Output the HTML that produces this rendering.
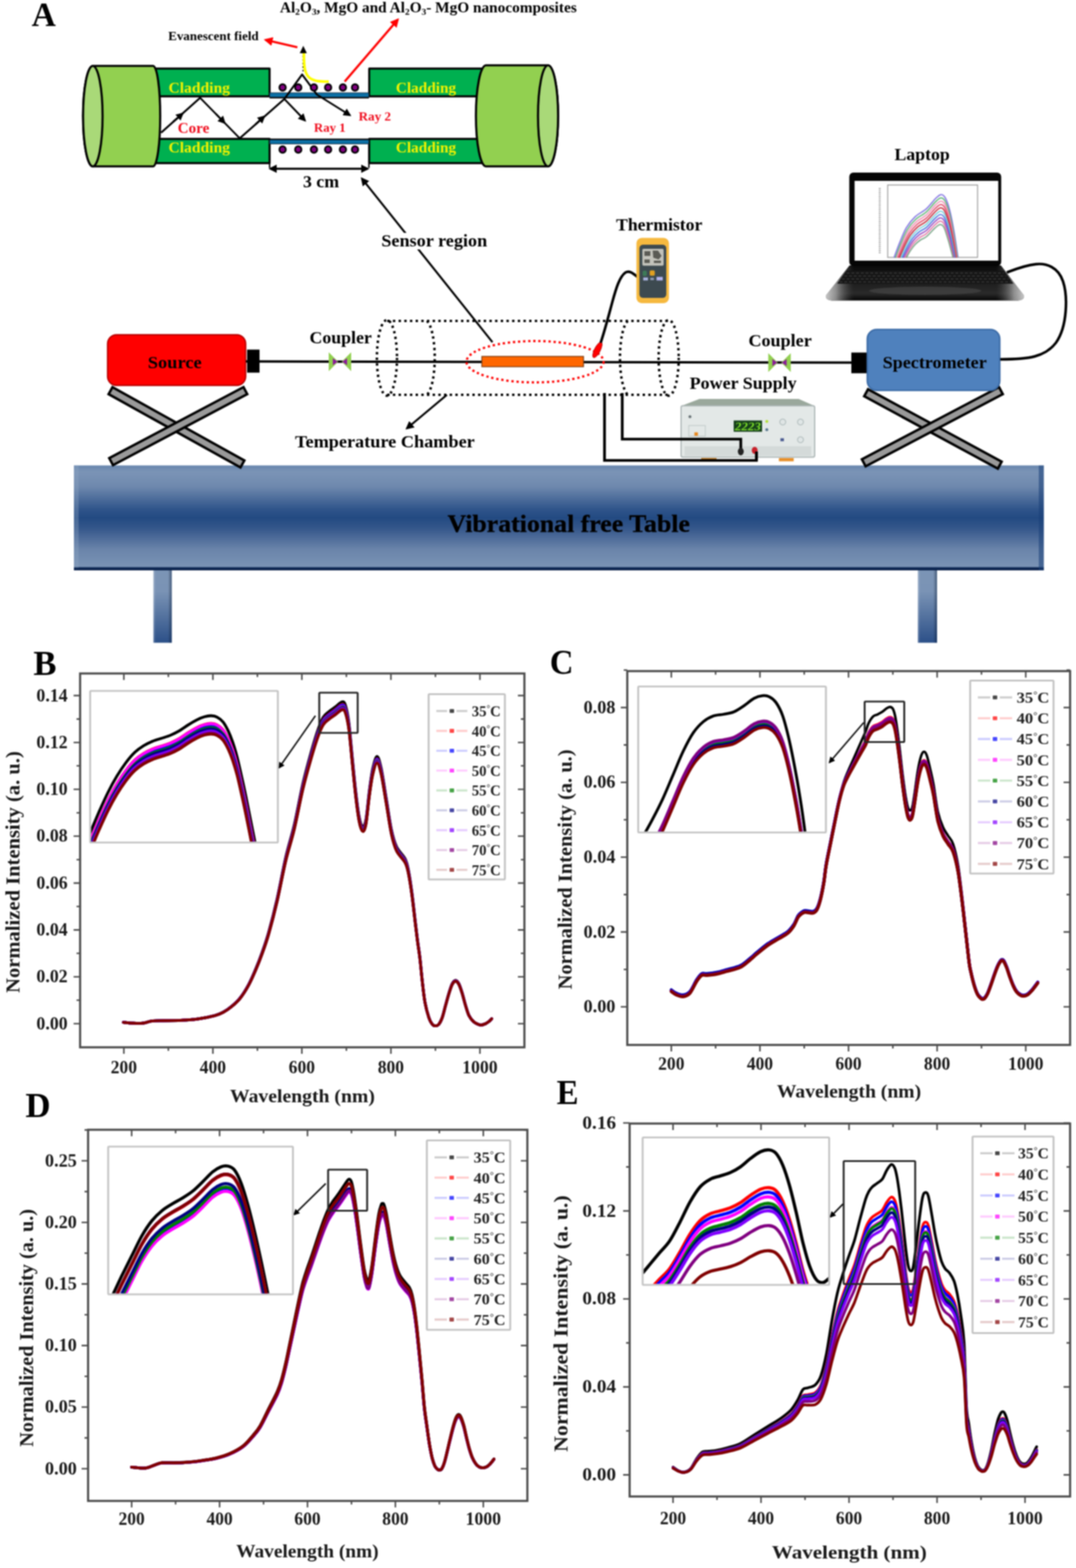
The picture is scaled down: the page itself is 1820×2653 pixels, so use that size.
<!DOCTYPE html>
<html lang="en"><head><meta charset="utf-8"><title>Fiber optic temperature sensor figure</title>
<style>
html,body{margin:0;padding:0;background:#fff}
body{width:1820px;height:2653px;overflow:hidden}
svg{display:block;filter:blur(1.1px)}
svg text{font-family:"Liberation Serif",serif;font-weight:bold}
</style></head><body>
<svg width="1820" height="2653" viewBox="0 0 1820 2653">
<rect width="1820" height="2653" fill="#fff"/>
<defs>
<linearGradient id="tb" x1="0" y1="0" x2="0" y2="1">
<stop offset="0" stop-color="#6685ad"/><stop offset="0.06" stop-color="#7b94b6"/><stop offset="0.2" stop-color="#6f89ae"/>
<stop offset="0.42" stop-color="#2f548a"/><stop offset="0.5" stop-color="#234a82"/><stop offset="0.6" stop-color="#35578b"/>
<stop offset="0.8" stop-color="#6a84aa"/><stop offset="0.965" stop-color="#7a93b5"/><stop offset="0.975" stop-color="#0f2a57"/><stop offset="1" stop-color="#0a2048"/>
</linearGradient>
<linearGradient id="lg" x1="0" y1="0" x2="0" y2="1">
<stop offset="0" stop-color="#7c95b6"/><stop offset="0.3" stop-color="#7a93b5"/><stop offset="1" stop-color="#2c5088"/>
</linearGradient>
<linearGradient id="lgx" x1="0" y1="0" x2="1" y2="0">
<stop offset="0" stop-color="#fff" stop-opacity="0.25"/><stop offset="0.12" stop-color="#fff" stop-opacity="0"/><stop offset="0.8" stop-color="#000" stop-opacity="0"/><stop offset="1" stop-color="#001a40" stop-opacity="0.45"/>
</linearGradient>
<linearGradient id="lapb" x1="0" y1="0" x2="0" y2="1">
<stop offset="0" stop-color="#0a0a0a"/><stop offset="0.5" stop-color="#1e1e1e"/><stop offset="0.8" stop-color="#2a2a2a"/><stop offset="1" stop-color="#050505"/>
</linearGradient>
<linearGradient id="lapx" x1="0" y1="0" x2="1" y2="0">
<stop offset="0" stop-color="#d0d0d0" stop-opacity="0.95"/><stop offset="0.05" stop-color="#aaa" stop-opacity="0.8"/><stop offset="0.14" stop-color="#555" stop-opacity="0"/><stop offset="0.86" stop-color="#555" stop-opacity="0"/><stop offset="0.95" stop-color="#aaa" stop-opacity="0.8"/><stop offset="1" stop-color="#d0d0d0" stop-opacity="0.95"/>
</linearGradient>
<marker id="ah" viewBox="0 0 10 10" refX="8" refY="5" markerWidth="4.2" markerHeight="4.2" orient="auto-start-reverse"><path d="M0 0L10 5L0 10z"/></marker>
<marker id="ahr" viewBox="0 0 10 10" refX="8" refY="5" markerWidth="4.2" markerHeight="4.2" orient="auto-start-reverse"><path d="M0 0L10 5L0 10z" fill="#f00"/></marker>
</defs>
<g id="table">
<rect x="259.5" y="963" width="31" height="124.5" fill="url(#lg)"/>
<rect x="259.5" y="963" width="31" height="124.5" fill="url(#lgx)"/>
<rect x="1552.5" y="963" width="32.5" height="124.5" fill="url(#lg)"/>
<rect x="1552.5" y="963" width="32.5" height="124.5" fill="url(#lgx)"/>
<rect x="125" y="787.5" width="1640.5" height="177.5" fill="url(#tb)"/>
<rect x="125" y="787.5" width="8" height="173" fill="#8fa6c4" opacity="0.35"/>
<rect x="1757" y="787.5" width="8.5" height="177.5" fill="#1a3f78" opacity="0.55"/>
<text x="757.0" y="900.0" font-size="42.5" textLength="410.0" lengthAdjust="spacingAndGlyphs" stroke="#000" stroke-width="0.5">Vibrational free Table</text>
</g>
<g id="stands">
<rect x="0" y="-6.75" width="255.2" height="13.5" fill="#9a9a9a" stroke="#000" stroke-width="4.2" transform="translate(187.0 661.0) rotate(29.08)"/>
<rect x="0" y="-6.75" width="256.8" height="13.5" fill="#9a9a9a" stroke="#000" stroke-width="4.2" transform="translate(415.0 661.0) rotate(152.14)"/>
<rect x="0" y="-6.75" width="257.1" height="13.5" fill="#9a9a9a" stroke="#000" stroke-width="4.2" transform="translate(1465.0 664.5) rotate(28.46)"/>
<rect x="0" y="-6.75" width="262.1" height="13.5" fill="#9a9a9a" stroke="#000" stroke-width="4.2" transform="translate(1693.0 661.0) rotate(152.26)"/>
</g>
<rect x="182" y="566.5" width="233.5" height="85.5" rx="15" fill="#ff0000" stroke="#b80000" stroke-width="2.4"/>
<text x="250.0" y="622.5" font-size="30" textLength="91.0" lengthAdjust="spacingAndGlyphs">Source</text>
<rect x="418" y="591.5" width="21" height="39" fill="#000"/>
<line x1="416" y1="611.5" x2="1441" y2="613.5" stroke="#000" stroke-width="4"/>
<rect x="1440" y="596.5" width="27" height="35" fill="#000"/>
<rect x="1467" y="557.5" width="224" height="103" rx="16" fill="#4f81bd" stroke="#3a6aa6" stroke-width="2.6"/>
<text x="1493.0" y="623.0" font-size="30" textLength="176.0" lengthAdjust="spacingAndGlyphs">Spectrometer</text>
<path d="M1692 608 C1740 608 1768 604 1786 580 C1806 552 1806 500 1798 476 C1790 452 1770 445 1752 447 C1733 449 1716 456 1703 461" fill="none" stroke="#000" stroke-width="4.4"/>
<path d="M556 596L572 612L556 628z" fill="#92d050"/><path d="M594 596L578 612L594 628z" fill="#92d050"/><path d="M563 606L571 612L563 618z" fill="#8a1a9a"/><path d="M587 606L579 612L587 618z" fill="#8a1a9a"/>
<path d="M1299.5 597.5L1315.5 613.5L1299.5 629.5z" fill="#92d050"/><path d="M1337.5 597.5L1321.5 613.5L1337.5 629.5z" fill="#92d050"/><path d="M1306.5 607.5L1314.5 613.5L1306.5 619.5z" fill="#8a1a9a"/><path d="M1330.5 607.5L1322.5 613.5L1330.5 619.5z" fill="#8a1a9a"/>
<text x="523.5" y="581.0" font-size="30" textLength="105.5" lengthAdjust="spacingAndGlyphs">Coupler</text>
<text x="1266.0" y="586.0" font-size="30" textLength="107.0" lengthAdjust="spacingAndGlyphs">Coupler</text>
<g fill="none" stroke="#000" stroke-width="4.2" stroke-dasharray="4 5.6">
<ellipse cx="654.5" cy="605.5" rx="17" ry="64"/>
<path d="M722 543 A17 64 0 0 1 722 668"/>
<line x1="655" y1="543" x2="1132" y2="543"/>
<line x1="655" y1="668" x2="1132" y2="668"/>
<ellipse cx="1131" cy="605.5" rx="17" ry="64"/>
<path d="M1062 543 A17 64 0 0 0 1062 668"/>
</g>
<ellipse cx="905" cy="612" rx="116" ry="35" fill="none" stroke="#f00" stroke-width="3.8" stroke-dasharray="3.8 4.8"/>
<rect x="815" y="603" width="172" height="17.5" fill="#ff6600" stroke="#7a3b10" stroke-width="1.5"/>
<ellipse cx="1010.5" cy="592" rx="5" ry="14.5" fill="#f00" stroke="#b00000" stroke-width="1" transform="rotate(27 1010.5 592)"/>
<path d="M1016 580 C1024 556 1030 532 1036 510 C1042 488 1048 468 1058 461 C1066 456 1074 466 1083 472" fill="none" stroke="#000" stroke-width="4.4"/>
<g id="therm">
<rect x="1076.5" y="402.5" width="55" height="110.5" rx="9" fill="#f6b93f"/>
<rect x="1081.5" y="414" width="45.5" height="90" rx="6" fill="#3d4a50"/>
<rect x="1086.5" y="421" width="36" height="28.5" rx="2" fill="#c3c3bb"/>
<path d="M1090 425h10v8h-10zM1104 424l9 0l6 9l-5 6l-9-3zM1090 439h9v6h-9zM1106 441h12v4h-12z" fill="#5b5b55"/>
<rect x="1099" y="457.5" width="8.5" height="9" rx="2" fill="#e2a020"/>
<rect x="1087" y="458" width="7" height="9" rx="2" fill="#3d7a58"/>
<rect x="1088" y="469.5" width="8" height="5" fill="#aab4e0"/><rect x="1100" y="470" width="6" height="4" fill="#8f9ab0"/><rect x="1110.5" y="468.5" width="10.5" height="6" fill="#b4b4f0"/>
</g>
<text x="1042.0" y="389.5" font-size="30" textLength="146.0" lengthAdjust="spacingAndGlyphs">Thermistor</text>
<line x1="833" y1="579" x2="612" y2="302" stroke="#000" stroke-width="3.4" marker-end="url(#ah)"/>
<rect x="640" y="394" width="190" height="28" fill="#fff"/>
<text x="645.0" y="417.0" font-size="30" textLength="179.0" lengthAdjust="spacingAndGlyphs">Sensor region</text>
<line x1="756" y1="668" x2="688" y2="725" stroke="#000" stroke-width="3.4" marker-end="url(#ah)"/>
<text x="499.0" y="757.0" font-size="30" textLength="304.0" lengthAdjust="spacingAndGlyphs">Temperature Chamber</text>
<g id="psu">
<path d="M1183 675L1351 675L1378 687L1152 687z" fill="#9aa89c"/>
<rect x="1152" y="686.5" width="226" height="87" rx="3" fill="#e3e8e7" stroke="#aab4b4" stroke-width="2"/>
<rect x="1158" y="755" width="214" height="16" fill="#d4dad9"/>
<rect x="1241" y="711.5" width="48" height="19" fill="#16401a"/>
<text x="1243.0" y="728.0" font-size="19" fill="#7bdc2a" textLength="44.0" lengthAdjust="spacingAndGlyphs" font-family="Liberation Sans,sans-serif" font-style="italic">2223</text>
<circle cx="1297" cy="713" r="2.5" fill="#b4e03a"/><circle cx="1297" cy="727" r="2.5" fill="#5a7890"/>
<rect x="1174.5" y="731.5" width="6" height="6.5" fill="#e8871e"/>
<path d="M1165 720h28v18h-28z" fill="none" stroke="#c4cccc" stroke-width="1.5"/>
<circle cx="1324" cy="714" r="5" fill="#dfe5e5" stroke="#b0bcbc" stroke-width="1.5"/><circle cx="1354" cy="714" r="5" fill="#dfe5e5" stroke="#b0bcbc" stroke-width="1.5"/><circle cx="1354" cy="744" r="5" fill="#dfe5e5" stroke="#b0bcbc" stroke-width="1.5"/>
<rect x="1320" y="741.5" width="6" height="5" fill="#4a5a90"/>
<circle cx="1167" cy="705" r="2.5" fill="#6a7478"/>
<rect x="1186" y="775" width="26" height="5" fill="#c87818"/><rect x="1317.5" y="775" width="25" height="5.5" fill="#e8902a"/>
</g>
<text x="1166.5" y="657.5" font-size="30" textLength="181.0" lengthAdjust="spacingAndGlyphs">Power Supply</text>
<path d="M1022.5 665V779H1279.5V764" fill="none" stroke="#000" stroke-width="4.6"/>
<path d="M1052.5 665V743H1253V762" fill="none" stroke="#000" stroke-width="4.6"/>
<ellipse cx="1253" cy="764" rx="5" ry="6.5" fill="#222"/>
<ellipse cx="1276.5" cy="762" rx="5" ry="6" fill="#c8202a"/>
<path d="M1279.5 779V764" fill="none" stroke="#000" stroke-width="4.6"/>
<g id="laptop">
<path d="M1437 449L1693 449L1732 500Q1733 508 1722 508.5L1407 508.5Q1396 508 1397 500z" fill="url(#lapb)"/>
<path d="M1437 449L1693 449L1732 500Q1733 508 1722 508.5L1407 508.5Q1396 508 1397 500z" fill="url(#lapx)"/>
<path d="M1432 458L1698 458L1714 480L1416 480z" fill="#161616"/>
<path d="M1432 462H1698M1428 467H1702M1424 472H1706M1420 477H1710" stroke="#3c3c3c" stroke-width="1.6" stroke-dasharray="5 3" fill="none"/>
<ellipse cx="1565" cy="492" rx="95" ry="7" fill="#444" opacity="0.7"/>
<rect x="1436.5" y="292" width="257" height="158" rx="7" fill="#050505"/>
<rect x="1445.5" y="306" width="243" height="135" fill="#fff"/>
<rect x="1501.5" y="313" width="152" height="122.500" fill="#fff" stroke="#9a9a9a" stroke-width="1.6"/>
<line x1="1488" y1="318" x2="1488" y2="430" stroke="#666" stroke-width="3" stroke-dasharray="2 1.5" opacity="0.6"/>
<path d="M1512.2 436.0C1513.8 431.7 1518.5 418.4 1522.0 410.0C1525.5 401.6 1528.7 392.6 1533.0 385.4C1537.3 378.2 1542.4 371.9 1548.0 366.6C1553.6 361.3 1561.1 358.4 1566.8 353.4C1572.5 348.4 1577.8 340.5 1581.9 336.5C1586.0 332.5 1588.5 329.6 1591.3 329.3C1594.1 329.0 1596.3 330.3 1598.8 334.6C1601.3 338.9 1603.8 345.6 1606.3 355.3C1608.8 365.0 1611.6 379.6 1613.9 393.0C1616.2 406.4 1619.3 428.8 1620.4 436.0" fill="none" stroke="#7a6ae0" stroke-width="2.2" opacity="0.9"/>
<path d="M1514.5 436.0C1516.1 431.9 1520.6 419.5 1524.0 411.6C1527.4 403.6 1530.5 395.3 1534.7 388.5C1538.8 381.8 1543.6 376.0 1549.0 371.0C1554.4 366.0 1561.3 363.5 1566.8 358.6C1572.3 353.8 1577.8 345.9 1581.9 341.9C1586.0 338.0 1588.4 335.2 1591.2 334.9C1594.0 334.6 1596.1 335.9 1598.6 340.2C1601.1 344.6 1603.6 351.8 1606.1 361.2C1608.5 370.5 1611.0 383.6 1613.2 396.1C1615.5 408.6 1618.4 429.4 1619.5 436.0" fill="none" stroke="#58b070" stroke-width="2.2" opacity="0.9"/>
<path d="M1516.8 436.0C1518.4 432.2 1522.7 420.5 1526.0 413.1C1529.3 405.7 1532.3 398.0 1536.3 391.7C1540.3 385.4 1544.9 380.0 1550.0 375.4C1555.1 370.7 1561.5 368.5 1566.8 363.9C1572.1 359.2 1577.9 351.3 1581.9 347.4C1585.9 343.5 1588.3 340.8 1591.1 340.5C1593.8 340.3 1595.9 341.5 1598.4 345.9C1600.9 350.3 1603.5 358.1 1605.9 367.0C1608.2 375.9 1610.5 387.7 1612.6 399.2C1614.7 410.7 1617.5 429.9 1618.5 436.0" fill="none" stroke="#f08ab0" stroke-width="2.2" opacity="0.9"/>
<path d="M1519.1 436.0C1520.6 432.4 1524.9 421.5 1528.0 414.7C1531.1 407.8 1534.2 400.6 1538.0 394.8C1541.8 389.0 1546.2 384.0 1551.0 379.7C1555.8 375.4 1561.6 373.6 1566.8 369.1C1572.0 364.6 1577.9 356.6 1581.9 352.8C1585.9 349.0 1588.2 346.3 1591.0 346.1C1593.7 345.9 1595.8 347.1 1598.2 351.5C1600.7 356.0 1603.4 364.4 1605.7 372.9C1608.0 381.3 1609.9 391.8 1611.9 402.3C1613.9 412.9 1616.7 430.4 1617.6 436.0" fill="none" stroke="#e04060" stroke-width="2.2" opacity="0.9"/>
<path d="M1521.4 436.0C1522.9 432.7 1527.0 422.6 1530.0 416.2C1533.0 409.9 1536.0 403.3 1539.7 397.9C1543.3 392.6 1547.5 388.0 1552.0 384.1C1556.5 380.2 1561.8 378.6 1566.8 374.3C1571.8 370.0 1577.9 362.0 1581.9 358.2C1585.9 354.5 1588.2 351.9 1590.9 351.7C1593.5 351.6 1595.6 352.7 1598.0 357.2C1600.4 361.7 1603.2 370.7 1605.5 378.7C1607.7 386.8 1609.4 395.9 1611.3 405.4C1613.1 415.0 1615.8 430.9 1616.7 436.0" fill="none" stroke="#c02030" stroke-width="2.2" opacity="0.9"/>
<path d="M1523.8 436.0C1525.1 433.0 1529.1 423.6 1532.0 417.8C1534.9 412.0 1537.8 405.9 1541.3 401.1C1544.8 396.2 1548.8 392.1 1553.0 388.5C1557.2 384.9 1562.0 383.7 1566.8 379.6C1571.6 375.4 1577.9 367.4 1581.9 363.7C1585.9 360.0 1588.1 357.5 1590.7 357.4C1593.4 357.2 1595.4 358.3 1597.8 362.8C1600.2 367.4 1603.1 377.0 1605.2 384.6C1607.4 392.2 1608.9 400.0 1610.6 408.6C1612.4 417.1 1614.9 431.4 1615.7 436.0" fill="none" stroke="#70d0d8" stroke-width="2.2" opacity="0.9"/>
<path d="M1526.1 436.0C1527.4 433.2 1531.2 424.6 1534.0 419.3C1536.8 414.0 1539.7 408.6 1543.0 404.2C1546.3 399.8 1550.0 396.1 1554.0 392.9C1558.0 389.6 1562.1 388.8 1566.8 384.8C1571.5 380.8 1577.9 372.7 1581.9 369.1C1585.9 365.5 1588.0 363.1 1590.6 363.0C1593.2 362.9 1595.2 363.9 1597.6 368.5C1600.0 373.0 1603.0 383.2 1605.0 390.4C1607.1 397.6 1608.3 404.1 1610.0 411.7C1611.6 419.3 1614.0 431.9 1614.8 436.0" fill="none" stroke="#4070e0" stroke-width="2.2" opacity="0.9"/>
<path d="M1528.4 436.0C1529.6 433.5 1533.3 425.7 1536.0 420.9C1538.7 416.1 1541.5 411.3 1544.7 407.3C1547.8 403.4 1551.3 400.1 1555.0 397.2C1558.7 394.4 1562.3 393.8 1566.8 390.0C1571.3 386.2 1577.9 378.1 1581.9 374.5C1585.9 371.0 1587.9 368.6 1590.5 368.6C1593.1 368.5 1595.0 369.5 1597.4 374.1C1599.8 378.7 1602.8 389.5 1604.8 396.3C1606.8 403.1 1607.8 408.2 1609.3 414.8C1610.8 421.4 1613.1 432.5 1613.9 436.0" fill="none" stroke="#9040c0" stroke-width="2.2" opacity="0.9"/>
<path d="M1530.7 436.0C1531.9 433.7 1535.4 426.7 1538.0 422.4C1540.6 418.2 1543.3 413.9 1546.3 410.5C1549.3 407.0 1552.6 404.2 1556.0 401.6C1559.4 399.1 1562.5 398.9 1566.8 395.3C1571.1 391.7 1578.0 383.5 1581.9 380.0C1585.8 376.5 1587.9 374.2 1590.4 374.2C1593.0 374.2 1594.8 375.1 1597.2 379.8C1599.6 384.4 1602.7 395.8 1604.6 402.1C1606.5 408.5 1607.3 412.2 1608.7 417.9C1610.0 423.5 1612.2 433.0 1612.9 436.0" fill="none" stroke="#e070a0" stroke-width="2.2" opacity="0.9"/>
<path d="M1533.0 436.0C1534.2 434.0 1537.5 427.7 1540.0 424.0C1542.5 420.3 1545.2 416.6 1548.0 413.6C1550.8 410.6 1553.9 408.2 1557.0 406.0C1560.1 403.8 1562.6 403.9 1566.8 400.5C1571.0 397.1 1578.0 388.8 1581.9 385.4C1585.8 381.9 1587.8 379.8 1590.3 379.8C1592.8 379.8 1594.7 380.7 1597.0 385.4C1599.3 390.1 1602.6 402.1 1604.4 408.0C1606.2 413.9 1606.7 416.3 1608.0 421.0C1609.3 425.7 1611.3 433.5 1612.0 436.0" fill="none" stroke="#70a080" stroke-width="2.2" opacity="0.9"/>
</g>
<text x="1513.0" y="270.5" font-size="30" textLength="93.5" lengthAdjust="spacingAndGlyphs">Laptop</text>
<g id="fibre" stroke-linejoin="round">
<rect x="262" y="116" width="194" height="47" fill="#00b050" stroke="#000" stroke-width="3.4"/>
<rect x="262" y="235" width="194" height="41" fill="#00b050" stroke="#000" stroke-width="3.4"/>
<rect x="624.5" y="116" width="196" height="47" fill="#00b050" stroke="#000" stroke-width="3.4"/>
<rect x="624.5" y="235" width="196" height="41" fill="#00b050" stroke="#000" stroke-width="3.4"/>
<rect x="456" y="157" width="168" height="7.5" fill="#0b6fa4" stroke="#123" stroke-width="1.2"/>
<rect x="456" y="236.5" width="168" height="7" fill="#0b6fa4" stroke="#123" stroke-width="1.2"/>
<line x1="456" y1="165.5" x2="624" y2="165.5" stroke="#000" stroke-width="2"/><line x1="456" y1="235.5" x2="624" y2="235.5" stroke="#000" stroke-width="2"/>
<line x1="456" y1="244" x2="456" y2="284" stroke="#000" stroke-width="2.4"/><line x1="624" y1="244" x2="624" y2="284" stroke="#000" stroke-width="2.4"/>
<path d="M157 111.5L259 111.5A12 85 0 0 1 259 281.500L157 281.5A16.500 85 0 0 1 157 111.5z" fill="#92d050" stroke="#000" stroke-width="3.6"/>
<ellipse cx="157" cy="196.5" rx="16.5" ry="85" fill="#a9d978" stroke="#000" stroke-width="3.6"/>
<path d="M822 110.500L927 110.500A17 85.500 0 0 1 927 281.500L822 281.500A17 85.500 0 0 1 822 110.500z" fill="#92d050" stroke="#000" stroke-width="3.6"/>
<ellipse cx="927" cy="196" rx="17" ry="85.500" fill="#a9d978" stroke="#000" stroke-width="3.6"/>
<path d="M272.5 224.5L338.500 165.5L405.500 234L481 167.500L511 126L536 160L592 195" fill="none" stroke="#000" stroke-width="3.2" marker-end="url(#ah)"/>
<path d="M481 167.500L516 204" fill="none" stroke="#000" stroke-width="3.2" marker-end="url(#ah)"/>
<path d="M293 206L309 192" fill="none" stroke="#000" stroke-width="3.2" marker-end="url(#ah)"/>
<path d="M365 192.500L380 208" fill="none" stroke="#000" stroke-width="3.2" marker-end="url(#ah)"/>
<path d="M432 210.500L447 197" fill="none" stroke="#000" stroke-width="3.2" marker-end="url(#ah)"/>
<line x1="512.500" y1="88" x2="512.500" y2="124" stroke="#000" stroke-width="1.6" stroke-dasharray="3 3"/>
<path d="M514 90C514 112 515 125 524 132C533 138.500 545 138 556 138" fill="none" stroke="#ffff00" stroke-width="4.4"/>
<path d="M513 77.500L519 90L507 90z" fill="#000"/>
<line x1="503" y1="80" x2="449" y2="67.500" stroke="#f00" stroke-width="3.6" marker-end="url(#ahr)"/>
<line x1="583" y1="138" x2="673" y2="33" stroke="#f00" stroke-width="3.6" marker-end="url(#ahr)"/>
<circle cx="478" cy="148" r="5.4" fill="#800080" stroke="#000" stroke-width="3"/>
<circle cx="478" cy="253" r="5.4" fill="#800080" stroke="#000" stroke-width="3"/>
<circle cx="504.5" cy="148" r="5.4" fill="#800080" stroke="#000" stroke-width="3"/>
<circle cx="504.5" cy="253" r="5.4" fill="#800080" stroke="#000" stroke-width="3"/>
<circle cx="531" cy="148" r="5.4" fill="#800080" stroke="#000" stroke-width="3"/>
<circle cx="531" cy="253" r="5.4" fill="#800080" stroke="#000" stroke-width="3"/>
<circle cx="555" cy="148" r="5.4" fill="#800080" stroke="#000" stroke-width="3"/>
<circle cx="555" cy="253" r="5.4" fill="#800080" stroke="#000" stroke-width="3"/>
<circle cx="580" cy="148" r="5.4" fill="#800080" stroke="#000" stroke-width="3"/>
<circle cx="580" cy="253" r="5.4" fill="#800080" stroke="#000" stroke-width="3"/>
<circle cx="600.5" cy="148" r="5.4" fill="#800080" stroke="#000" stroke-width="3"/>
<circle cx="600.5" cy="253" r="5.4" fill="#800080" stroke="#000" stroke-width="3"/>
</g>
<text x="285.0" y="156.5" font-size="26" fill="#f2f200" textLength="104.0" lengthAdjust="spacingAndGlyphs">Cladding</text>
<text x="285.0" y="257.5" font-size="26" fill="#f2f200" textLength="104.0" lengthAdjust="spacingAndGlyphs">Cladding</text>
<text x="669.5" y="156.5" font-size="26" fill="#f2f200" textLength="102.0" lengthAdjust="spacingAndGlyphs">Cladding</text>
<text x="669.5" y="257.5" font-size="26" fill="#f2f200" textLength="102.0" lengthAdjust="spacingAndGlyphs">Cladding</text>
<text x="300.5" y="225.0" font-size="26" fill="#f01020" textLength="53.5" lengthAdjust="spacingAndGlyphs">Core</text>
<text x="531.0" y="222.5" font-size="21" fill="#f01020" textLength="53.5" lengthAdjust="spacingAndGlyphs">Ray 1</text>
<text x="606.5" y="204.0" font-size="21" fill="#f01020" textLength="55.0" lengthAdjust="spacingAndGlyphs">Ray 2</text>
<text x="284.5" y="67.5" font-size="21" textLength="153.0" lengthAdjust="spacingAndGlyphs">Evanescent field</text>
<line x1="457" y1="285.500" x2="622" y2="285.500" stroke="#000" stroke-width="3.4" marker-start="url(#ah)" marker-end="url(#ah)"/>
<text x="512.5" y="317.0" font-size="30" textLength="61.0" lengthAdjust="spacingAndGlyphs">3 cm</text>
<text x="473.5" y="21.0" font-size="24.5" textLength="502.0" lengthAdjust="spacingAndGlyphs">Al<tspan font-size="15" dy="4">2</tspan><tspan dy="-4">O</tspan><tspan font-size="15" dy="4">3</tspan><tspan dy="-4">, MgO and Al</tspan><tspan font-size="15" dy="4">2</tspan><tspan dy="-4">O</tspan><tspan font-size="15" dy="4">3</tspan><tspan dy="-4">- MgO nanocomposites</tspan></text>
<text x="53.5" y="44.0" font-size="56" textLength="41.0" lengthAdjust="spacingAndGlyphs">A</text>
<g id="chartB">
<rect x="135.5" y="1139.5" width="751.5" height="632.5" fill="#fff" stroke="#4c4c4c" stroke-width="3.6"/>
<text x="209.5" y="1815.5" font-size="31" text-anchor="middle" fill="#1a1a1a" textLength="44.5" lengthAdjust="spacingAndGlyphs">200</text>
<text x="360.1" y="1815.5" font-size="31" text-anchor="middle" fill="#1a1a1a" textLength="44.5" lengthAdjust="spacingAndGlyphs">400</text>
<text x="510.6" y="1815.5" font-size="31" text-anchor="middle" fill="#1a1a1a" textLength="44.5" lengthAdjust="spacingAndGlyphs">600</text>
<text x="661.2" y="1815.5" font-size="31" text-anchor="middle" fill="#1a1a1a" textLength="44.5" lengthAdjust="spacingAndGlyphs">800</text>
<text x="811.8" y="1815.5" font-size="31" text-anchor="middle" fill="#1a1a1a" textLength="60.0" lengthAdjust="spacingAndGlyphs">1000</text>
<text x="114.5" y="1741.6" font-size="30.5" text-anchor="end" fill="#1a1a1a" textLength="53.0" lengthAdjust="spacingAndGlyphs">0.00</text>
<text x="114.5" y="1662.3" font-size="30.5" text-anchor="end" fill="#1a1a1a" textLength="53.0" lengthAdjust="spacingAndGlyphs">0.02</text>
<text x="114.5" y="1583.0" font-size="30.5" text-anchor="end" fill="#1a1a1a" textLength="53.0" lengthAdjust="spacingAndGlyphs">0.04</text>
<text x="114.5" y="1503.7" font-size="30.5" text-anchor="end" fill="#1a1a1a" textLength="53.0" lengthAdjust="spacingAndGlyphs">0.06</text>
<text x="114.5" y="1424.4" font-size="30.5" text-anchor="end" fill="#1a1a1a" textLength="53.0" lengthAdjust="spacingAndGlyphs">0.08</text>
<text x="114.5" y="1345.1" font-size="30.5" text-anchor="end" fill="#1a1a1a" textLength="53.0" lengthAdjust="spacingAndGlyphs">0.10</text>
<text x="114.5" y="1265.8" font-size="30.5" text-anchor="end" fill="#1a1a1a" textLength="53.0" lengthAdjust="spacingAndGlyphs">0.12</text>
<text x="114.5" y="1186.5" font-size="30.5" text-anchor="end" fill="#1a1a1a" textLength="53.0" lengthAdjust="spacingAndGlyphs">0.14</text>
<path d="M209.5 1139.5v11M209.5 1772v11M284.8 1139.5v6M284.8 1772v6M360.1 1139.5v11M360.1 1772v11M435.4 1139.5v6M435.4 1772v6M510.6 1139.5v11M510.6 1772v11M585.9 1139.5v6M585.9 1772v6M661.2 1139.5v11M661.2 1772v11M736.5 1139.5v6M736.5 1772v6M811.8 1139.5v11M811.8 1772v11M135.5 1732.0h-11M887 1732.0h-11M135.5 1692.3h-6M887 1692.3h-6M135.5 1652.7h-11M887 1652.7h-11M135.5 1613.0h-6M887 1613.0h-6M135.5 1573.4h-11M887 1573.4h-11M135.5 1533.8h-6M887 1533.8h-6M135.5 1494.1h-11M887 1494.1h-11M135.5 1454.5h-6M887 1454.5h-6M135.5 1414.8h-11M887 1414.8h-11M135.5 1375.2h-6M887 1375.2h-6M135.5 1335.5h-11M887 1335.5h-11M135.5 1295.8h-6M887 1295.8h-6M135.5 1256.2h-11M887 1256.2h-11M135.5 1216.6h-6M887 1216.6h-6M135.5 1176.9h-11M887 1176.9h-11" stroke="#4c4c4c" stroke-width="2.6" fill="none"/>
<text x="389.0" y="1865.0" font-size="32" fill="#1a1a1a" textLength="245.0" lengthAdjust="spacingAndGlyphs">Wavelength (nm)</text>
<text x="32.5" y="1680" font-size="34" fill="#1a1a1a" textLength="409.0" lengthAdjust="spacingAndGlyphs" transform="rotate(-90 32.5 1680)">Normalized Intensity (a. u.)</text>
<text x="56.5" y="1141.5" font-size="59" textLength="39.0" lengthAdjust="spacingAndGlyphs">B</text>
<clipPath id="cpB"><rect x="135.5" y="1139.5" width="751.5" height="632.5"/></clipPath>
<g clip-path="url(#cpB)" fill="none" stroke-width="4.7" stroke-linejoin="round" stroke-linecap="round">
<path d="M208.8 1729.7C211.4 1730.0 219.1 1731.0 224.6 1731.2C230.1 1731.5 236.7 1731.8 242.0 1731.2C247.3 1730.6 250.6 1728.2 256.4 1727.5C262.2 1726.8 268.4 1727.0 276.6 1726.8C284.8 1726.6 295.8 1726.8 305.4 1726.3C315.0 1725.8 324.7 1725.3 334.3 1724.0C343.9 1722.7 356.0 1720.1 363.2 1718.2C370.4 1716.3 372.8 1715.1 377.6 1712.4C382.4 1709.8 387.2 1706.4 392.0 1702.3C396.8 1698.2 401.6 1694.2 406.4 1687.9C411.2 1681.7 416.5 1673.1 420.9 1664.8C425.3 1656.5 429.3 1646.8 433.0 1638.0C436.7 1629.2 439.4 1622.2 443.0 1612.0C446.6 1601.8 450.1 1592.5 454.4 1577.1C458.7 1561.7 464.1 1540.6 468.9 1519.4C473.7 1498.2 478.5 1470.8 483.3 1450.1C488.1 1429.4 492.9 1416.0 497.7 1395.3C502.5 1374.6 507.4 1346.7 512.2 1326.0C517.0 1305.3 522.3 1286.6 526.6 1271.2C530.9 1255.8 534.7 1243.3 538.1 1233.7C541.5 1224.1 543.9 1218.3 546.8 1213.5C549.7 1208.7 552.0 1207.7 555.4 1204.8C558.8 1201.9 563.1 1199.1 567.0 1196.2C570.9 1193.3 575.6 1188.0 578.5 1187.5C581.4 1187.0 582.4 1187.5 584.3 1193.3C586.2 1199.1 588.2 1207.8 590.1 1222.2C592.0 1236.6 593.9 1260.7 595.8 1279.9C597.7 1299.1 599.7 1320.8 601.6 1337.6C603.5 1354.4 605.5 1370.8 607.4 1380.9C609.3 1391.0 611.3 1397.2 613.2 1398.2C615.1 1399.2 617.0 1396.8 618.9 1386.7C620.8 1376.6 622.8 1352.0 624.7 1337.6C626.6 1323.2 628.3 1309.7 630.5 1300.1C632.7 1290.5 635.3 1279.9 637.7 1279.9C640.1 1279.9 642.2 1288.1 644.9 1300.1C647.5 1312.1 650.7 1334.7 653.6 1352.0C656.5 1369.3 659.3 1390.5 662.2 1404.0C665.1 1417.5 667.0 1424.6 670.9 1432.8C674.8 1441.0 681.9 1446.3 685.3 1453.0C688.7 1459.7 689.2 1463.6 691.1 1473.2C693.0 1482.8 695.0 1496.4 696.9 1510.8C698.8 1525.2 701.0 1546.3 702.6 1559.8C704.2 1573.3 705.2 1582.0 706.5 1592.0C707.8 1602.0 709.1 1609.1 710.3 1620.0C711.6 1630.9 712.7 1645.1 714.1 1657.6C715.5 1670.2 716.9 1684.6 718.8 1695.3C720.7 1705.9 723.4 1715.4 725.4 1721.6C727.4 1727.9 729.2 1730.6 731.0 1732.9C732.9 1735.3 734.8 1735.7 736.7 1735.7C738.6 1735.7 740.5 1735.3 742.3 1732.9C744.2 1730.6 746.1 1727.0 748.0 1721.6C749.9 1716.3 751.7 1707.8 753.6 1700.9C755.5 1694.0 757.4 1686.3 759.3 1680.2C761.2 1674.1 763.0 1667.8 764.9 1664.2C766.8 1660.6 768.7 1658.6 770.6 1658.6C772.4 1658.6 774.3 1660.6 776.2 1664.2C778.1 1667.8 780.0 1674.1 781.9 1680.2C783.7 1686.3 785.6 1694.7 787.5 1700.9C789.4 1707.2 791.0 1713.3 793.1 1717.9C795.3 1722.4 798.2 1725.7 800.7 1728.2C803.2 1730.7 806.0 1731.9 808.2 1732.9C810.4 1734.0 811.7 1734.6 813.9 1734.4C816.0 1734.3 819.2 1733.0 821.4 1732.0C823.6 1730.9 825.3 1729.6 827.0 1728.2C828.8 1726.8 830.9 1724.3 831.7 1723.5" stroke="#000000"/>
<path d="M208.8 1729.7C211.4 1730.0 219.1 1731.0 224.6 1731.2C230.1 1731.5 236.7 1731.8 242.0 1731.2C247.3 1730.6 250.6 1728.3 256.4 1727.5C262.2 1726.8 268.4 1727.0 276.6 1726.8C284.8 1726.6 295.8 1726.8 305.4 1726.3C315.0 1725.9 324.7 1725.4 334.3 1724.1C343.9 1722.7 356.0 1720.2 363.2 1718.3C370.4 1716.4 372.8 1715.2 377.6 1712.6C382.4 1709.9 387.2 1706.6 392.0 1702.5C396.8 1698.5 401.6 1694.5 406.4 1688.3C411.2 1682.1 416.5 1673.6 420.9 1665.3C425.3 1657.1 429.3 1647.5 433.0 1638.8C436.7 1630.0 439.4 1623.0 443.0 1613.0C446.6 1602.9 450.1 1593.6 454.4 1578.3C458.7 1563.0 464.1 1542.1 468.9 1521.1C473.7 1500.1 478.5 1472.9 483.3 1452.4C488.1 1431.8 492.9 1418.5 497.7 1398.0C502.5 1377.5 507.4 1349.8 512.2 1329.2C517.0 1308.7 522.3 1290.1 526.6 1274.9C530.9 1259.6 534.7 1247.2 538.1 1237.7C541.5 1228.1 543.9 1222.4 546.8 1217.6C549.7 1212.9 552.0 1211.9 555.4 1209.0C558.8 1206.2 563.1 1203.3 567.0 1200.5C570.9 1197.6 575.6 1192.3 578.5 1191.9C581.4 1191.4 582.4 1191.9 584.3 1197.6C586.2 1203.3 588.2 1212.0 590.1 1226.3C592.0 1240.6 593.9 1264.4 595.8 1283.5C597.7 1302.6 599.7 1324.1 601.6 1340.8C603.5 1357.5 605.5 1373.7 607.4 1383.7C609.3 1393.7 611.3 1399.9 613.2 1400.9C615.1 1401.8 617.0 1399.5 618.9 1389.5C620.8 1379.4 622.8 1355.1 624.7 1340.8C626.6 1326.4 628.3 1313.1 630.5 1303.6C632.7 1294.0 635.3 1283.5 637.7 1283.5C640.1 1283.5 642.2 1291.6 644.9 1303.6C647.5 1315.5 650.7 1337.9 653.6 1355.0C656.5 1372.2 659.3 1393.3 662.2 1406.6C665.1 1420.0 667.0 1427.1 670.9 1435.2C674.8 1443.3 681.9 1448.6 685.3 1455.2C688.7 1461.9 689.2 1465.7 691.1 1475.3C693.0 1484.8 695.0 1498.3 696.9 1512.6C698.8 1526.9 701.0 1547.8 702.6 1561.2C704.2 1574.6 705.2 1583.2 706.5 1593.1C707.8 1603.1 709.1 1610.0 710.3 1620.9C711.6 1631.7 712.7 1645.8 714.1 1658.2C715.5 1670.7 716.9 1685.0 718.8 1695.6C720.7 1706.2 723.4 1715.5 725.4 1721.7C727.4 1727.9 729.2 1730.6 731.0 1732.9C732.9 1735.2 734.8 1735.7 736.7 1735.7C738.6 1735.7 740.5 1735.2 742.3 1732.9C744.2 1730.6 746.1 1727.0 748.0 1721.7C749.9 1716.4 751.7 1708.0 753.6 1701.2C755.5 1694.3 757.4 1686.7 759.3 1680.6C761.2 1674.6 763.0 1668.3 764.9 1664.8C766.8 1661.2 768.7 1659.2 770.6 1659.2C772.4 1659.2 774.3 1661.2 776.2 1664.8C778.1 1668.3 780.0 1674.6 781.9 1680.6C783.7 1686.7 785.6 1695.0 787.5 1701.2C789.4 1707.4 791.0 1713.5 793.1 1718.0C795.3 1722.5 798.2 1725.8 800.7 1728.2C803.2 1730.7 806.0 1731.9 808.2 1732.9C810.4 1733.9 811.7 1734.6 813.9 1734.4C816.0 1734.3 819.2 1733.0 821.4 1732.0C823.6 1731.0 825.3 1729.6 827.0 1728.2C828.8 1726.8 830.9 1724.4 831.7 1723.6" stroke="#ff0000"/>
<path d="M208.8 1729.7C211.4 1730.0 219.1 1731.0 224.6 1731.2C230.1 1731.5 236.7 1731.8 242.0 1731.2C247.3 1730.6 250.6 1728.3 256.4 1727.5C262.2 1726.8 268.4 1727.0 276.6 1726.9C284.8 1726.7 295.8 1726.8 305.4 1726.4C315.0 1725.9 324.7 1725.4 334.3 1724.1C343.9 1722.7 356.0 1720.3 363.2 1718.3C370.4 1716.4 372.8 1715.2 377.6 1712.6C382.4 1710.0 387.2 1706.6 392.0 1702.6C396.8 1698.6 401.6 1694.5 406.4 1688.3C411.2 1682.2 416.5 1673.7 420.9 1665.5C425.3 1657.2 429.3 1647.7 433.0 1638.9C436.7 1630.2 439.4 1623.2 443.0 1613.2C446.6 1603.2 450.1 1593.9 454.4 1578.6C458.7 1563.4 464.1 1542.5 468.9 1521.5C473.7 1500.6 478.5 1473.4 483.3 1452.9C488.1 1432.4 492.9 1419.1 497.7 1398.7C502.5 1378.2 507.4 1350.5 512.2 1330.1C517.0 1309.6 522.3 1291.0 526.6 1275.8C530.9 1260.6 534.7 1248.2 538.1 1238.7C541.5 1229.2 543.9 1223.5 546.8 1218.7C549.7 1213.9 552.0 1212.9 555.4 1210.1C558.8 1207.2 563.1 1204.4 567.0 1201.6C570.9 1198.7 575.6 1193.4 578.5 1192.9C581.4 1192.5 582.4 1193.0 584.3 1198.7C586.2 1204.4 588.2 1213.0 590.1 1227.3C592.0 1241.6 593.9 1265.4 595.8 1284.4C597.7 1303.5 599.7 1324.9 601.6 1341.5C603.5 1358.2 605.5 1374.4 607.4 1384.4C609.3 1394.4 611.3 1400.6 613.2 1401.5C615.1 1402.5 617.0 1400.2 618.9 1390.2C620.8 1380.2 622.8 1355.8 624.7 1341.5C626.6 1327.3 628.3 1313.9 630.5 1304.4C632.7 1294.9 635.3 1284.4 637.7 1284.4C640.1 1284.4 642.2 1292.5 644.9 1304.4C647.5 1316.3 650.7 1338.7 653.6 1355.8C656.5 1372.9 659.3 1393.9 662.2 1407.3C665.1 1420.6 667.0 1427.7 670.9 1435.8C674.8 1443.9 681.9 1449.1 685.3 1455.8C688.7 1462.5 689.2 1466.3 691.1 1475.8C693.0 1485.3 695.0 1498.7 696.9 1513.0C698.8 1527.3 701.0 1548.1 702.6 1561.5C704.2 1574.9 705.2 1583.5 706.5 1593.4C707.8 1603.3 709.1 1610.3 710.3 1621.1C711.6 1632.0 712.7 1646.0 714.1 1658.4C715.5 1670.8 716.9 1685.1 718.8 1695.6C720.7 1706.2 723.4 1715.5 725.4 1721.7C727.4 1727.9 729.2 1730.6 731.0 1732.9C732.9 1735.2 734.8 1735.7 736.7 1735.7C738.6 1735.7 740.5 1735.2 742.3 1732.9C744.2 1730.6 746.1 1727.0 748.0 1721.7C749.9 1716.5 751.7 1708.1 753.6 1701.2C755.5 1694.4 757.4 1686.8 759.3 1680.7C761.2 1674.7 763.0 1668.5 764.9 1664.9C766.8 1661.3 768.7 1659.3 770.6 1659.3C772.4 1659.3 774.3 1661.3 776.2 1664.9C778.1 1668.5 780.0 1674.7 781.9 1680.7C783.7 1686.8 785.6 1695.0 787.5 1701.2C789.4 1707.4 791.0 1713.5 793.1 1718.0C795.3 1722.5 798.2 1725.8 800.7 1728.3C803.2 1730.7 806.0 1731.9 808.2 1732.9C810.4 1733.9 811.7 1734.6 813.9 1734.4C816.0 1734.2 819.2 1733.0 821.4 1732.0C823.6 1731.0 825.3 1729.7 827.0 1728.3C828.8 1726.9 830.9 1724.4 831.7 1723.6" stroke="#0000ff"/>
<path d="M208.8 1729.7C211.4 1730.0 219.1 1731.0 224.6 1731.2C230.1 1731.5 236.7 1731.8 242.0 1731.2C247.3 1730.6 250.6 1728.3 256.4 1727.6C262.2 1726.8 268.4 1727.1 276.6 1726.9C284.8 1726.7 295.8 1726.8 305.4 1726.4C315.0 1725.9 324.7 1725.4 334.3 1724.1C343.9 1722.8 356.0 1720.3 363.2 1718.4C370.4 1716.5 372.8 1715.3 377.6 1712.7C382.4 1710.1 387.2 1706.7 392.0 1702.7C396.8 1698.7 401.6 1694.7 406.4 1688.5C411.2 1682.4 416.5 1673.9 420.9 1665.7C425.3 1657.5 429.3 1648.0 433.0 1639.3C436.7 1630.6 439.4 1623.7 443.0 1613.7C446.6 1603.7 450.1 1594.5 454.4 1579.3C458.7 1564.1 464.1 1543.2 468.9 1522.4C473.7 1501.5 478.5 1474.4 483.3 1454.0C488.1 1433.7 492.9 1420.4 497.7 1400.0C502.5 1379.6 507.4 1352.1 512.2 1331.7C517.0 1311.3 522.3 1292.8 526.6 1277.7C530.9 1262.5 534.7 1250.2 538.1 1240.7C541.5 1231.2 543.9 1225.5 546.8 1220.8C549.7 1216.0 552.0 1215.0 555.4 1212.2C558.8 1209.3 563.1 1206.5 567.0 1203.7C570.9 1200.9 575.6 1195.6 578.5 1195.1C581.4 1194.6 582.4 1195.1 584.3 1200.8C586.2 1206.5 588.2 1215.1 590.1 1229.3C592.0 1243.6 593.9 1267.3 595.8 1286.2C597.7 1305.2 599.7 1326.5 601.6 1343.1C603.5 1359.7 605.5 1375.9 607.4 1385.8C609.3 1395.8 611.3 1401.9 613.2 1402.9C615.1 1403.8 617.0 1401.5 618.9 1391.5C620.8 1381.6 622.8 1357.4 624.7 1343.1C626.6 1328.9 628.3 1315.6 630.5 1306.1C632.7 1296.7 635.3 1286.2 637.7 1286.2C640.1 1286.2 642.2 1294.3 644.9 1306.1C647.5 1318.0 650.7 1340.2 653.6 1357.3C656.5 1374.4 659.3 1395.3 662.2 1408.6C665.1 1421.9 667.0 1428.9 670.9 1437.0C674.8 1445.0 681.9 1450.3 685.3 1456.9C688.7 1463.5 689.2 1467.3 691.1 1476.8C693.0 1486.3 695.0 1499.7 696.9 1513.9C698.8 1528.1 701.0 1548.9 702.6 1562.2C704.2 1575.6 705.2 1584.1 706.5 1594.0C707.8 1603.9 709.1 1610.8 710.3 1621.6C711.6 1632.4 712.7 1646.3 714.1 1658.7C715.5 1671.1 716.9 1685.3 718.8 1695.8C720.7 1706.3 723.4 1715.6 725.4 1721.8C727.4 1728.0 729.2 1730.6 731.0 1732.9C732.9 1735.2 734.8 1735.7 736.7 1735.7C738.6 1735.7 740.5 1735.2 742.3 1732.9C744.2 1730.6 746.1 1727.0 748.0 1721.8C749.9 1716.5 751.7 1708.2 753.6 1701.4C755.5 1694.6 757.4 1687.0 759.3 1681.0C761.2 1674.9 763.0 1668.7 764.9 1665.2C766.8 1661.6 768.7 1659.6 770.6 1659.6C772.4 1659.6 774.3 1661.6 776.2 1665.2C778.1 1668.7 780.0 1674.9 781.9 1681.0C783.7 1687.0 785.6 1695.2 787.5 1701.4C789.4 1707.5 791.0 1713.6 793.1 1718.1C795.3 1722.5 798.2 1725.8 800.7 1728.3C803.2 1730.7 806.0 1731.9 808.2 1732.9C810.4 1733.9 811.7 1734.5 813.9 1734.4C816.0 1734.2 819.2 1733.0 821.4 1732.0C823.6 1731.0 825.3 1729.7 827.0 1728.3C828.8 1726.9 830.9 1724.4 831.7 1723.6" stroke="#ff00ff"/>
<path d="M208.8 1729.7C211.4 1730.0 219.1 1731.0 224.6 1731.2C230.1 1731.5 236.7 1731.8 242.0 1731.2C247.3 1730.6 250.6 1728.3 256.4 1727.6C262.2 1726.9 268.4 1727.1 276.6 1726.9C284.8 1726.7 295.8 1726.9 305.4 1726.4C315.0 1725.9 324.7 1725.5 334.3 1724.1C343.9 1722.8 356.0 1720.3 363.2 1718.4C370.4 1716.5 372.8 1715.3 377.6 1712.7C382.4 1710.1 387.2 1706.8 392.0 1702.8C396.8 1698.8 401.6 1694.8 406.4 1688.6C411.2 1682.5 416.5 1674.1 420.9 1665.9C425.3 1657.7 429.3 1648.2 433.0 1639.5C436.7 1630.8 439.4 1623.9 443.0 1613.9C446.6 1603.9 450.1 1594.8 454.4 1579.6C458.7 1564.4 464.1 1543.6 468.9 1522.8C473.7 1502.0 478.5 1475.0 483.3 1454.6C488.1 1434.3 492.9 1421.0 497.7 1400.7C502.5 1380.3 507.4 1352.8 512.2 1332.5C517.0 1312.1 522.3 1293.7 526.6 1278.6C530.9 1263.4 534.7 1251.1 538.1 1241.7C541.5 1232.2 543.9 1226.5 546.8 1221.8C549.7 1217.1 552.0 1216.1 555.4 1213.2C558.8 1210.4 563.1 1207.6 567.0 1204.8C570.9 1201.9 575.6 1196.7 578.5 1196.2C581.4 1195.7 582.4 1196.2 584.3 1201.9C586.2 1207.6 588.2 1216.2 590.1 1230.4C592.0 1244.6 593.9 1268.2 595.8 1287.1C597.7 1306.1 599.7 1327.3 601.6 1343.9C603.5 1360.5 605.5 1376.6 607.4 1386.5C609.3 1396.5 611.3 1402.6 613.2 1403.5C615.1 1404.5 617.0 1402.2 618.9 1392.2C620.8 1382.3 622.8 1358.1 624.7 1343.9C626.6 1329.7 628.3 1316.5 630.5 1307.0C632.7 1297.5 635.3 1287.1 637.7 1287.1C640.1 1287.1 642.2 1295.2 644.9 1307.0C647.5 1318.8 650.7 1341.0 653.6 1358.1C656.5 1375.1 659.3 1396.0 662.2 1409.2C665.1 1422.5 667.0 1429.6 670.9 1437.6C674.8 1445.6 681.9 1450.8 685.3 1457.5C688.7 1464.1 689.2 1467.9 691.1 1477.3C693.0 1486.8 695.0 1500.1 696.9 1514.3C698.8 1528.5 701.0 1549.2 702.6 1562.6C704.2 1575.9 705.2 1584.4 706.5 1594.2C707.8 1604.1 709.1 1611.0 710.3 1621.8C711.6 1632.6 712.7 1646.5 714.1 1658.8C715.5 1671.2 716.9 1685.4 718.8 1695.9C720.7 1706.4 723.4 1715.6 725.4 1721.8C727.4 1728.0 729.2 1730.6 731.0 1732.9C732.9 1735.2 734.8 1735.7 736.7 1735.7C738.6 1735.7 740.5 1735.2 742.3 1732.9C744.2 1730.6 746.1 1727.0 748.0 1721.8C749.9 1716.5 751.7 1708.2 753.6 1701.4C755.5 1694.6 757.4 1687.1 759.3 1681.1C761.2 1675.0 763.0 1668.9 764.9 1665.3C766.8 1661.8 768.7 1659.8 770.6 1659.8C772.4 1659.8 774.3 1661.8 776.2 1665.3C778.1 1668.9 780.0 1675.0 781.9 1681.1C783.7 1687.1 785.6 1695.3 787.5 1701.4C789.4 1707.6 791.0 1713.6 793.1 1718.1C795.3 1722.6 798.2 1725.8 800.7 1728.3C803.2 1730.7 806.0 1731.9 808.2 1732.9C810.4 1733.9 811.7 1734.5 813.9 1734.4C816.0 1734.2 819.2 1733.0 821.4 1732.0C823.6 1731.0 825.3 1729.7 827.0 1728.3C828.8 1726.9 830.9 1724.4 831.7 1723.6" stroke="#008000"/>
<path d="M208.8 1729.7C211.4 1730.0 219.1 1731.0 224.6 1731.2C230.1 1731.5 236.7 1731.8 242.0 1731.2C247.3 1730.6 250.6 1728.3 256.4 1727.6C262.2 1726.9 268.4 1727.1 276.6 1726.9C284.8 1726.7 295.8 1726.9 305.4 1726.4C315.0 1725.9 324.7 1725.5 334.3 1724.1C343.9 1722.8 356.0 1720.3 363.2 1718.4C370.4 1716.5 372.8 1715.4 377.6 1712.8C382.4 1710.2 387.2 1706.8 392.0 1702.8C396.8 1698.8 401.6 1694.8 406.4 1688.7C411.2 1682.6 416.5 1674.2 420.9 1666.0C425.3 1657.8 429.3 1648.3 433.0 1639.7C436.7 1631.1 439.4 1624.1 443.0 1614.2C446.6 1604.2 450.1 1595.0 454.4 1579.9C458.7 1564.7 464.1 1544.0 468.9 1523.2C473.7 1502.4 478.5 1475.5 483.3 1455.2C488.1 1434.9 492.9 1421.7 497.7 1401.4C502.5 1381.0 507.4 1353.6 512.2 1333.3C517.0 1313.0 522.3 1294.6 526.6 1279.5C530.9 1264.4 534.7 1252.1 538.1 1242.7C541.5 1233.2 543.9 1227.6 546.8 1222.8C549.7 1218.1 552.0 1217.1 555.4 1214.3C558.8 1211.5 563.1 1208.7 567.0 1205.8C570.9 1203.0 575.6 1197.8 578.5 1197.3C581.4 1196.8 582.4 1197.3 584.3 1203.0C586.2 1208.7 588.2 1217.2 590.1 1231.4C592.0 1245.5 593.9 1269.2 595.8 1288.0C597.7 1306.9 599.7 1328.2 601.6 1344.7C603.5 1361.2 605.5 1377.3 607.4 1387.2C609.3 1397.1 611.3 1403.3 613.2 1404.2C615.1 1405.2 617.0 1402.8 618.9 1392.9C620.8 1383.0 622.8 1358.9 624.7 1344.7C626.6 1330.5 628.3 1317.3 630.5 1307.9C632.7 1298.4 635.3 1288.0 637.7 1288.0C640.1 1288.0 642.2 1296.1 644.9 1307.9C647.5 1319.7 650.7 1341.8 653.6 1358.8C656.5 1375.8 659.3 1396.7 662.2 1409.9C665.1 1423.1 667.0 1430.2 670.9 1438.2C674.8 1446.2 681.9 1451.4 685.3 1458.0C688.7 1464.6 689.2 1468.4 691.1 1477.9C693.0 1487.3 695.0 1500.6 696.9 1514.8C698.8 1529.0 701.0 1549.6 702.6 1562.9C704.2 1576.2 705.2 1584.7 706.5 1594.5C707.8 1604.4 709.1 1611.3 710.3 1622.0C711.6 1632.8 712.7 1646.7 714.1 1659.0C715.5 1671.3 716.9 1685.5 718.8 1695.9C720.7 1706.4 723.4 1715.7 725.4 1721.8C727.4 1728.0 729.2 1730.6 731.0 1732.9C732.9 1735.2 734.8 1735.7 736.7 1735.7C738.6 1735.7 740.5 1735.2 742.3 1732.9C744.2 1730.6 746.1 1727.1 748.0 1721.8C749.9 1716.6 751.7 1708.3 753.6 1701.5C755.5 1694.7 757.4 1687.2 759.3 1681.2C761.2 1675.2 763.0 1669.0 764.9 1665.4C766.8 1661.9 768.7 1659.9 770.6 1659.9C772.4 1659.9 774.3 1661.9 776.2 1665.4C778.1 1669.0 780.0 1675.2 781.9 1681.2C783.7 1687.2 785.6 1695.3 787.5 1701.5C789.4 1707.6 791.0 1713.7 793.1 1718.1C795.3 1722.6 798.2 1725.8 800.7 1728.3C803.2 1730.8 806.0 1731.9 808.2 1732.9C810.4 1733.9 811.7 1734.5 813.9 1734.4C816.0 1734.2 819.2 1733.0 821.4 1732.0C823.6 1731.0 825.3 1729.7 827.0 1728.3C828.8 1726.9 830.9 1724.4 831.7 1723.7" stroke="#000080"/>
<path d="M208.8 1729.7C211.4 1730.0 219.1 1731.0 224.6 1731.2C230.1 1731.5 236.7 1731.8 242.0 1731.2C247.3 1730.6 250.6 1728.3 256.4 1727.6C262.2 1726.9 268.4 1727.1 276.6 1726.9C284.8 1726.7 295.8 1726.9 305.4 1726.4C315.0 1726.0 324.7 1725.5 334.3 1724.2C343.9 1722.8 356.0 1720.4 363.2 1718.5C370.4 1716.6 372.8 1715.4 377.6 1712.8C382.4 1710.2 387.2 1706.9 392.0 1702.9C396.8 1698.9 401.6 1694.9 406.4 1688.8C411.2 1682.7 416.5 1674.3 420.9 1666.1C425.3 1658.0 429.3 1648.5 433.0 1639.9C436.7 1631.3 439.4 1624.3 443.0 1614.4C446.6 1604.5 450.1 1595.3 454.4 1580.2C458.7 1565.1 464.1 1544.4 468.9 1523.7C473.7 1502.9 478.5 1476.0 483.3 1455.7C488.1 1435.5 492.9 1422.3 497.7 1402.0C502.5 1381.8 507.4 1354.4 512.2 1334.1C517.0 1313.9 522.3 1295.5 526.6 1280.4C530.9 1265.3 534.7 1253.1 538.1 1243.7C541.5 1234.2 543.9 1228.6 546.8 1223.9C549.7 1219.1 552.0 1218.2 555.4 1215.3C558.8 1212.5 563.1 1209.7 567.0 1206.9C570.9 1204.1 575.6 1198.9 578.5 1198.4C581.4 1197.9 582.4 1198.4 584.3 1204.1C586.2 1209.7 588.2 1218.3 590.1 1232.4C592.0 1246.5 593.9 1270.1 595.8 1288.9C597.7 1307.8 599.7 1329.0 601.6 1345.5C603.5 1362.0 605.5 1378.0 607.4 1387.9C609.3 1397.8 611.3 1403.9 613.2 1404.9C615.1 1405.8 617.0 1403.5 618.9 1393.6C620.8 1383.7 622.8 1359.6 624.7 1345.5C626.6 1331.3 628.3 1318.2 630.5 1308.7C632.7 1299.3 635.3 1288.9 637.7 1288.9C640.1 1288.9 642.2 1297.0 644.9 1308.7C647.5 1320.5 650.7 1342.6 653.6 1359.6C656.5 1376.6 659.3 1397.4 662.2 1410.6C665.1 1423.8 667.0 1430.8 670.9 1438.8C674.8 1446.8 681.9 1452.0 685.3 1458.6C688.7 1465.2 689.2 1468.9 691.1 1478.4C693.0 1487.8 695.0 1501.1 696.9 1515.2C698.8 1529.4 701.0 1550.0 702.6 1563.2C704.2 1576.5 705.2 1585.0 706.5 1594.8C707.8 1604.6 709.1 1611.5 710.3 1622.2C711.6 1633.0 712.7 1646.8 714.1 1659.1C715.5 1671.4 716.9 1685.6 718.8 1696.0C720.7 1706.5 723.4 1715.7 725.4 1721.8C727.4 1728.0 729.2 1730.6 731.0 1732.9C732.9 1735.2 734.8 1735.7 736.7 1735.7C738.6 1735.7 740.5 1735.2 742.3 1732.9C744.2 1730.6 746.1 1727.1 748.0 1721.8C749.9 1716.6 751.7 1708.3 753.6 1701.5C755.5 1694.8 757.4 1687.3 759.3 1681.3C761.2 1675.3 763.0 1669.1 764.9 1665.6C766.8 1662.0 768.7 1660.1 770.6 1660.1C772.4 1660.1 774.3 1662.0 776.2 1665.6C778.1 1669.1 780.0 1675.3 781.9 1681.3C783.7 1687.3 785.6 1695.4 787.5 1701.5C789.4 1707.7 791.0 1713.7 793.1 1718.1C795.3 1722.6 798.2 1725.8 800.7 1728.3C803.2 1730.8 806.0 1731.9 808.2 1732.9C810.4 1733.9 811.7 1734.5 813.9 1734.4C816.0 1734.2 819.2 1733.0 821.4 1732.0C823.6 1731.0 825.3 1729.7 827.0 1728.3C828.8 1726.9 830.9 1724.5 831.7 1723.7" stroke="#8000ff"/>
<path d="M208.8 1729.8C211.4 1730.0 219.1 1731.0 224.6 1731.2C230.1 1731.5 236.7 1731.8 242.0 1731.2C247.3 1730.6 250.6 1728.3 256.4 1727.6C262.2 1726.9 268.4 1727.1 276.6 1726.9C284.8 1726.7 295.8 1726.9 305.4 1726.4C315.0 1726.0 324.7 1725.5 334.3 1724.2C343.9 1722.9 356.0 1720.4 363.2 1718.5C370.4 1716.6 372.8 1715.4 377.6 1712.8C382.4 1710.2 387.2 1706.9 392.0 1703.0C396.8 1699.0 401.6 1695.0 406.4 1688.9C411.2 1682.8 416.5 1674.4 420.9 1666.3C425.3 1658.1 429.3 1648.7 433.0 1640.1C436.7 1631.5 439.4 1624.6 443.0 1614.6C446.6 1604.7 450.1 1595.6 454.4 1580.5C458.7 1565.4 464.1 1544.8 468.9 1524.1C473.7 1503.4 478.5 1476.5 483.3 1456.3C488.1 1436.1 492.9 1422.9 497.7 1402.7C502.5 1382.5 507.4 1355.2 512.2 1334.9C517.0 1314.7 522.3 1296.4 526.6 1281.3C530.9 1266.3 534.7 1254.1 538.1 1244.7C541.5 1235.3 543.9 1229.6 546.8 1224.9C549.7 1220.2 552.0 1219.2 555.4 1216.4C558.8 1213.6 563.1 1210.8 567.0 1208.0C570.9 1205.2 575.6 1200.0 578.5 1199.5C581.4 1199.0 582.4 1199.5 584.3 1205.2C586.2 1210.8 588.2 1219.3 590.1 1233.4C592.0 1247.5 593.9 1271.0 595.8 1289.8C597.7 1308.7 599.7 1329.8 601.6 1346.3C603.5 1362.7 605.5 1378.7 607.4 1388.6C609.3 1398.5 611.3 1404.6 613.2 1405.5C615.1 1406.5 617.0 1404.2 618.9 1394.3C620.8 1384.4 622.8 1360.4 624.7 1346.3C626.6 1332.2 628.3 1319.0 630.5 1309.6C632.7 1300.2 635.3 1289.8 637.7 1289.8C640.1 1289.8 642.2 1297.8 644.9 1309.6C647.5 1321.4 650.7 1343.4 653.6 1360.4C656.5 1377.3 659.3 1398.0 662.2 1411.2C665.1 1424.4 667.0 1431.4 670.9 1439.4C674.8 1447.4 681.9 1452.6 685.3 1459.1C688.7 1465.7 689.2 1469.5 691.1 1478.9C693.0 1488.3 695.0 1501.6 696.9 1515.7C698.8 1529.8 701.0 1550.4 702.6 1563.6C704.2 1576.8 705.2 1585.3 706.5 1595.1C707.8 1604.9 709.1 1611.8 710.3 1622.5C711.6 1633.2 712.7 1647.0 714.1 1659.3C715.5 1671.5 716.9 1685.7 718.8 1696.1C720.7 1706.5 723.4 1715.7 725.4 1721.9C727.4 1728.0 729.2 1730.6 731.0 1732.9C732.9 1735.2 734.8 1735.7 736.7 1735.7C738.6 1735.7 740.5 1735.2 742.3 1732.9C744.2 1730.6 746.1 1727.1 748.0 1721.9C749.9 1716.6 751.7 1708.4 753.6 1701.6C755.5 1694.9 757.4 1687.3 759.3 1681.4C761.2 1675.4 763.0 1669.2 764.9 1665.7C766.8 1662.2 768.7 1660.2 770.6 1660.2C772.4 1660.2 774.3 1662.2 776.2 1665.7C778.1 1669.2 780.0 1675.4 781.9 1681.4C783.7 1687.3 785.6 1695.5 787.5 1701.6C789.4 1707.7 791.0 1713.7 793.1 1718.2C795.3 1722.6 798.2 1725.8 800.7 1728.3C803.2 1730.8 806.0 1731.9 808.2 1732.9C810.4 1733.9 811.7 1734.5 813.9 1734.4C816.0 1734.2 819.2 1733.0 821.4 1732.0C823.6 1731.0 825.3 1729.7 827.0 1728.3C828.8 1726.9 830.9 1724.5 831.7 1723.7" stroke="#800080"/>
<path d="M208.8 1729.8C211.4 1730.0 219.1 1731.0 224.6 1731.2C230.1 1731.5 236.7 1731.8 242.0 1731.2C247.3 1730.6 250.6 1728.3 256.4 1727.6C262.2 1726.9 268.4 1727.1 276.6 1726.9C284.8 1726.7 295.8 1726.9 305.4 1726.4C315.0 1726.0 324.7 1725.5 334.3 1724.2C343.9 1722.9 356.0 1720.4 363.2 1718.5C370.4 1716.7 372.8 1715.5 377.6 1712.9C382.4 1710.3 387.2 1707.0 392.0 1703.0C396.8 1699.1 401.6 1695.1 406.4 1689.0C411.2 1682.9 416.5 1674.6 420.9 1666.5C425.3 1658.4 429.3 1648.9 433.0 1640.3C436.7 1631.8 439.4 1624.9 443.0 1615.0C446.6 1605.1 450.1 1596.0 454.4 1581.0C458.7 1565.9 464.1 1545.4 468.9 1524.7C473.7 1504.1 478.5 1477.3 483.3 1457.1C488.1 1437.0 492.9 1423.9 497.7 1403.7C502.5 1383.6 507.4 1356.3 512.2 1336.2C517.0 1316.0 522.3 1297.7 526.6 1282.7C530.9 1267.7 534.7 1255.5 538.1 1246.2C541.5 1236.8 543.9 1231.2 546.8 1226.5C549.7 1221.8 552.0 1220.8 555.4 1218.0C558.8 1215.2 563.1 1212.4 567.0 1209.6C570.9 1206.8 575.6 1201.6 578.5 1201.1C581.4 1200.6 582.4 1201.1 584.3 1206.8C586.2 1212.4 588.2 1220.9 590.1 1234.9C592.0 1249.0 593.9 1272.5 595.8 1291.2C597.7 1310.0 599.7 1331.0 601.6 1347.5C603.5 1363.9 605.5 1379.8 607.4 1389.7C609.3 1399.5 611.3 1405.6 613.2 1406.5C615.1 1407.5 617.0 1405.2 618.9 1395.3C620.8 1385.5 622.8 1361.5 624.7 1347.5C626.6 1333.4 628.3 1320.3 630.5 1310.9C632.7 1301.5 635.3 1291.2 637.7 1291.2C640.1 1291.2 642.2 1299.2 644.9 1310.9C647.5 1322.6 650.7 1344.6 653.6 1361.5C656.5 1378.4 659.3 1399.1 662.2 1412.2C665.1 1425.3 667.0 1432.3 670.9 1440.3C674.8 1448.2 681.9 1453.4 685.3 1460.0C688.7 1466.5 689.2 1470.3 691.1 1479.7C693.0 1489.1 695.0 1502.3 696.9 1516.3C698.8 1530.4 701.0 1550.9 702.6 1564.1C704.2 1577.3 705.2 1585.7 706.5 1595.5C707.8 1605.3 709.1 1612.1 710.3 1622.8C711.6 1633.5 712.7 1647.3 714.1 1659.5C715.5 1671.7 716.9 1685.8 718.8 1696.2C720.7 1706.6 723.4 1715.8 725.4 1721.9C727.4 1728.0 729.2 1730.6 731.0 1732.9C732.9 1735.2 734.8 1735.7 736.7 1735.7C738.6 1735.7 740.5 1735.2 742.3 1732.9C744.2 1730.6 746.1 1727.1 748.0 1721.9C749.9 1716.7 751.7 1708.4 753.6 1701.7C755.5 1695.0 757.4 1687.5 759.3 1681.5C761.2 1675.6 763.0 1669.4 764.9 1665.9C766.8 1662.4 768.7 1660.4 770.6 1660.4C772.4 1660.4 774.3 1662.4 776.2 1665.9C778.1 1669.4 780.0 1675.6 781.9 1681.5C783.7 1687.5 785.6 1695.6 787.5 1701.7C789.4 1707.8 791.0 1713.8 793.1 1718.2C795.3 1722.7 798.2 1725.9 800.7 1728.3C803.2 1730.8 806.0 1731.9 808.2 1732.9C810.4 1733.9 811.7 1734.5 813.9 1734.4C816.0 1734.2 819.2 1733.0 821.4 1732.0C823.6 1731.0 825.3 1729.7 827.0 1728.3C828.8 1726.9 830.9 1724.5 831.7 1723.7" stroke="#800000"/>
</g>
<rect x="540" y="1172" width="65" height="68" fill="none" stroke="#262626" stroke-width="3.2" rx="1.5"/>
<line x1="533.5" y1="1211" x2="472" y2="1299" stroke="#111" stroke-width="2.6" marker-end="url(#ah)"/>
<rect x="152.5" y="1169" width="317.5" height="256.5" fill="#fff" stroke="#c4c4c4" stroke-width="3.2" rx="1.5"/>
<clipPath id="ciB"><rect x="154.2" y="1170.7" width="314.1" height="253.1"/></clipPath>
<g clip-path="url(#ciB)" fill="none" stroke-width="4.8" stroke-linejoin="round">
<path d="M145.1 1426.1C146.5 1422.7 150.1 1414.8 153.8 1406.0C157.6 1397.2 162.8 1384.2 167.6 1373.4C172.5 1362.5 177.7 1350.8 182.7 1340.8C187.7 1330.7 192.7 1321.5 197.8 1313.1C202.8 1304.8 207.8 1297.3 212.8 1290.6C217.8 1283.9 222.8 1277.8 227.9 1273.0C232.9 1268.2 237.9 1264.8 242.9 1261.7C247.9 1258.6 253.0 1256.3 258.0 1254.2C263.0 1252.1 268.0 1250.8 273.0 1249.2C278.1 1247.5 283.1 1246.2 288.1 1244.1C293.1 1242.0 298.1 1239.5 303.1 1236.6C308.2 1233.7 313.2 1229.7 318.2 1226.6C323.2 1223.4 328.7 1220.1 333.3 1217.8C337.9 1215.5 341.8 1213.9 345.8 1212.8C349.8 1211.6 353.5 1210.9 357.1 1211.0C360.7 1211.1 363.8 1211.5 367.1 1213.3C370.5 1215.0 374.0 1217.7 377.2 1221.6C380.3 1225.4 383.2 1231.0 386.0 1236.6C388.7 1242.3 391.0 1248.1 393.5 1255.4C396.0 1262.8 398.5 1270.9 401.0 1280.5C403.5 1290.1 406.0 1301.9 408.5 1313.1C411.1 1324.4 413.6 1336.2 416.1 1348.3C418.6 1360.4 421.1 1373.4 423.6 1385.9C426.1 1398.5 429.2 1413.9 431.1 1423.6C433.0 1433.2 434.3 1440.3 434.9 1443.6" stroke="#000000"/>
<path d="M145.1 1439.1C146.5 1435.7 150.1 1427.8 153.8 1419.0C157.6 1410.2 162.8 1397.2 167.6 1386.4C172.5 1375.5 177.7 1363.8 182.7 1353.8C187.7 1343.7 192.7 1334.5 197.8 1326.1C202.8 1317.8 207.8 1310.3 212.8 1303.6C217.8 1296.9 222.8 1290.8 227.9 1286.0C232.9 1281.2 237.9 1277.8 242.9 1274.7C247.9 1271.6 253.0 1269.3 258.0 1267.2C263.0 1265.1 268.0 1263.8 273.0 1262.2C278.1 1260.5 283.1 1259.2 288.1 1257.1C293.1 1255.0 298.1 1252.5 303.1 1249.6C308.2 1246.7 313.2 1242.7 318.2 1239.6C323.2 1236.4 328.7 1233.1 333.3 1230.8C337.9 1228.5 341.8 1226.9 345.8 1225.8C349.8 1224.6 353.5 1223.9 357.1 1224.0C360.7 1224.1 363.8 1224.5 367.1 1226.3C370.5 1228.0 374.0 1230.7 377.2 1234.6C380.3 1238.4 383.2 1244.0 386.0 1249.6C388.7 1255.3 391.0 1261.1 393.5 1268.4C396.0 1275.8 398.5 1283.9 401.0 1293.5C403.5 1303.1 406.0 1314.9 408.5 1326.1C411.1 1337.4 413.6 1349.2 416.1 1361.3C418.6 1373.4 421.1 1386.4 423.6 1398.9C426.1 1411.5 429.2 1426.9 431.1 1436.6C433.0 1446.2 434.3 1453.3 434.9 1456.6" stroke="#ff0000"/>
<path d="M145.1 1443.1C146.5 1439.7 150.1 1431.8 153.8 1423.0C157.6 1414.2 162.8 1401.2 167.6 1390.4C172.5 1379.5 177.7 1367.8 182.7 1357.8C187.7 1347.7 192.7 1338.5 197.8 1330.1C202.8 1321.8 207.8 1314.3 212.8 1307.6C217.8 1300.9 222.8 1294.8 227.9 1290.0C232.9 1285.2 237.9 1281.8 242.9 1278.7C247.9 1275.6 253.0 1273.3 258.0 1271.2C263.0 1269.1 268.0 1267.8 273.0 1266.2C278.1 1264.5 283.1 1263.2 288.1 1261.1C293.1 1259.0 298.1 1256.5 303.1 1253.6C308.2 1250.7 313.2 1246.7 318.2 1243.6C323.2 1240.4 328.7 1237.1 333.3 1234.8C337.9 1232.5 341.8 1230.9 345.8 1229.8C349.8 1228.6 353.5 1227.9 357.1 1228.0C360.7 1228.1 363.8 1228.5 367.1 1230.3C370.5 1232.0 374.0 1234.7 377.2 1238.6C380.3 1242.4 383.2 1248.0 386.0 1253.6C388.7 1259.3 391.0 1265.1 393.5 1272.4C396.0 1279.8 398.5 1287.9 401.0 1297.5C403.5 1307.1 406.0 1318.9 408.5 1330.1C411.1 1341.4 413.6 1353.2 416.1 1365.3C418.6 1377.4 421.1 1390.4 423.6 1402.9C426.1 1415.5 429.2 1430.9 431.1 1440.6C433.0 1450.2 434.3 1457.3 434.9 1460.6" stroke="#0000ff"/>
<path d="M145.1 1439.6C146.5 1436.2 150.1 1428.3 153.8 1419.5C157.6 1410.7 162.8 1397.7 167.6 1386.9C172.5 1376.0 177.7 1364.3 182.7 1354.3C187.7 1344.2 192.7 1335.0 197.8 1326.6C202.8 1318.3 207.8 1310.8 212.8 1304.1C217.8 1297.4 222.8 1291.3 227.9 1286.5C232.9 1281.7 237.9 1278.3 242.9 1275.2C247.9 1272.1 253.0 1269.8 258.0 1267.7C263.0 1265.6 268.0 1264.3 273.0 1262.7C278.1 1261.0 283.1 1259.7 288.1 1257.6C293.1 1255.5 298.1 1253.0 303.1 1250.1C308.2 1247.2 313.2 1243.2 318.2 1240.1C323.2 1236.9 328.7 1233.6 333.3 1231.3C337.9 1229.0 341.8 1227.4 345.8 1226.3C349.8 1225.1 353.5 1224.4 357.1 1224.5C360.7 1224.6 363.8 1225.0 367.1 1226.8C370.5 1228.5 374.0 1231.2 377.2 1235.1C380.3 1238.9 383.2 1244.5 386.0 1250.1C388.7 1255.8 391.0 1261.6 393.5 1268.9C396.0 1276.3 398.5 1284.4 401.0 1294.0C403.5 1303.6 406.0 1315.4 408.5 1326.6C411.1 1337.9 413.6 1349.7 416.1 1361.8C418.6 1373.9 421.1 1386.9 423.6 1399.4C426.1 1412.0 429.2 1427.4 431.1 1437.1C433.0 1446.7 434.3 1453.8 434.9 1457.1" stroke="#ff00ff"/>
<path d="M145.1 1446.1C146.5 1442.7 150.1 1434.8 153.8 1426.0C157.6 1417.2 162.8 1404.2 167.6 1393.4C172.5 1382.5 177.7 1370.8 182.7 1360.8C187.7 1350.7 192.7 1341.5 197.8 1333.1C202.8 1324.8 207.8 1317.3 212.8 1310.6C217.8 1303.9 222.8 1297.8 227.9 1293.0C232.9 1288.2 237.9 1284.8 242.9 1281.7C247.9 1278.6 253.0 1276.3 258.0 1274.2C263.0 1272.1 268.0 1270.8 273.0 1269.2C278.1 1267.5 283.1 1266.2 288.1 1264.1C293.1 1262.0 298.1 1259.5 303.1 1256.6C308.2 1253.7 313.2 1249.7 318.2 1246.6C323.2 1243.4 328.7 1240.1 333.3 1237.8C337.9 1235.5 341.8 1233.9 345.8 1232.8C349.8 1231.6 353.5 1230.9 357.1 1231.0C360.7 1231.1 363.8 1231.5 367.1 1233.3C370.5 1235.0 374.0 1237.7 377.2 1241.6C380.3 1245.4 383.2 1251.0 386.0 1256.6C388.7 1262.3 391.0 1268.1 393.5 1275.4C396.0 1282.8 398.5 1290.9 401.0 1300.5C403.5 1310.1 406.0 1321.9 408.5 1333.1C411.1 1344.4 413.6 1356.2 416.1 1368.3C418.6 1380.4 421.1 1393.4 423.6 1405.9C426.1 1418.5 429.2 1433.9 431.1 1443.6C433.0 1453.2 434.3 1460.3 434.9 1463.6" stroke="#008000"/>
<path d="M145.1 1448.1C146.5 1444.7 150.1 1436.8 153.8 1428.0C157.6 1419.2 162.8 1406.2 167.6 1395.4C172.5 1384.5 177.7 1372.8 182.7 1362.8C187.7 1352.7 192.7 1343.5 197.8 1335.1C202.8 1326.8 207.8 1319.3 212.8 1312.6C217.8 1305.9 222.8 1299.8 227.9 1295.0C232.9 1290.2 237.9 1286.8 242.9 1283.7C247.9 1280.6 253.0 1278.3 258.0 1276.2C263.0 1274.1 268.0 1272.8 273.0 1271.2C278.1 1269.5 283.1 1268.2 288.1 1266.1C293.1 1264.0 298.1 1261.5 303.1 1258.6C308.2 1255.7 313.2 1251.7 318.2 1248.6C323.2 1245.4 328.7 1242.1 333.3 1239.8C337.9 1237.5 341.8 1235.9 345.8 1234.8C349.8 1233.6 353.5 1232.9 357.1 1233.0C360.7 1233.1 363.8 1233.5 367.1 1235.3C370.5 1237.0 374.0 1239.7 377.2 1243.6C380.3 1247.4 383.2 1253.0 386.0 1258.6C388.7 1264.3 391.0 1270.1 393.5 1277.4C396.0 1284.8 398.5 1292.9 401.0 1302.5C403.5 1312.1 406.0 1323.9 408.5 1335.1C411.1 1346.4 413.6 1358.2 416.1 1370.3C418.6 1382.4 421.1 1395.4 423.6 1407.9C426.1 1420.5 429.2 1435.9 431.1 1445.6C433.0 1455.2 434.3 1462.3 434.9 1465.6" stroke="#000080"/>
<path d="M145.1 1452.1C146.5 1448.7 150.1 1440.8 153.8 1432.0C157.6 1423.2 162.8 1410.2 167.6 1399.4C172.5 1388.5 177.7 1376.8 182.7 1366.8C187.7 1356.7 192.7 1347.5 197.8 1339.1C202.8 1330.8 207.8 1323.3 212.8 1316.6C217.8 1309.9 222.8 1303.8 227.9 1299.0C232.9 1294.2 237.9 1290.8 242.9 1287.7C247.9 1284.6 253.0 1282.3 258.0 1280.2C263.0 1278.1 268.0 1276.8 273.0 1275.2C278.1 1273.5 283.1 1272.2 288.1 1270.1C293.1 1268.0 298.1 1265.5 303.1 1262.6C308.2 1259.7 313.2 1255.7 318.2 1252.6C323.2 1249.4 328.7 1246.1 333.3 1243.8C337.9 1241.5 341.8 1239.9 345.8 1238.8C349.8 1237.6 353.5 1236.9 357.1 1237.0C360.7 1237.1 363.8 1237.5 367.1 1239.3C370.5 1241.0 374.0 1243.7 377.2 1247.6C380.3 1251.4 383.2 1257.0 386.0 1262.6C388.7 1268.3 391.0 1274.1 393.5 1281.4C396.0 1288.8 398.5 1296.9 401.0 1306.5C403.5 1316.1 406.0 1327.9 408.5 1339.1C411.1 1350.4 413.6 1362.2 416.1 1374.3C418.6 1386.4 421.1 1399.4 423.6 1411.9C426.1 1424.5 429.2 1439.9 431.1 1449.6C433.0 1459.2 434.3 1466.3 434.9 1469.6" stroke="#8000ff"/>
<path d="M145.1 1455.1C146.5 1451.7 150.1 1443.8 153.8 1435.0C157.6 1426.2 162.8 1413.2 167.6 1402.4C172.5 1391.5 177.7 1379.8 182.7 1369.8C187.7 1359.7 192.7 1350.5 197.8 1342.1C202.8 1333.8 207.8 1326.3 212.8 1319.6C217.8 1312.9 222.8 1306.8 227.9 1302.0C232.9 1297.2 237.9 1293.8 242.9 1290.7C247.9 1287.6 253.0 1285.3 258.0 1283.2C263.0 1281.1 268.0 1279.8 273.0 1278.2C278.1 1276.5 283.1 1275.2 288.1 1273.1C293.1 1271.0 298.1 1268.5 303.1 1265.6C308.2 1262.7 313.2 1258.7 318.2 1255.6C323.2 1252.4 328.7 1249.1 333.3 1246.8C337.9 1244.5 341.8 1242.9 345.8 1241.8C349.8 1240.6 353.5 1239.9 357.1 1240.0C360.7 1240.1 363.8 1240.5 367.1 1242.3C370.5 1244.0 374.0 1246.7 377.2 1250.6C380.3 1254.4 383.2 1260.0 386.0 1265.6C388.7 1271.3 391.0 1277.1 393.5 1284.4C396.0 1291.8 398.5 1299.9 401.0 1309.5C403.5 1319.1 406.0 1330.9 408.5 1342.1C411.1 1353.4 413.6 1365.2 416.1 1377.3C418.6 1389.4 421.1 1402.4 423.6 1414.9C426.1 1427.5 429.2 1442.9 431.1 1452.6C433.0 1462.2 434.3 1469.3 434.9 1472.6" stroke="#800080"/>
<path d="M145.1 1457.1C146.5 1453.7 150.1 1445.8 153.8 1437.0C157.6 1428.2 162.8 1415.2 167.6 1404.4C172.5 1393.5 177.7 1381.8 182.7 1371.8C187.7 1361.7 192.7 1352.5 197.8 1344.1C202.8 1335.8 207.8 1328.3 212.8 1321.6C217.8 1314.9 222.8 1308.8 227.9 1304.0C232.9 1299.2 237.9 1295.8 242.9 1292.7C247.9 1289.6 253.0 1287.3 258.0 1285.2C263.0 1283.1 268.0 1281.8 273.0 1280.2C278.1 1278.5 283.1 1277.2 288.1 1275.1C293.1 1273.0 298.1 1270.5 303.1 1267.6C308.2 1264.7 313.2 1260.7 318.2 1257.6C323.2 1254.4 328.7 1251.1 333.3 1248.8C337.9 1246.5 341.8 1244.9 345.8 1243.8C349.8 1242.6 353.5 1241.9 357.1 1242.0C360.7 1242.1 363.8 1242.5 367.1 1244.3C370.5 1246.0 374.0 1248.7 377.2 1252.6C380.3 1256.4 383.2 1262.0 386.0 1267.6C388.7 1273.3 391.0 1279.1 393.5 1286.4C396.0 1293.8 398.5 1301.9 401.0 1311.5C403.5 1321.1 406.0 1332.9 408.5 1344.1C411.1 1355.4 413.6 1367.2 416.1 1379.3C418.6 1391.4 421.1 1404.4 423.6 1416.9C426.1 1429.5 429.2 1444.9 431.1 1454.6C433.0 1464.2 434.3 1471.3 434.9 1474.6" stroke="#800000"/>
</g>
<rect x="725" y="1174.5" width="129" height="313.5" fill="#fff" stroke="#c2c2c2" stroke-width="3.2" rx="1.5"/>
<path d="M738 1203.0H756.2M772.2 1203.0H790.5" stroke="#000000" stroke-width="3.6" opacity="0.2" fill="none"/>
<rect x="760.5" y="1199.7" width="7.6" height="6.6" rx="1.2" fill="#000000" opacity="0.72"/>
<text x="798.0" y="1212.0" font-size="26" fill="#222" textLength="49.0" lengthAdjust="spacingAndGlyphs">35<tspan font-size="16" dy="-8" font-weight="normal">°</tspan><tspan dy="8">C</tspan></text>
<path d="M738 1236.6H756.2M772.2 1236.6H790.5" stroke="#ff0000" stroke-width="3.6" opacity="0.2" fill="none"/>
<rect x="760.5" y="1233.3" width="7.6" height="6.6" rx="1.2" fill="#ff0000" opacity="0.72"/>
<text x="798.0" y="1245.6" font-size="26" fill="#222" textLength="49.0" lengthAdjust="spacingAndGlyphs">40<tspan font-size="16" dy="-8" font-weight="normal">°</tspan><tspan dy="8">C</tspan></text>
<path d="M738 1270.2H756.2M772.2 1270.2H790.5" stroke="#0000ff" stroke-width="3.6" opacity="0.2" fill="none"/>
<rect x="760.5" y="1266.9" width="7.6" height="6.6" rx="1.2" fill="#0000ff" opacity="0.72"/>
<text x="798.0" y="1279.2" font-size="26" fill="#222" textLength="49.0" lengthAdjust="spacingAndGlyphs">45<tspan font-size="16" dy="-8" font-weight="normal">°</tspan><tspan dy="8">C</tspan></text>
<path d="M738 1303.8H756.2M772.2 1303.8H790.5" stroke="#ff00ff" stroke-width="3.6" opacity="0.2" fill="none"/>
<rect x="760.5" y="1300.5" width="7.6" height="6.6" rx="1.2" fill="#ff00ff" opacity="0.72"/>
<text x="798.0" y="1312.8" font-size="26" fill="#222" textLength="49.0" lengthAdjust="spacingAndGlyphs">50<tspan font-size="16" dy="-8" font-weight="normal">°</tspan><tspan dy="8">C</tspan></text>
<path d="M738 1337.4H756.2M772.2 1337.4H790.5" stroke="#008000" stroke-width="3.6" opacity="0.2" fill="none"/>
<rect x="760.5" y="1334.1" width="7.6" height="6.6" rx="1.2" fill="#008000" opacity="0.72"/>
<text x="798.0" y="1346.4" font-size="26" fill="#222" textLength="49.0" lengthAdjust="spacingAndGlyphs">55<tspan font-size="16" dy="-8" font-weight="normal">°</tspan><tspan dy="8">C</tspan></text>
<path d="M738 1371.0H756.2M772.2 1371.0H790.5" stroke="#000080" stroke-width="3.6" opacity="0.2" fill="none"/>
<rect x="760.5" y="1367.7" width="7.6" height="6.6" rx="1.2" fill="#000080" opacity="0.72"/>
<text x="798.0" y="1380.0" font-size="26" fill="#222" textLength="49.0" lengthAdjust="spacingAndGlyphs">60<tspan font-size="16" dy="-8" font-weight="normal">°</tspan><tspan dy="8">C</tspan></text>
<path d="M738 1404.6H756.2M772.2 1404.6H790.5" stroke="#8000ff" stroke-width="3.6" opacity="0.2" fill="none"/>
<rect x="760.5" y="1401.3" width="7.6" height="6.6" rx="1.2" fill="#8000ff" opacity="0.72"/>
<text x="798.0" y="1413.6" font-size="26" fill="#222" textLength="49.0" lengthAdjust="spacingAndGlyphs">65<tspan font-size="16" dy="-8" font-weight="normal">°</tspan><tspan dy="8">C</tspan></text>
<path d="M738 1438.2H756.2M772.2 1438.2H790.5" stroke="#800080" stroke-width="3.6" opacity="0.2" fill="none"/>
<rect x="760.5" y="1434.9" width="7.6" height="6.6" rx="1.2" fill="#800080" opacity="0.72"/>
<text x="798.0" y="1447.2" font-size="26" fill="#222" textLength="49.0" lengthAdjust="spacingAndGlyphs">70<tspan font-size="16" dy="-8" font-weight="normal">°</tspan><tspan dy="8">C</tspan></text>
<path d="M738 1471.8H756.2M772.2 1471.8H790.5" stroke="#800000" stroke-width="3.6" opacity="0.2" fill="none"/>
<rect x="760.5" y="1468.5" width="7.6" height="6.6" rx="1.2" fill="#800000" opacity="0.72"/>
<text x="798.0" y="1480.8" font-size="26" fill="#222" textLength="49.0" lengthAdjust="spacingAndGlyphs">75<tspan font-size="16" dy="-8" font-weight="normal">°</tspan><tspan dy="8">C</tspan></text>
</g>
<g id="chartC">
<rect x="1061" y="1135.5" width="749" height="632.5" fill="#fff" stroke="#4c4c4c" stroke-width="3.6"/>
<text x="1135.5" y="1810.0" font-size="31" text-anchor="middle" fill="#1a1a1a" textLength="44.5" lengthAdjust="spacingAndGlyphs">200</text>
<text x="1285.4" y="1810.0" font-size="31" text-anchor="middle" fill="#1a1a1a" textLength="44.5" lengthAdjust="spacingAndGlyphs">400</text>
<text x="1435.2" y="1810.0" font-size="31" text-anchor="middle" fill="#1a1a1a" textLength="44.5" lengthAdjust="spacingAndGlyphs">600</text>
<text x="1585.1" y="1810.0" font-size="31" text-anchor="middle" fill="#1a1a1a" textLength="44.5" lengthAdjust="spacingAndGlyphs">800</text>
<text x="1735.0" y="1810.0" font-size="31" text-anchor="middle" fill="#1a1a1a" textLength="60.0" lengthAdjust="spacingAndGlyphs">1000</text>
<text x="1041.0" y="1713.1" font-size="30.5" text-anchor="end" fill="#1a1a1a" textLength="54.0" lengthAdjust="spacingAndGlyphs">0.00</text>
<text x="1041.0" y="1586.5" font-size="30.5" text-anchor="end" fill="#1a1a1a" textLength="54.0" lengthAdjust="spacingAndGlyphs">0.02</text>
<text x="1041.0" y="1459.9" font-size="30.5" text-anchor="end" fill="#1a1a1a" textLength="54.0" lengthAdjust="spacingAndGlyphs">0.04</text>
<text x="1041.0" y="1333.3" font-size="30.5" text-anchor="end" fill="#1a1a1a" textLength="54.0" lengthAdjust="spacingAndGlyphs">0.06</text>
<text x="1041.0" y="1206.7" font-size="30.5" text-anchor="end" fill="#1a1a1a" textLength="54.0" lengthAdjust="spacingAndGlyphs">0.08</text>
<path d="M1135.5 1135.5v11M1135.5 1768v11M1210.4 1135.5v6M1210.4 1768v6M1285.4 1135.5v11M1285.4 1768v11M1360.3 1135.5v6M1360.3 1768v6M1435.2 1135.5v11M1435.2 1768v11M1510.2 1135.5v6M1510.2 1768v6M1585.1 1135.5v11M1585.1 1768v11M1660.1 1135.5v6M1660.1 1768v6M1735.0 1135.5v11M1735.0 1768v11M1061 1703.5h-11M1810 1703.5h-11M1061 1640.2h-6M1810 1640.2h-6M1061 1576.9h-11M1810 1576.9h-11M1061 1513.6h-6M1810 1513.6h-6M1061 1450.3h-11M1810 1450.3h-11M1061 1387.0h-6M1810 1387.0h-6M1061 1323.7h-11M1810 1323.7h-11M1061 1260.4h-6M1810 1260.4h-6M1061 1197.1h-11M1810 1197.1h-11M1061 1133.8h-6M1810 1133.8h-6" stroke="#4c4c4c" stroke-width="2.6" fill="none"/>
<text x="1314.0" y="1857.0" font-size="32" fill="#1a1a1a" textLength="244.0" lengthAdjust="spacingAndGlyphs">Wavelength (nm)</text>
<text x="966.5" y="1674" font-size="34" fill="#1a1a1a" textLength="406.0" lengthAdjust="spacingAndGlyphs" transform="rotate(-90 966.5 1674)">Normalized Intensity (a. u.)</text>
<text x="930.0" y="1140.0" font-size="59" textLength="40.0" lengthAdjust="spacingAndGlyphs">C</text>
<clipPath id="cpC"><rect x="1061" y="1135.5" width="749" height="632.5"/></clipPath>
<g clip-path="url(#cpC)" fill="none" stroke-width="5.2" stroke-linejoin="round" stroke-linecap="round">
<path d="M1135.5 1676.6C1136.9 1677.6 1140.7 1680.9 1144.1 1682.3C1147.4 1683.7 1151.7 1685.6 1155.5 1685.2C1159.3 1684.7 1163.1 1683.7 1166.9 1679.5C1170.7 1675.2 1175.0 1664.5 1178.3 1659.5C1181.6 1654.4 1184.0 1650.9 1186.9 1649.2C1189.7 1647.5 1191.2 1649.6 1195.4 1649.2C1199.7 1648.8 1206.9 1648.1 1212.6 1646.9C1218.3 1645.8 1223.0 1644.2 1229.7 1642.3C1236.4 1640.4 1245.9 1638.8 1252.5 1635.5C1259.2 1632.2 1265.1 1626.0 1269.7 1622.4C1274.2 1618.7 1275.1 1617.4 1280.0 1613.4C1284.9 1609.4 1292.6 1602.7 1298.9 1598.3C1305.2 1593.9 1312.2 1590.4 1317.9 1586.9C1323.5 1583.5 1328.9 1580.9 1333.0 1577.5C1337.1 1574.0 1339.6 1570.5 1342.5 1566.1C1345.3 1561.7 1347.8 1554.4 1350.0 1551.0C1352.2 1547.5 1353.8 1546.7 1355.7 1545.3C1357.6 1543.9 1359.2 1542.8 1361.4 1542.5C1363.6 1542.1 1366.4 1543.2 1369.0 1543.4C1371.5 1543.6 1374.3 1544.4 1376.5 1543.4C1378.7 1542.5 1380.3 1541.5 1382.2 1537.7C1384.1 1533.9 1386.0 1528.3 1387.9 1520.7C1389.8 1513.1 1392.0 1501.8 1393.6 1492.3C1395.1 1482.8 1395.5 1475.0 1397.4 1463.9C1399.2 1452.9 1402.4 1438.7 1404.9 1426.1C1407.4 1413.4 1410.0 1400.8 1412.5 1388.2C1415.0 1375.6 1417.5 1361.4 1420.1 1350.3C1422.6 1339.3 1425.1 1329.8 1427.6 1322.0C1430.2 1314.1 1432.7 1309.0 1435.2 1303.0C1437.7 1297.0 1440.3 1291.7 1442.8 1286.0C1445.3 1280.3 1447.8 1274.6 1450.3 1269.0C1452.9 1263.3 1455.6 1257.3 1457.9 1251.9C1460.3 1246.6 1462.6 1241.5 1464.5 1236.8C1466.4 1232.1 1467.2 1227.6 1469.3 1223.5C1471.3 1219.4 1474.3 1214.6 1476.8 1212.2C1479.4 1209.7 1481.9 1210.0 1484.4 1208.8C1486.9 1207.5 1489.5 1206.3 1492.0 1204.6C1494.5 1202.9 1497.4 1200.0 1499.6 1198.5C1501.8 1197.1 1503.5 1196.0 1505.2 1196.1C1507.0 1196.2 1508.5 1196.6 1510.0 1198.9C1511.4 1201.3 1512.5 1204.6 1513.8 1210.3C1515.0 1216.0 1516.1 1222.9 1517.5 1233.0C1519.0 1243.1 1520.7 1257.6 1522.3 1270.9C1523.8 1284.1 1525.4 1299.9 1527.0 1312.5C1528.6 1325.1 1530.3 1337.7 1531.7 1346.6C1533.2 1355.4 1534.3 1361.4 1535.5 1365.5C1536.8 1369.6 1538.0 1371.2 1539.3 1371.2C1540.6 1371.2 1541.8 1370.2 1543.1 1365.5C1544.4 1360.8 1545.3 1353.2 1546.9 1342.8C1548.5 1332.4 1550.7 1313.8 1552.6 1303.0C1554.4 1292.3 1556.5 1283.6 1558.2 1278.4C1560.0 1273.2 1561.4 1271.8 1563.0 1271.8C1564.5 1271.8 1566.0 1273.5 1567.7 1278.4C1569.4 1283.3 1571.5 1292.9 1573.4 1301.1C1575.3 1309.3 1576.9 1315.5 1579.1 1327.6C1581.2 1339.8 1583.8 1362.0 1586.5 1374.0C1589.2 1386.0 1592.2 1393.1 1595.1 1399.7C1597.9 1406.4 1600.8 1409.2 1603.6 1414.0C1606.5 1418.7 1609.3 1419.7 1612.2 1428.3C1615.1 1436.8 1617.9 1447.8 1620.8 1465.4C1623.6 1483.0 1626.4 1508.1 1629.3 1533.9C1632.3 1559.6 1636.4 1601.9 1638.6 1620.0C1640.7 1638.1 1640.8 1634.7 1642.3 1642.6C1643.9 1650.4 1646.1 1660.5 1648.0 1667.1C1649.9 1673.6 1651.7 1678.5 1653.6 1682.1C1655.5 1685.7 1657.9 1687.4 1659.3 1688.7C1660.7 1690.0 1661.0 1690.1 1662.1 1690.0C1663.2 1689.9 1664.4 1689.8 1665.9 1688.1C1667.3 1686.5 1668.8 1684.1 1670.6 1680.2C1672.3 1676.4 1674.3 1670.5 1676.2 1665.2C1678.1 1659.8 1680.0 1653.6 1681.9 1648.2C1683.7 1642.9 1685.8 1637.1 1687.5 1633.2C1689.2 1629.3 1691.0 1626.4 1692.2 1624.7C1693.5 1623.0 1694.1 1622.8 1695.0 1622.8C1696.0 1622.8 1696.6 1622.7 1697.9 1624.7C1699.1 1626.7 1700.8 1630.5 1702.6 1635.1C1704.3 1639.6 1706.3 1646.7 1708.2 1652.0C1710.1 1657.3 1712.0 1662.8 1713.9 1667.1C1715.7 1671.3 1717.5 1674.7 1719.5 1677.4C1721.5 1680.1 1724.0 1681.9 1726.1 1683.0C1728.1 1684.2 1729.7 1684.5 1731.7 1684.4C1733.8 1684.2 1736.0 1683.7 1738.3 1682.1C1740.7 1680.5 1743.7 1677.1 1745.8 1674.6C1748.0 1672.1 1749.9 1669.2 1751.5 1667.1C1753.1 1664.9 1754.6 1662.7 1755.3 1661.8" stroke="#000000" stroke-width="4.2"/>
<path d="M1135.5 1676.6C1136.9 1677.6 1140.7 1680.9 1144.1 1682.3C1147.4 1683.7 1151.7 1685.6 1155.5 1685.2C1159.3 1684.7 1163.1 1683.7 1166.9 1679.5C1170.7 1675.2 1175.0 1664.5 1178.3 1659.5C1181.6 1654.4 1184.0 1650.9 1186.9 1649.2C1189.7 1647.5 1191.2 1649.6 1195.4 1649.2C1199.7 1648.8 1206.9 1648.1 1212.6 1646.9C1218.3 1645.8 1223.0 1644.2 1229.7 1642.3C1236.4 1640.4 1245.9 1638.8 1252.5 1635.5C1259.2 1632.2 1265.1 1626.0 1269.7 1622.4C1274.2 1618.7 1275.1 1617.4 1280.0 1613.4C1284.9 1609.4 1292.6 1602.7 1298.9 1598.3C1305.2 1593.9 1312.2 1590.4 1317.9 1586.9C1323.5 1583.5 1328.9 1580.9 1333.0 1577.5C1337.1 1574.0 1339.6 1570.5 1342.5 1566.1C1345.3 1561.7 1347.8 1554.4 1350.0 1551.0C1352.2 1547.5 1353.8 1546.7 1355.7 1545.3C1357.6 1543.9 1359.2 1542.8 1361.4 1542.5C1363.6 1542.1 1366.4 1543.2 1369.0 1543.4C1371.5 1543.6 1374.3 1544.4 1376.5 1543.4C1378.7 1542.5 1380.3 1541.5 1382.2 1537.7C1384.1 1533.9 1386.0 1528.3 1387.9 1520.7C1389.8 1513.1 1392.0 1501.8 1393.6 1492.3C1395.1 1482.8 1395.5 1475.0 1397.4 1463.9C1399.2 1452.9 1402.4 1438.7 1404.9 1426.1C1407.4 1413.4 1410.0 1400.5 1412.5 1388.2C1415.0 1375.9 1417.5 1362.5 1420.1 1352.1C1422.6 1341.7 1425.1 1332.9 1427.6 1325.7C1430.2 1318.6 1432.7 1314.3 1435.2 1309.0C1437.7 1303.8 1440.3 1299.2 1442.8 1294.4C1445.3 1289.5 1447.8 1284.7 1450.3 1279.9C1452.9 1275.1 1455.6 1270.0 1457.9 1265.5C1460.3 1261.0 1462.6 1257.1 1464.5 1252.9C1466.4 1248.7 1467.2 1244.3 1469.3 1240.3C1471.3 1236.4 1474.3 1231.7 1476.8 1229.4C1479.4 1227.0 1481.9 1227.3 1484.4 1226.1C1486.9 1224.9 1489.5 1223.7 1492.0 1222.1C1494.5 1220.4 1497.4 1217.6 1499.6 1216.2C1501.8 1214.9 1503.5 1213.8 1505.2 1213.8C1507.0 1213.9 1508.5 1214.3 1510.0 1216.6C1511.4 1218.9 1512.5 1222.1 1513.8 1227.5C1515.0 1233.0 1516.1 1239.7 1517.5 1249.5C1519.0 1259.2 1520.7 1273.2 1522.3 1286.0C1523.8 1298.8 1525.4 1314.0 1527.0 1326.2C1528.6 1338.4 1530.3 1350.5 1531.7 1359.1C1533.2 1367.6 1534.3 1373.4 1535.5 1377.3C1536.8 1381.3 1538.0 1382.8 1539.3 1382.8C1540.6 1382.8 1541.8 1381.9 1543.1 1377.3C1544.4 1372.8 1545.3 1365.4 1546.9 1355.4C1548.5 1345.4 1550.7 1327.4 1552.6 1317.0C1554.4 1306.7 1556.5 1298.3 1558.2 1293.3C1560.0 1288.3 1561.4 1286.9 1563.0 1286.9C1564.5 1286.9 1566.0 1288.6 1567.7 1293.3C1569.4 1298.0 1571.5 1307.3 1573.4 1315.2C1575.3 1323.1 1576.9 1329.1 1579.1 1340.8C1581.2 1352.5 1583.8 1374.0 1586.5 1385.6C1589.2 1397.2 1592.2 1403.9 1595.1 1410.4C1597.9 1416.8 1600.8 1419.5 1603.6 1424.1C1606.5 1428.7 1609.3 1429.6 1612.2 1437.9C1615.1 1446.2 1617.9 1456.7 1620.8 1473.7C1623.6 1490.7 1626.4 1514.9 1629.3 1539.8C1632.3 1564.7 1636.4 1605.4 1638.6 1622.9C1640.7 1640.4 1640.8 1637.3 1642.3 1644.7C1643.9 1652.2 1646.1 1661.4 1648.0 1667.7C1649.9 1674.0 1651.7 1678.9 1653.6 1682.5C1655.5 1686.0 1657.9 1687.7 1659.3 1689.0C1660.7 1690.2 1661.0 1690.3 1662.1 1690.2C1663.2 1690.2 1664.4 1690.0 1665.9 1688.4C1667.3 1686.8 1668.8 1684.4 1670.6 1680.6C1672.3 1676.9 1674.3 1671.1 1676.2 1665.8C1678.1 1660.6 1680.0 1654.4 1681.9 1649.2C1683.7 1644.0 1685.8 1638.3 1687.5 1634.4C1689.2 1630.6 1691.0 1627.8 1692.2 1626.1C1693.5 1624.4 1694.1 1624.2 1695.0 1624.2C1696.0 1624.2 1696.6 1624.1 1697.9 1626.1C1699.1 1628.1 1700.8 1631.8 1702.6 1636.3C1704.3 1640.7 1706.3 1647.7 1708.2 1652.9C1710.1 1658.1 1712.0 1663.5 1713.9 1667.7C1715.7 1671.8 1717.5 1675.2 1719.5 1677.9C1721.5 1680.5 1724.0 1682.3 1726.1 1683.4C1728.1 1684.5 1729.7 1684.9 1731.7 1684.7C1733.8 1684.5 1736.0 1684.1 1738.3 1682.5C1740.7 1680.9 1743.7 1677.6 1745.8 1675.1C1748.0 1672.6 1749.9 1669.8 1751.5 1667.7C1753.1 1665.6 1754.6 1663.4 1755.3 1662.5" stroke="#ff0000"/>
<path d="M1135.5 1674.8C1136.9 1675.8 1140.7 1679.1 1144.1 1680.5C1147.4 1681.9 1151.7 1683.8 1155.5 1683.4C1159.3 1682.9 1163.1 1681.9 1166.9 1677.7C1170.7 1673.4 1175.0 1662.7 1178.3 1657.7C1181.6 1652.6 1184.0 1649.1 1186.9 1647.4C1189.7 1645.7 1191.2 1647.8 1195.4 1647.4C1199.7 1647.0 1206.9 1646.3 1212.6 1645.1C1218.3 1644.0 1223.0 1642.4 1229.7 1640.5C1236.4 1638.6 1245.9 1637.0 1252.5 1633.7C1259.2 1630.4 1265.1 1624.2 1269.7 1620.6C1274.2 1616.9 1275.1 1615.6 1280.0 1611.6C1284.9 1607.6 1292.6 1600.9 1298.9 1596.5C1305.2 1592.1 1312.2 1588.6 1317.9 1585.1C1323.5 1581.7 1328.9 1579.1 1333.0 1575.7C1337.1 1572.2 1339.6 1568.7 1342.5 1564.3C1345.3 1559.9 1347.8 1552.6 1350.0 1549.2C1352.2 1545.7 1353.8 1544.9 1355.7 1543.5C1357.6 1542.1 1359.2 1541.0 1361.4 1540.7C1363.6 1540.3 1366.4 1541.4 1369.0 1541.6C1371.5 1541.8 1374.3 1542.6 1376.5 1541.6C1378.7 1540.7 1380.3 1539.7 1382.2 1535.9C1384.1 1532.1 1386.0 1526.5 1387.9 1518.9C1389.8 1511.3 1392.0 1500.0 1393.6 1490.5C1395.1 1481.0 1395.5 1473.2 1397.4 1462.1C1399.2 1451.1 1402.4 1436.9 1404.9 1424.3C1407.4 1411.6 1410.0 1398.7 1412.5 1386.4C1415.0 1374.2 1417.5 1361.0 1420.1 1350.8C1422.6 1340.5 1425.1 1332.0 1427.6 1325.0C1430.2 1318.0 1432.7 1313.9 1435.2 1308.8C1437.7 1303.8 1440.3 1299.4 1442.8 1294.8C1445.3 1290.1 1447.8 1285.5 1450.3 1280.9C1452.9 1276.3 1455.6 1271.5 1457.9 1267.2C1460.3 1262.9 1462.6 1259.3 1464.5 1255.2C1466.4 1251.1 1467.2 1246.6 1469.3 1242.7C1471.3 1238.8 1474.3 1234.2 1476.8 1231.8C1479.4 1229.5 1481.9 1229.8 1484.4 1228.6C1486.9 1227.3 1489.5 1226.2 1492.0 1224.6C1494.5 1222.9 1497.4 1220.1 1499.6 1218.7C1501.8 1217.4 1503.5 1216.3 1505.2 1216.4C1507.0 1216.4 1508.5 1216.8 1510.0 1219.1C1511.4 1221.4 1512.5 1224.6 1513.8 1230.0C1515.0 1235.5 1516.1 1242.1 1517.5 1251.8C1519.0 1261.5 1520.7 1275.4 1522.3 1288.2C1523.8 1300.9 1525.4 1316.0 1527.0 1328.1C1528.6 1340.2 1530.3 1352.4 1531.7 1360.8C1533.2 1369.3 1534.3 1375.1 1535.5 1379.0C1536.8 1382.9 1538.0 1384.5 1539.3 1384.5C1540.6 1384.5 1541.8 1383.6 1543.1 1379.0C1544.4 1374.5 1545.3 1367.2 1546.9 1357.2C1548.5 1347.2 1550.7 1329.3 1552.6 1319.0C1554.4 1308.8 1556.5 1300.4 1558.2 1295.4C1560.0 1290.4 1561.4 1289.1 1563.0 1289.1C1564.5 1289.1 1566.0 1290.7 1567.7 1295.4C1569.4 1300.1 1571.5 1309.4 1573.4 1317.2C1575.3 1325.1 1576.9 1331.0 1579.1 1342.7C1581.2 1354.3 1583.8 1375.7 1586.5 1387.2C1589.2 1398.7 1592.2 1405.5 1595.1 1411.9C1597.9 1418.3 1600.8 1421.0 1603.6 1425.6C1606.5 1430.1 1609.3 1431.1 1612.2 1439.3C1615.1 1447.5 1617.9 1458.0 1620.8 1474.9C1623.6 1491.8 1626.4 1515.9 1629.3 1540.7C1632.3 1565.4 1636.4 1605.9 1638.6 1623.3C1640.7 1640.7 1640.8 1637.8 1642.3 1645.0C1643.9 1652.3 1646.1 1660.8 1648.0 1666.9C1649.9 1673.0 1651.7 1678.1 1653.6 1681.6C1655.5 1685.2 1657.9 1686.8 1659.3 1688.1C1660.7 1689.4 1661.0 1689.5 1662.1 1689.4C1663.2 1689.3 1664.4 1689.1 1665.9 1687.5C1667.3 1685.9 1668.8 1683.5 1670.6 1679.8C1672.3 1676.0 1674.3 1670.3 1676.2 1665.0C1678.1 1659.8 1680.0 1653.7 1681.9 1648.4C1683.7 1643.2 1685.8 1637.5 1687.5 1633.7C1689.2 1629.8 1691.0 1627.1 1692.2 1625.4C1693.5 1623.7 1694.1 1623.5 1695.0 1623.5C1696.0 1623.5 1696.6 1623.4 1697.9 1625.4C1699.1 1627.4 1700.8 1631.1 1702.6 1635.5C1704.3 1640.0 1706.3 1646.9 1708.2 1652.1C1710.1 1657.4 1712.0 1662.7 1713.9 1666.9C1715.7 1671.0 1717.5 1674.4 1719.5 1677.0C1721.5 1679.6 1724.0 1681.4 1726.1 1682.6C1728.1 1683.7 1729.7 1684.0 1731.7 1683.8C1733.8 1683.7 1736.0 1683.2 1738.3 1681.6C1740.7 1680.0 1743.7 1676.7 1745.8 1674.3C1748.0 1671.8 1749.9 1669.0 1751.5 1666.9C1753.1 1664.8 1754.6 1662.6 1755.3 1661.7" stroke="#0000ff"/>
<path d="M1135.5 1676.0C1136.9 1677.0 1140.7 1680.3 1144.1 1681.7C1147.4 1683.1 1151.7 1685.0 1155.5 1684.6C1159.3 1684.1 1163.1 1683.1 1166.9 1678.9C1170.7 1674.6 1175.0 1663.9 1178.3 1658.9C1181.6 1653.8 1184.0 1650.3 1186.9 1648.6C1189.7 1646.9 1191.2 1649.0 1195.4 1648.6C1199.7 1648.2 1206.9 1647.5 1212.6 1646.3C1218.3 1645.2 1223.0 1643.6 1229.7 1641.7C1236.4 1639.8 1245.9 1638.2 1252.5 1634.9C1259.2 1631.6 1265.1 1625.4 1269.7 1621.8C1274.2 1618.1 1275.1 1616.8 1280.0 1612.8C1284.9 1608.8 1292.6 1602.1 1298.9 1597.7C1305.2 1593.3 1312.2 1589.8 1317.9 1586.3C1323.5 1582.9 1328.9 1580.3 1333.0 1576.9C1337.1 1573.4 1339.6 1569.9 1342.5 1565.5C1345.3 1561.1 1347.8 1553.8 1350.0 1550.4C1352.2 1546.9 1353.8 1546.1 1355.7 1544.7C1357.6 1543.3 1359.2 1542.2 1361.4 1541.9C1363.6 1541.5 1366.4 1542.6 1369.0 1542.8C1371.5 1543.0 1374.3 1543.8 1376.5 1542.8C1378.7 1541.9 1380.3 1540.9 1382.2 1537.1C1384.1 1533.3 1386.0 1527.7 1387.9 1520.1C1389.8 1512.5 1392.0 1501.2 1393.6 1491.7C1395.1 1482.2 1395.5 1474.4 1397.4 1463.3C1399.2 1452.3 1402.4 1438.1 1404.9 1425.5C1407.4 1412.8 1410.0 1399.9 1412.5 1387.6C1415.0 1375.3 1417.5 1362.1 1420.1 1351.8C1422.6 1341.5 1425.1 1332.9 1427.6 1325.9C1430.2 1318.8 1432.7 1314.6 1435.2 1309.5C1437.7 1304.4 1440.3 1300.0 1442.8 1295.3C1445.3 1290.6 1447.8 1285.9 1450.3 1281.2C1452.9 1276.6 1455.6 1271.7 1457.9 1267.4C1460.3 1263.0 1462.6 1259.3 1464.5 1255.2C1466.4 1251.1 1467.2 1246.6 1469.3 1242.7C1471.3 1238.8 1474.3 1234.2 1476.8 1231.8C1479.4 1229.5 1481.9 1229.8 1484.4 1228.6C1486.9 1227.3 1489.5 1226.2 1492.0 1224.6C1494.5 1222.9 1497.4 1220.1 1499.6 1218.7C1501.8 1217.4 1503.5 1216.3 1505.2 1216.4C1507.0 1216.4 1508.5 1216.8 1510.0 1219.1C1511.4 1221.4 1512.5 1224.6 1513.8 1230.0C1515.0 1235.5 1516.1 1242.1 1517.5 1251.8C1519.0 1261.5 1520.7 1275.4 1522.3 1288.2C1523.8 1300.9 1525.4 1316.0 1527.0 1328.1C1528.6 1340.2 1530.3 1352.4 1531.7 1360.8C1533.2 1369.3 1534.3 1375.1 1535.5 1379.0C1536.8 1382.9 1538.0 1384.5 1539.3 1384.5C1540.6 1384.5 1541.8 1383.6 1543.1 1379.0C1544.4 1374.5 1545.3 1367.2 1546.9 1357.2C1548.5 1347.2 1550.7 1329.3 1552.6 1319.0C1554.4 1308.8 1556.5 1300.4 1558.2 1295.4C1560.0 1290.4 1561.4 1289.1 1563.0 1289.1C1564.5 1289.1 1566.0 1290.7 1567.7 1295.4C1569.4 1300.1 1571.5 1309.4 1573.4 1317.2C1575.3 1325.1 1576.9 1331.0 1579.1 1342.7C1581.2 1354.3 1583.8 1375.7 1586.5 1387.2C1589.2 1398.7 1592.2 1405.5 1595.1 1411.9C1597.9 1418.3 1600.8 1421.0 1603.6 1425.6C1606.5 1430.1 1609.3 1431.1 1612.2 1439.3C1615.1 1447.5 1617.9 1458.0 1620.8 1474.9C1623.6 1491.8 1626.4 1515.9 1629.3 1540.7C1632.3 1565.4 1636.4 1605.9 1638.6 1623.3C1640.7 1640.7 1640.8 1637.7 1642.3 1645.0C1643.9 1652.4 1646.1 1661.3 1648.0 1667.5C1649.9 1673.7 1651.7 1678.7 1653.6 1682.2C1655.5 1685.8 1657.9 1687.4 1659.3 1688.7C1660.7 1690.0 1661.0 1690.1 1662.1 1690.0C1663.2 1689.9 1664.4 1689.7 1665.9 1688.1C1667.3 1686.5 1668.8 1684.1 1670.6 1680.4C1672.3 1676.6 1674.3 1670.9 1676.2 1665.6C1678.1 1660.4 1680.0 1654.3 1681.9 1649.0C1683.7 1643.8 1685.8 1638.1 1687.5 1634.3C1689.2 1630.4 1691.0 1627.7 1692.2 1626.0C1693.5 1624.3 1694.1 1624.1 1695.0 1624.1C1696.0 1624.1 1696.6 1624.0 1697.9 1626.0C1699.1 1628.0 1700.8 1631.7 1702.6 1636.1C1704.3 1640.6 1706.3 1647.5 1708.2 1652.7C1710.1 1658.0 1712.0 1663.3 1713.9 1667.5C1715.7 1671.6 1717.5 1675.0 1719.5 1677.6C1721.5 1680.2 1724.0 1682.0 1726.1 1683.2C1728.1 1684.3 1729.7 1684.6 1731.7 1684.4C1733.8 1684.3 1736.0 1683.8 1738.3 1682.2C1740.7 1680.6 1743.7 1677.3 1745.8 1674.9C1748.0 1672.4 1749.9 1669.6 1751.5 1667.5C1753.1 1665.4 1754.6 1663.2 1755.3 1662.3" stroke="#ff00ff"/>
<path d="M1135.5 1676.6C1136.9 1677.6 1140.7 1680.9 1144.1 1682.3C1147.4 1683.7 1151.7 1685.6 1155.5 1685.2C1159.3 1684.7 1163.1 1683.7 1166.9 1679.5C1170.7 1675.2 1175.0 1664.5 1178.3 1659.5C1181.6 1654.4 1184.0 1650.9 1186.9 1649.2C1189.7 1647.5 1191.2 1649.6 1195.4 1649.2C1199.7 1648.8 1206.9 1648.1 1212.6 1646.9C1218.3 1645.8 1223.0 1644.2 1229.7 1642.3C1236.4 1640.4 1245.9 1638.8 1252.5 1635.5C1259.2 1632.2 1265.1 1626.0 1269.7 1622.4C1274.2 1618.7 1275.1 1617.4 1280.0 1613.4C1284.9 1609.4 1292.6 1602.7 1298.9 1598.3C1305.2 1593.9 1312.2 1590.4 1317.9 1586.9C1323.5 1583.5 1328.9 1580.9 1333.0 1577.5C1337.1 1574.0 1339.6 1570.5 1342.5 1566.1C1345.3 1561.7 1347.8 1554.4 1350.0 1551.0C1352.2 1547.5 1353.8 1546.7 1355.7 1545.3C1357.6 1543.9 1359.2 1542.8 1361.4 1542.5C1363.6 1542.1 1366.4 1543.2 1369.0 1543.4C1371.5 1543.6 1374.3 1544.4 1376.5 1543.4C1378.7 1542.5 1380.3 1541.5 1382.2 1537.7C1384.1 1533.9 1386.0 1528.3 1387.9 1520.7C1389.8 1513.1 1392.0 1501.8 1393.6 1492.3C1395.1 1482.8 1395.5 1475.0 1397.4 1463.9C1399.2 1452.9 1402.4 1438.7 1404.9 1426.1C1407.4 1413.4 1410.0 1400.5 1412.5 1388.2C1415.0 1375.9 1417.5 1362.7 1420.1 1352.4C1422.6 1342.1 1425.1 1333.5 1427.6 1326.5C1430.2 1319.5 1432.7 1315.3 1435.2 1310.2C1437.7 1305.1 1440.3 1300.7 1442.8 1296.0C1445.3 1291.3 1447.8 1286.7 1450.3 1282.0C1452.9 1277.4 1455.6 1272.6 1457.9 1268.2C1460.3 1263.9 1462.6 1260.2 1464.5 1256.1C1466.4 1252.0 1467.2 1247.6 1469.3 1243.7C1471.3 1239.8 1474.3 1235.2 1476.8 1232.8C1479.4 1230.5 1481.9 1230.8 1484.4 1229.5C1486.9 1228.3 1489.5 1227.2 1492.0 1225.6C1494.5 1223.9 1497.4 1221.1 1499.6 1219.8C1501.8 1218.4 1503.5 1217.3 1505.2 1217.4C1507.0 1217.5 1508.5 1217.9 1510.0 1220.1C1511.4 1222.4 1512.5 1225.6 1513.8 1231.0C1515.0 1236.4 1516.1 1243.1 1517.5 1252.8C1519.0 1262.4 1520.7 1276.3 1522.3 1289.0C1523.8 1301.7 1525.4 1316.8 1527.0 1328.9C1528.6 1341.0 1530.3 1353.1 1531.7 1361.6C1533.2 1370.0 1534.3 1375.8 1535.5 1379.7C1536.8 1383.6 1538.0 1385.1 1539.3 1385.1C1540.6 1385.1 1541.8 1384.2 1543.1 1379.7C1544.4 1375.2 1545.3 1367.9 1546.9 1357.9C1548.5 1348.0 1550.7 1330.1 1552.6 1319.8C1554.4 1309.6 1556.5 1301.3 1558.2 1296.3C1560.0 1291.3 1561.4 1289.9 1563.0 1289.9C1564.5 1289.9 1566.0 1291.6 1567.7 1296.3C1569.4 1301.0 1571.5 1310.2 1573.4 1318.0C1575.3 1325.9 1576.9 1331.8 1579.1 1343.4C1581.2 1355.1 1583.8 1376.4 1586.5 1387.9C1589.2 1399.4 1592.2 1406.1 1595.1 1412.5C1597.9 1418.9 1600.8 1421.6 1603.6 1426.1C1606.5 1430.7 1609.3 1431.6 1612.2 1439.8C1615.1 1448.0 1617.9 1458.5 1620.8 1475.4C1623.6 1492.2 1626.4 1516.3 1629.3 1541.0C1632.3 1565.7 1636.4 1606.2 1638.6 1623.5C1640.7 1640.9 1640.8 1637.8 1642.3 1645.1C1643.9 1652.5 1646.1 1661.6 1648.0 1667.8C1649.9 1674.1 1651.7 1679.0 1653.6 1682.6C1655.5 1686.1 1657.9 1687.7 1659.3 1689.0C1660.7 1690.3 1661.0 1690.4 1662.1 1690.3C1663.2 1690.2 1664.4 1690.1 1665.9 1688.5C1667.3 1686.9 1668.8 1684.5 1670.6 1680.7C1672.3 1677.0 1674.3 1671.2 1676.2 1666.0C1678.1 1660.8 1680.0 1654.6 1681.9 1649.4C1683.7 1644.2 1685.8 1638.5 1687.5 1634.7C1689.2 1630.8 1691.0 1628.0 1692.2 1626.4C1693.5 1624.7 1694.1 1624.5 1695.0 1624.5C1696.0 1624.5 1696.6 1624.4 1697.9 1626.4C1699.1 1628.4 1700.8 1632.0 1702.6 1636.5C1704.3 1640.9 1706.3 1647.9 1708.2 1653.1C1710.1 1658.3 1712.0 1663.7 1713.9 1667.8C1715.7 1672.0 1717.5 1675.3 1719.5 1678.0C1721.5 1680.6 1724.0 1682.3 1726.1 1683.5C1728.1 1684.6 1729.7 1684.9 1731.7 1684.8C1733.8 1684.6 1736.0 1684.2 1738.3 1682.6C1740.7 1681.0 1743.7 1677.6 1745.8 1675.2C1748.0 1672.7 1749.9 1669.9 1751.5 1667.8C1753.1 1665.7 1754.6 1663.5 1755.3 1662.7" stroke="#008000"/>
<path d="M1135.5 1675.3C1136.9 1676.3 1140.7 1679.6 1144.1 1681.0C1147.4 1682.4 1151.7 1684.3 1155.5 1683.9C1159.3 1683.4 1163.1 1682.4 1166.9 1678.2C1170.7 1673.9 1175.0 1663.2 1178.3 1658.2C1181.6 1653.1 1184.0 1649.6 1186.9 1647.9C1189.7 1646.2 1191.2 1648.3 1195.4 1647.9C1199.7 1647.5 1206.9 1646.8 1212.6 1645.6C1218.3 1644.5 1223.0 1642.9 1229.7 1641.0C1236.4 1639.1 1245.9 1637.5 1252.5 1634.2C1259.2 1630.9 1265.1 1624.7 1269.7 1621.1C1274.2 1617.4 1275.1 1616.1 1280.0 1612.1C1284.9 1608.1 1292.6 1601.4 1298.9 1597.0C1305.2 1592.6 1312.2 1589.1 1317.9 1585.6C1323.5 1582.2 1328.9 1579.6 1333.0 1576.2C1337.1 1572.7 1339.6 1569.2 1342.5 1564.8C1345.3 1560.4 1347.8 1553.1 1350.0 1549.7C1352.2 1546.2 1353.8 1545.4 1355.7 1544.0C1357.6 1542.6 1359.2 1541.5 1361.4 1541.2C1363.6 1540.8 1366.4 1541.9 1369.0 1542.1C1371.5 1542.3 1374.3 1543.1 1376.5 1542.1C1378.7 1541.2 1380.3 1540.2 1382.2 1536.4C1384.1 1532.6 1386.0 1527.0 1387.9 1519.4C1389.8 1511.8 1392.0 1500.5 1393.6 1491.0C1395.1 1481.5 1395.5 1473.7 1397.4 1462.6C1399.2 1451.6 1402.4 1437.4 1404.9 1424.8C1407.4 1412.1 1410.0 1399.1 1412.5 1386.9C1415.0 1374.7 1417.5 1361.6 1420.1 1351.4C1422.6 1341.2 1425.1 1332.7 1427.6 1325.8C1430.2 1318.9 1432.7 1314.8 1435.2 1309.8C1437.7 1304.8 1440.3 1300.5 1442.8 1295.9C1445.3 1291.4 1447.8 1286.8 1450.3 1282.3C1452.9 1277.8 1455.6 1273.1 1457.9 1268.8C1460.3 1264.6 1462.6 1261.1 1464.5 1257.0C1466.4 1253.0 1467.2 1248.5 1469.3 1244.7C1471.3 1240.8 1474.3 1236.1 1476.8 1233.8C1479.4 1231.4 1481.9 1231.7 1484.4 1230.5C1486.9 1229.3 1489.5 1228.2 1492.0 1226.6C1494.5 1224.9 1497.4 1222.1 1499.6 1220.8C1501.8 1219.4 1503.5 1218.4 1505.2 1218.4C1507.0 1218.5 1508.5 1218.9 1510.0 1221.1C1511.4 1223.4 1512.5 1226.6 1513.8 1232.0C1515.0 1237.4 1516.1 1244.0 1517.5 1253.7C1519.0 1263.3 1520.7 1277.2 1522.3 1289.9C1523.8 1302.6 1525.4 1317.6 1527.0 1329.7C1528.6 1341.8 1530.3 1353.8 1531.7 1362.3C1533.2 1370.7 1534.3 1376.4 1535.5 1380.4C1536.8 1384.3 1538.0 1385.8 1539.3 1385.8C1540.6 1385.8 1541.8 1384.9 1543.1 1380.4C1544.4 1375.8 1545.3 1368.6 1546.9 1358.6C1548.5 1348.7 1550.7 1330.9 1552.6 1320.6C1554.4 1310.4 1556.5 1302.1 1558.2 1297.1C1560.0 1292.2 1561.4 1290.8 1563.0 1290.8C1564.5 1290.8 1566.0 1292.5 1567.7 1297.1C1569.4 1301.8 1571.5 1311.0 1573.4 1318.8C1575.3 1326.7 1576.9 1332.6 1579.1 1344.2C1581.2 1355.8 1583.8 1377.0 1586.5 1388.5C1589.2 1400.0 1592.2 1406.7 1595.1 1413.1C1597.9 1419.5 1600.8 1422.2 1603.6 1426.7C1606.5 1431.3 1609.3 1432.2 1612.2 1440.4C1615.1 1448.6 1617.9 1459.0 1620.8 1475.8C1623.6 1492.7 1626.4 1516.7 1629.3 1541.3C1632.3 1566.0 1636.4 1606.4 1638.6 1623.7C1640.7 1641.0 1640.8 1638.0 1642.3 1645.3C1643.9 1652.5 1646.1 1661.1 1648.0 1667.2C1649.9 1673.3 1651.7 1678.4 1653.6 1681.9C1655.5 1685.5 1657.9 1687.1 1659.3 1688.4C1660.7 1689.7 1661.0 1689.8 1662.1 1689.7C1663.2 1689.6 1664.4 1689.4 1665.9 1687.8C1667.3 1686.2 1668.8 1683.8 1670.6 1680.1C1672.3 1676.3 1674.3 1670.6 1676.2 1665.4C1678.1 1660.1 1680.0 1654.0 1681.9 1648.8C1683.7 1643.6 1685.8 1637.9 1687.5 1634.1C1689.2 1630.2 1691.0 1627.5 1692.2 1625.8C1693.5 1624.1 1694.1 1623.9 1695.0 1623.9C1696.0 1623.9 1696.6 1623.8 1697.9 1625.8C1699.1 1627.8 1700.8 1631.5 1702.6 1635.9C1704.3 1640.4 1706.3 1647.3 1708.2 1652.5C1710.1 1657.7 1712.0 1663.1 1713.9 1667.2C1715.7 1671.3 1717.5 1674.7 1719.5 1677.3C1721.5 1679.9 1724.0 1681.7 1726.1 1682.8C1728.1 1684.0 1729.7 1684.3 1731.7 1684.1C1733.8 1684.0 1736.0 1683.5 1738.3 1681.9C1740.7 1680.3 1743.7 1677.0 1745.8 1674.6C1748.0 1672.1 1749.9 1669.3 1751.5 1667.2C1753.1 1665.1 1754.6 1662.9 1755.3 1662.0" stroke="#000080"/>
<path d="M1135.5 1676.9C1136.9 1677.9 1140.7 1681.2 1144.1 1682.6C1147.4 1684.0 1151.7 1685.9 1155.5 1685.5C1159.3 1685.0 1163.1 1684.0 1166.9 1679.8C1170.7 1675.5 1175.0 1664.8 1178.3 1659.8C1181.6 1654.7 1184.0 1651.2 1186.9 1649.5C1189.7 1647.8 1191.2 1649.9 1195.4 1649.5C1199.7 1649.1 1206.9 1648.4 1212.6 1647.2C1218.3 1646.1 1223.0 1644.5 1229.7 1642.6C1236.4 1640.7 1245.9 1639.1 1252.5 1635.8C1259.2 1632.5 1265.1 1626.3 1269.7 1622.7C1274.2 1619.0 1275.1 1617.7 1280.0 1613.7C1284.9 1609.7 1292.6 1603.0 1298.9 1598.6C1305.2 1594.2 1312.2 1590.7 1317.9 1587.2C1323.5 1583.8 1328.9 1581.2 1333.0 1577.8C1337.1 1574.3 1339.6 1570.8 1342.5 1566.4C1345.3 1562.0 1347.8 1554.7 1350.0 1551.3C1352.2 1547.8 1353.8 1547.0 1355.7 1545.6C1357.6 1544.2 1359.2 1543.1 1361.4 1542.8C1363.6 1542.4 1366.4 1543.5 1369.0 1543.7C1371.5 1543.9 1374.3 1544.7 1376.5 1543.7C1378.7 1542.8 1380.3 1541.8 1382.2 1538.0C1384.1 1534.2 1386.0 1528.6 1387.9 1521.0C1389.8 1513.4 1392.0 1502.1 1393.6 1492.6C1395.1 1483.1 1395.5 1475.3 1397.4 1464.2C1399.2 1453.2 1402.4 1439.0 1404.9 1426.4C1407.4 1413.7 1410.0 1400.8 1412.5 1388.5C1415.0 1376.2 1417.5 1362.8 1420.1 1352.5C1422.6 1342.1 1425.1 1333.4 1427.6 1326.3C1430.2 1319.2 1432.7 1314.9 1435.2 1309.7C1437.7 1304.5 1440.3 1300.0 1442.8 1295.2C1445.3 1290.4 1447.8 1285.6 1450.3 1280.9C1452.9 1276.1 1455.6 1271.2 1457.9 1266.7C1460.3 1262.3 1462.6 1258.5 1464.5 1254.3C1466.4 1250.1 1467.2 1245.7 1469.3 1241.8C1471.3 1237.9 1474.3 1233.2 1476.8 1230.8C1479.4 1228.5 1481.9 1228.8 1484.4 1227.6C1486.9 1226.4 1489.5 1225.2 1492.0 1223.6C1494.5 1221.9 1497.4 1219.1 1499.6 1217.7C1501.8 1216.4 1503.5 1215.3 1505.2 1215.4C1507.0 1215.4 1508.5 1215.8 1510.0 1218.1C1511.4 1220.4 1512.5 1223.6 1513.8 1229.0C1515.0 1234.5 1516.1 1241.2 1517.5 1250.9C1519.0 1260.6 1520.7 1274.5 1522.3 1287.3C1523.8 1300.0 1525.4 1315.2 1527.0 1327.4C1528.6 1339.5 1530.3 1351.6 1531.7 1360.1C1533.2 1368.6 1534.3 1374.4 1535.5 1378.3C1536.8 1382.3 1538.0 1383.8 1539.3 1383.8C1540.6 1383.8 1541.8 1382.9 1543.1 1378.3C1544.4 1373.8 1545.3 1366.5 1546.9 1356.5C1548.5 1346.5 1550.7 1328.6 1552.6 1318.2C1554.4 1307.9 1556.5 1299.6 1558.2 1294.6C1560.0 1289.6 1561.4 1288.2 1563.0 1288.2C1564.5 1288.2 1566.0 1289.9 1567.7 1294.6C1569.4 1299.3 1571.5 1308.5 1573.4 1316.4C1575.3 1324.3 1576.9 1330.2 1579.1 1341.9C1581.2 1353.6 1583.8 1375.0 1586.5 1386.5C1589.2 1398.1 1592.2 1404.9 1595.1 1411.3C1597.9 1417.7 1600.8 1420.4 1603.6 1425.0C1606.5 1429.6 1609.3 1430.5 1612.2 1438.7C1615.1 1447.0 1617.9 1457.5 1620.8 1474.4C1623.6 1491.4 1626.4 1515.5 1629.3 1540.3C1632.3 1565.1 1636.4 1605.7 1638.6 1623.2C1640.7 1640.6 1640.8 1637.4 1642.3 1644.9C1643.9 1652.4 1646.1 1661.6 1648.0 1667.9C1649.9 1674.2 1651.7 1679.1 1653.6 1682.7C1655.5 1686.2 1657.9 1687.8 1659.3 1689.1C1660.7 1690.4 1661.0 1690.5 1662.1 1690.4C1663.2 1690.3 1664.4 1690.2 1665.9 1688.6C1667.3 1687.0 1668.8 1684.6 1670.6 1680.8C1672.3 1677.1 1674.3 1671.3 1676.2 1666.0C1678.1 1660.8 1680.0 1654.7 1681.9 1649.4C1683.7 1644.2 1685.8 1638.5 1687.5 1634.7C1689.2 1630.8 1691.0 1628.0 1692.2 1626.4C1693.5 1624.7 1694.1 1624.5 1695.0 1624.5C1696.0 1624.5 1696.6 1624.4 1697.9 1626.4C1699.1 1628.4 1700.8 1632.0 1702.6 1636.5C1704.3 1641.0 1706.3 1647.9 1708.2 1653.1C1710.1 1658.4 1712.0 1663.7 1713.9 1667.9C1715.7 1672.0 1717.5 1675.4 1719.5 1678.0C1721.5 1680.7 1724.0 1682.4 1726.1 1683.6C1728.1 1684.7 1729.7 1685.0 1731.7 1684.9C1733.8 1684.7 1736.0 1684.3 1738.3 1682.7C1740.7 1681.1 1743.7 1677.7 1745.8 1675.3C1748.0 1672.8 1749.9 1670.0 1751.5 1667.9C1753.1 1665.8 1754.6 1663.6 1755.3 1662.7" stroke="#8000ff"/>
<path d="M1135.5 1677.2C1136.9 1678.2 1140.7 1681.5 1144.1 1682.9C1147.4 1684.3 1151.7 1686.2 1155.5 1685.8C1159.3 1685.3 1163.1 1684.3 1166.9 1680.1C1170.7 1675.8 1175.0 1665.1 1178.3 1660.1C1181.6 1655.0 1184.0 1651.5 1186.9 1649.8C1189.7 1648.1 1191.2 1650.2 1195.4 1649.8C1199.7 1649.4 1206.9 1648.7 1212.6 1647.5C1218.3 1646.4 1223.0 1644.8 1229.7 1642.9C1236.4 1641.0 1245.9 1639.4 1252.5 1636.1C1259.2 1632.8 1265.1 1626.6 1269.7 1623.0C1274.2 1619.3 1275.1 1618.0 1280.0 1614.0C1284.9 1610.0 1292.6 1603.3 1298.9 1598.9C1305.2 1594.5 1312.2 1591.0 1317.9 1587.5C1323.5 1584.1 1328.9 1581.5 1333.0 1578.1C1337.1 1574.6 1339.6 1571.1 1342.5 1566.7C1345.3 1562.3 1347.8 1555.0 1350.0 1551.6C1352.2 1548.1 1353.8 1547.3 1355.7 1545.9C1357.6 1544.5 1359.2 1543.4 1361.4 1543.1C1363.6 1542.7 1366.4 1543.8 1369.0 1544.0C1371.5 1544.2 1374.3 1545.0 1376.5 1544.0C1378.7 1543.1 1380.3 1542.1 1382.2 1538.3C1384.1 1534.5 1386.0 1528.9 1387.9 1521.3C1389.8 1513.7 1392.0 1502.4 1393.6 1492.9C1395.1 1483.4 1395.5 1475.6 1397.4 1464.5C1399.2 1453.5 1402.4 1439.3 1404.9 1426.7C1407.4 1414.0 1410.0 1401.1 1412.5 1388.8C1415.0 1376.5 1417.5 1363.2 1420.1 1352.8C1422.6 1342.5 1425.1 1333.8 1427.6 1326.7C1430.2 1319.6 1432.7 1315.4 1435.2 1310.2C1437.7 1305.1 1440.3 1300.6 1442.8 1295.8C1445.3 1291.0 1447.8 1286.3 1450.3 1281.6C1452.9 1276.9 1455.6 1271.9 1457.9 1267.6C1460.3 1263.2 1462.6 1259.4 1464.5 1255.2C1466.4 1251.1 1467.2 1246.6 1469.3 1242.7C1471.3 1238.8 1474.3 1234.2 1476.8 1231.8C1479.4 1229.5 1481.9 1229.8 1484.4 1228.6C1486.9 1227.3 1489.5 1226.2 1492.0 1224.6C1494.5 1222.9 1497.4 1220.1 1499.6 1218.7C1501.8 1217.4 1503.5 1216.3 1505.2 1216.4C1507.0 1216.4 1508.5 1216.8 1510.0 1219.1C1511.4 1221.4 1512.5 1224.6 1513.8 1230.0C1515.0 1235.5 1516.1 1242.1 1517.5 1251.8C1519.0 1261.5 1520.7 1275.4 1522.3 1288.2C1523.8 1300.9 1525.4 1316.0 1527.0 1328.1C1528.6 1340.2 1530.3 1352.4 1531.7 1360.8C1533.2 1369.3 1534.3 1375.1 1535.5 1379.0C1536.8 1382.9 1538.0 1384.5 1539.3 1384.5C1540.6 1384.5 1541.8 1383.6 1543.1 1379.0C1544.4 1374.5 1545.3 1367.2 1546.9 1357.2C1548.5 1347.2 1550.7 1329.3 1552.6 1319.0C1554.4 1308.8 1556.5 1300.4 1558.2 1295.4C1560.0 1290.4 1561.4 1289.1 1563.0 1289.1C1564.5 1289.1 1566.0 1290.7 1567.7 1295.4C1569.4 1300.1 1571.5 1309.4 1573.4 1317.2C1575.3 1325.1 1576.9 1331.0 1579.1 1342.7C1581.2 1354.3 1583.8 1375.7 1586.5 1387.2C1589.2 1398.7 1592.2 1405.5 1595.1 1411.9C1597.9 1418.3 1600.8 1421.0 1603.6 1425.6C1606.5 1430.1 1609.3 1431.1 1612.2 1439.3C1615.1 1447.5 1617.9 1458.0 1620.8 1474.9C1623.6 1491.8 1626.4 1515.9 1629.3 1540.7C1632.3 1565.4 1636.4 1605.9 1638.6 1623.3C1640.7 1640.7 1640.8 1637.6 1642.3 1645.0C1643.9 1652.5 1646.1 1661.8 1648.0 1668.1C1649.9 1674.4 1651.7 1679.3 1653.6 1682.8C1655.5 1686.4 1657.9 1688.0 1659.3 1689.3C1660.7 1690.6 1661.0 1690.7 1662.1 1690.6C1663.2 1690.5 1664.4 1690.3 1665.9 1688.7C1667.3 1687.1 1668.8 1684.7 1670.6 1681.0C1672.3 1677.2 1674.3 1671.5 1676.2 1666.2C1678.1 1661.0 1680.0 1654.9 1681.9 1649.6C1683.7 1644.4 1685.8 1638.7 1687.5 1634.9C1689.2 1631.0 1691.0 1628.3 1692.2 1626.6C1693.5 1624.9 1694.1 1624.7 1695.0 1624.7C1696.0 1624.7 1696.6 1624.6 1697.9 1626.6C1699.1 1628.6 1700.8 1632.3 1702.6 1636.7C1704.3 1641.2 1706.3 1648.1 1708.2 1653.3C1710.1 1658.6 1712.0 1663.9 1713.9 1668.1C1715.7 1672.2 1717.5 1675.6 1719.5 1678.2C1721.5 1680.8 1724.0 1682.6 1726.1 1683.8C1728.1 1684.9 1729.7 1685.2 1731.7 1685.0C1733.8 1684.9 1736.0 1684.4 1738.3 1682.8C1740.7 1681.2 1743.7 1677.9 1745.8 1675.5C1748.0 1673.0 1749.9 1670.2 1751.5 1668.1C1753.1 1666.0 1754.6 1663.8 1755.3 1662.9" stroke="#800080"/>
<path d="M1135.5 1677.8C1136.9 1678.8 1140.7 1682.1 1144.1 1683.5C1147.4 1684.9 1151.7 1686.8 1155.5 1686.4C1159.3 1685.9 1163.1 1684.9 1166.9 1680.7C1170.7 1676.4 1175.0 1665.7 1178.3 1660.7C1181.6 1655.6 1184.0 1652.1 1186.9 1650.4C1189.7 1648.7 1191.2 1650.8 1195.4 1650.4C1199.7 1650.0 1206.9 1649.3 1212.6 1648.1C1218.3 1647.0 1223.0 1645.4 1229.7 1643.5C1236.4 1641.6 1245.9 1640.0 1252.5 1636.7C1259.2 1633.4 1265.1 1627.2 1269.7 1623.6C1274.2 1619.9 1275.1 1618.6 1280.0 1614.6C1284.9 1610.6 1292.6 1603.9 1298.9 1599.5C1305.2 1595.1 1312.2 1591.6 1317.9 1588.1C1323.5 1584.7 1328.9 1582.1 1333.0 1578.7C1337.1 1575.2 1339.6 1571.7 1342.5 1567.3C1345.3 1562.9 1347.8 1555.6 1350.0 1552.2C1352.2 1548.7 1353.8 1547.9 1355.7 1546.5C1357.6 1545.1 1359.2 1544.0 1361.4 1543.7C1363.6 1543.3 1366.4 1544.4 1369.0 1544.6C1371.5 1544.8 1374.3 1545.6 1376.5 1544.6C1378.7 1543.7 1380.3 1542.7 1382.2 1538.9C1384.1 1535.1 1386.0 1529.5 1387.9 1521.9C1389.8 1514.3 1392.0 1503.0 1393.6 1493.5C1395.1 1484.0 1395.5 1476.2 1397.4 1465.1C1399.2 1454.1 1402.4 1439.9 1404.9 1427.3C1407.4 1414.6 1410.0 1401.6 1412.5 1389.4C1415.0 1377.2 1417.5 1364.0 1420.1 1353.8C1422.6 1343.6 1425.1 1335.1 1427.6 1328.2C1430.2 1321.3 1432.7 1317.2 1435.2 1312.3C1437.7 1307.3 1440.3 1303.0 1442.8 1298.4C1445.3 1293.9 1447.8 1289.4 1450.3 1284.9C1452.9 1280.4 1455.6 1275.7 1457.9 1271.5C1460.3 1267.4 1462.6 1263.8 1464.5 1259.8C1466.4 1255.8 1467.2 1251.4 1469.3 1247.5C1471.3 1243.7 1474.3 1239.1 1476.8 1236.7C1479.4 1234.4 1481.9 1234.7 1484.4 1233.5C1486.9 1232.3 1489.5 1231.2 1492.0 1229.6C1494.5 1227.9 1497.4 1225.1 1499.6 1223.8C1501.8 1222.4 1503.5 1221.4 1505.2 1221.5C1507.0 1221.5 1508.5 1221.9 1510.0 1224.2C1511.4 1226.4 1512.5 1229.6 1513.8 1234.9C1515.0 1240.3 1516.1 1246.9 1517.5 1256.5C1519.0 1266.1 1520.7 1279.9 1522.3 1292.5C1523.8 1305.1 1525.4 1320.1 1527.0 1332.0C1528.6 1344.0 1530.3 1356.0 1531.7 1364.4C1533.2 1372.8 1534.3 1378.5 1535.5 1382.4C1536.8 1386.3 1538.0 1387.8 1539.3 1387.8C1540.6 1387.8 1541.8 1386.9 1543.1 1382.4C1544.4 1377.9 1545.3 1370.7 1546.9 1360.8C1548.5 1350.9 1550.7 1333.2 1552.6 1323.1C1554.4 1312.9 1556.5 1304.6 1558.2 1299.7C1560.0 1294.7 1561.4 1293.4 1563.0 1293.4C1564.5 1293.4 1566.0 1295.0 1567.7 1299.7C1569.4 1304.3 1571.5 1313.5 1573.4 1321.3C1575.3 1329.0 1576.9 1334.9 1579.1 1346.4C1581.2 1358.0 1583.8 1379.1 1586.5 1390.5C1589.2 1401.9 1592.2 1408.6 1595.1 1414.9C1597.9 1421.2 1600.8 1423.9 1603.6 1428.5C1606.5 1433.0 1609.3 1433.9 1612.2 1442.0C1615.1 1450.2 1617.9 1460.6 1620.8 1477.3C1623.6 1494.0 1626.4 1517.9 1629.3 1542.4C1632.3 1566.8 1636.4 1607.0 1638.6 1624.2C1640.7 1641.4 1640.8 1638.2 1642.3 1645.6C1643.9 1653.0 1646.1 1662.3 1648.0 1668.6C1649.9 1674.8 1651.7 1679.7 1653.6 1683.2C1655.5 1686.8 1657.9 1688.4 1659.3 1689.7C1660.7 1690.9 1661.0 1691.0 1662.1 1690.9C1663.2 1690.9 1664.4 1690.7 1665.9 1689.1C1667.3 1687.5 1668.8 1685.1 1670.6 1681.4C1672.3 1677.7 1674.3 1671.9 1676.2 1666.7C1678.1 1661.5 1680.0 1655.4 1681.9 1650.2C1683.7 1645.0 1685.8 1639.4 1687.5 1635.5C1689.2 1631.7 1691.0 1629.0 1692.2 1627.3C1693.5 1625.6 1694.1 1625.4 1695.0 1625.4C1696.0 1625.4 1696.6 1625.3 1697.9 1627.3C1699.1 1629.3 1700.8 1632.9 1702.6 1637.4C1704.3 1641.8 1706.3 1648.7 1708.2 1653.9C1710.1 1659.1 1712.0 1664.4 1713.9 1668.6C1715.7 1672.7 1717.5 1676.1 1719.5 1678.7C1721.5 1681.3 1724.0 1683.0 1726.1 1684.2C1728.1 1685.3 1729.7 1685.6 1731.7 1685.4C1733.8 1685.3 1736.0 1684.8 1738.3 1683.2C1740.7 1681.7 1743.7 1678.3 1745.8 1675.9C1748.0 1673.5 1749.9 1670.6 1751.5 1668.6C1753.1 1666.5 1754.6 1664.3 1755.3 1663.4" stroke="#800000"/>
</g>
<rect x="1462.5" y="1187" width="67.0" height="68.5" fill="none" stroke="#262626" stroke-width="3.2" rx="1.5"/>
<line x1="1461" y1="1222.5" x2="1403" y2="1290" stroke="#111" stroke-width="2.6" marker-end="url(#ah)"/>
<rect x="1079.5" y="1161.5" width="317.5" height="247.0" fill="#fff" stroke="#c4c4c4" stroke-width="3.2" rx="1.5"/>
<clipPath id="ciC"><rect x="1081.2" y="1163.2" width="314.1" height="243.6"/></clipPath>
<g clip-path="url(#ciC)" fill="none" stroke-width="4.8" stroke-linejoin="round">
<path d="M1091.5 1408.3C1093.6 1404.5 1099.2 1395.0 1104.1 1385.4C1109.1 1375.9 1115.5 1363.6 1121.2 1351.2C1126.9 1338.8 1132.6 1324.6 1138.4 1311.2C1144.1 1297.9 1149.8 1283.2 1155.5 1271.3C1161.2 1259.4 1166.9 1248.2 1172.6 1239.9C1178.3 1231.5 1184.0 1225.8 1189.7 1221.0C1195.4 1216.3 1201.2 1213.4 1206.9 1211.3C1212.6 1209.2 1218.3 1209.6 1224.0 1208.5C1229.7 1207.3 1235.4 1206.9 1241.1 1204.5C1246.8 1202.1 1252.5 1198.0 1258.2 1194.2C1264.0 1190.4 1270.1 1184.5 1275.4 1181.6C1280.6 1178.8 1285.4 1177.5 1289.6 1177.1C1293.9 1176.6 1297.3 1176.9 1301.1 1178.8C1304.9 1180.7 1308.7 1183.1 1312.5 1188.5C1316.3 1193.9 1320.1 1200.4 1323.9 1211.3C1327.7 1222.3 1331.5 1237.5 1335.3 1254.1C1339.1 1270.8 1343.4 1293.2 1346.7 1311.2C1350.1 1329.3 1352.7 1346.0 1355.3 1362.6C1357.9 1379.3 1361.0 1403.0 1362.1 1411.1" stroke="#000000"/>
<path d="M1091.5 1454.3C1093.6 1450.5 1099.2 1441.0 1104.1 1431.4C1109.1 1421.9 1115.5 1409.6 1121.2 1397.2C1126.9 1384.8 1132.6 1370.6 1138.4 1357.2C1144.1 1343.9 1149.8 1329.2 1155.5 1317.3C1161.2 1305.4 1166.9 1294.2 1172.6 1285.9C1178.3 1277.5 1184.0 1271.8 1189.7 1267.0C1195.4 1262.3 1201.2 1259.4 1206.9 1257.3C1212.6 1255.2 1218.3 1255.6 1224.0 1254.5C1229.7 1253.3 1235.4 1252.9 1241.1 1250.5C1246.8 1248.1 1252.5 1244.0 1258.2 1240.2C1264.0 1236.4 1270.1 1230.5 1275.4 1227.6C1280.6 1224.8 1285.4 1223.5 1289.6 1223.1C1293.9 1222.6 1297.3 1222.9 1301.1 1224.8C1304.9 1226.7 1308.7 1229.1 1312.5 1234.5C1316.3 1239.9 1320.1 1246.4 1323.9 1257.3C1327.7 1268.3 1331.5 1283.5 1335.3 1300.1C1339.1 1316.8 1343.4 1339.2 1346.7 1357.2C1350.1 1375.3 1352.7 1392.0 1355.3 1408.6C1357.9 1425.3 1361.0 1449.0 1362.1 1457.1" stroke="#ff0000"/>
<path d="M1091.5 1458.3C1093.6 1454.5 1099.2 1445.0 1104.1 1435.4C1109.1 1425.9 1115.5 1413.6 1121.2 1401.2C1126.9 1388.8 1132.6 1374.6 1138.4 1361.2C1144.1 1347.9 1149.8 1333.2 1155.5 1321.3C1161.2 1309.4 1166.9 1298.2 1172.6 1289.9C1178.3 1281.5 1184.0 1275.8 1189.7 1271.0C1195.4 1266.3 1201.2 1263.4 1206.9 1261.3C1212.6 1259.2 1218.3 1259.6 1224.0 1258.5C1229.7 1257.3 1235.4 1256.9 1241.1 1254.5C1246.8 1252.1 1252.5 1248.0 1258.2 1244.2C1264.0 1240.4 1270.1 1234.5 1275.4 1231.6C1280.6 1228.8 1285.4 1227.5 1289.6 1227.1C1293.9 1226.6 1297.3 1226.9 1301.1 1228.8C1304.9 1230.7 1308.7 1233.1 1312.5 1238.5C1316.3 1243.9 1320.1 1250.4 1323.9 1261.3C1327.7 1272.3 1331.5 1287.5 1335.3 1304.1C1339.1 1320.8 1343.4 1343.2 1346.7 1361.2C1350.1 1379.3 1352.7 1396.0 1355.3 1412.6C1357.9 1429.3 1361.0 1453.0 1362.1 1461.1" stroke="#0000ff"/>
<path d="M1091.5 1455.3C1093.6 1451.5 1099.2 1442.0 1104.1 1432.4C1109.1 1422.9 1115.5 1410.6 1121.2 1398.2C1126.9 1385.8 1132.6 1371.6 1138.4 1358.2C1144.1 1344.9 1149.8 1330.2 1155.5 1318.3C1161.2 1306.4 1166.9 1295.2 1172.6 1286.9C1178.3 1278.5 1184.0 1272.8 1189.7 1268.0C1195.4 1263.3 1201.2 1260.4 1206.9 1258.3C1212.6 1256.2 1218.3 1256.6 1224.0 1255.5C1229.7 1254.3 1235.4 1253.9 1241.1 1251.5C1246.8 1249.1 1252.5 1245.0 1258.2 1241.2C1264.0 1237.4 1270.1 1231.5 1275.4 1228.6C1280.6 1225.8 1285.4 1224.5 1289.6 1224.1C1293.9 1223.6 1297.3 1223.9 1301.1 1225.8C1304.9 1227.7 1308.7 1230.1 1312.5 1235.5C1316.3 1240.9 1320.1 1247.4 1323.9 1258.3C1327.7 1269.3 1331.5 1284.5 1335.3 1301.1C1339.1 1317.8 1343.4 1340.2 1346.7 1358.2C1350.1 1376.3 1352.7 1393.0 1355.3 1409.6C1357.9 1426.3 1361.0 1450.0 1362.1 1458.1" stroke="#ff00ff"/>
<path d="M1091.5 1456.3C1093.6 1452.5 1099.2 1443.0 1104.1 1433.4C1109.1 1423.9 1115.5 1411.6 1121.2 1399.2C1126.9 1386.8 1132.6 1372.6 1138.4 1359.2C1144.1 1345.9 1149.8 1331.2 1155.5 1319.3C1161.2 1307.4 1166.9 1296.2 1172.6 1287.9C1178.3 1279.5 1184.0 1273.8 1189.7 1269.0C1195.4 1264.3 1201.2 1261.4 1206.9 1259.3C1212.6 1257.2 1218.3 1257.6 1224.0 1256.5C1229.7 1255.3 1235.4 1254.9 1241.1 1252.5C1246.8 1250.1 1252.5 1246.0 1258.2 1242.2C1264.0 1238.4 1270.1 1232.5 1275.4 1229.6C1280.6 1226.8 1285.4 1225.5 1289.6 1225.1C1293.9 1224.6 1297.3 1224.9 1301.1 1226.8C1304.9 1228.7 1308.7 1231.1 1312.5 1236.5C1316.3 1241.9 1320.1 1248.4 1323.9 1259.3C1327.7 1270.3 1331.5 1285.5 1335.3 1302.1C1339.1 1318.8 1343.4 1341.2 1346.7 1359.2C1350.1 1377.3 1352.7 1394.0 1355.3 1410.6C1357.9 1427.3 1361.0 1451.0 1362.1 1459.1" stroke="#008000"/>
<path d="M1091.5 1459.3C1093.6 1455.5 1099.2 1446.0 1104.1 1436.4C1109.1 1426.9 1115.5 1414.6 1121.2 1402.2C1126.9 1389.8 1132.6 1375.6 1138.4 1362.2C1144.1 1348.9 1149.8 1334.2 1155.5 1322.3C1161.2 1310.4 1166.9 1299.2 1172.6 1290.9C1178.3 1282.5 1184.0 1276.8 1189.7 1272.0C1195.4 1267.3 1201.2 1264.4 1206.9 1262.3C1212.6 1260.2 1218.3 1260.6 1224.0 1259.5C1229.7 1258.3 1235.4 1257.9 1241.1 1255.5C1246.8 1253.1 1252.5 1249.0 1258.2 1245.2C1264.0 1241.4 1270.1 1235.5 1275.4 1232.6C1280.6 1229.8 1285.4 1228.5 1289.6 1228.1C1293.9 1227.6 1297.3 1227.9 1301.1 1229.8C1304.9 1231.7 1308.7 1234.1 1312.5 1239.5C1316.3 1244.9 1320.1 1251.4 1323.9 1262.3C1327.7 1273.3 1331.5 1288.5 1335.3 1305.1C1339.1 1321.8 1343.4 1344.2 1346.7 1362.2C1350.1 1380.3 1352.7 1397.0 1355.3 1413.6C1357.9 1430.3 1361.0 1454.0 1362.1 1462.1" stroke="#000080"/>
<path d="M1091.5 1452.3C1093.6 1448.5 1099.2 1439.0 1104.1 1429.4C1109.1 1419.9 1115.5 1407.6 1121.2 1395.2C1126.9 1382.8 1132.6 1368.6 1138.4 1355.2C1144.1 1341.9 1149.8 1327.2 1155.5 1315.3C1161.2 1303.4 1166.9 1292.2 1172.6 1283.9C1178.3 1275.5 1184.0 1269.8 1189.7 1265.0C1195.4 1260.3 1201.2 1257.4 1206.9 1255.3C1212.6 1253.2 1218.3 1253.6 1224.0 1252.5C1229.7 1251.3 1235.4 1250.9 1241.1 1248.5C1246.8 1246.1 1252.5 1242.0 1258.2 1238.2C1264.0 1234.4 1270.1 1228.5 1275.4 1225.6C1280.6 1222.8 1285.4 1221.5 1289.6 1221.1C1293.9 1220.6 1297.3 1220.9 1301.1 1222.8C1304.9 1224.7 1308.7 1227.1 1312.5 1232.5C1316.3 1237.9 1320.1 1244.4 1323.9 1255.3C1327.7 1266.3 1331.5 1281.5 1335.3 1298.1C1339.1 1314.8 1343.4 1337.2 1346.7 1355.2C1350.1 1373.3 1352.7 1390.0 1355.3 1406.6C1357.9 1423.3 1361.0 1447.0 1362.1 1455.1" stroke="#8000ff"/>
<path d="M1091.5 1451.3C1093.6 1447.5 1099.2 1438.0 1104.1 1428.4C1109.1 1418.9 1115.5 1406.6 1121.2 1394.2C1126.9 1381.8 1132.6 1367.6 1138.4 1354.2C1144.1 1340.9 1149.8 1326.2 1155.5 1314.3C1161.2 1302.4 1166.9 1291.2 1172.6 1282.9C1178.3 1274.5 1184.0 1268.8 1189.7 1264.0C1195.4 1259.3 1201.2 1256.4 1206.9 1254.3C1212.6 1252.2 1218.3 1252.6 1224.0 1251.5C1229.7 1250.3 1235.4 1249.9 1241.1 1247.5C1246.8 1245.1 1252.5 1241.0 1258.2 1237.2C1264.0 1233.4 1270.1 1227.5 1275.4 1224.6C1280.6 1221.8 1285.4 1220.5 1289.6 1220.1C1293.9 1219.6 1297.3 1219.9 1301.1 1221.8C1304.9 1223.7 1308.7 1226.1 1312.5 1231.5C1316.3 1236.9 1320.1 1243.4 1323.9 1254.3C1327.7 1265.3 1331.5 1280.5 1335.3 1297.1C1339.1 1313.8 1343.4 1336.2 1346.7 1354.2C1350.1 1372.3 1352.7 1389.0 1355.3 1405.6C1357.9 1422.3 1361.0 1446.0 1362.1 1454.1" stroke="#800080"/>
<path d="M1091.5 1462.3C1093.6 1458.5 1099.2 1449.0 1104.1 1439.4C1109.1 1429.9 1115.5 1417.6 1121.2 1405.2C1126.9 1392.8 1132.6 1378.6 1138.4 1365.2C1144.1 1351.9 1149.8 1337.2 1155.5 1325.3C1161.2 1313.4 1166.9 1302.2 1172.6 1293.9C1178.3 1285.5 1184.0 1279.8 1189.7 1275.0C1195.4 1270.3 1201.2 1267.4 1206.9 1265.3C1212.6 1263.2 1218.3 1263.6 1224.0 1262.5C1229.7 1261.3 1235.4 1260.9 1241.1 1258.5C1246.8 1256.1 1252.5 1252.0 1258.2 1248.2C1264.0 1244.4 1270.1 1238.5 1275.4 1235.6C1280.6 1232.8 1285.4 1231.5 1289.6 1231.1C1293.9 1230.6 1297.3 1230.9 1301.1 1232.8C1304.9 1234.7 1308.7 1237.1 1312.5 1242.5C1316.3 1247.9 1320.1 1254.4 1323.9 1265.3C1327.7 1276.3 1331.5 1291.5 1335.3 1308.1C1339.1 1324.8 1343.4 1347.2 1346.7 1365.2C1350.1 1383.3 1352.7 1400.0 1355.3 1416.6C1357.9 1433.3 1361.0 1457.0 1362.1 1465.1" stroke="#800000"/>
</g>
<rect x="1641" y="1151.5" width="141" height="326.5" fill="#fff" stroke="#c2c2c2" stroke-width="3.2" rx="1.5"/>
<path d="M1654 1180.0H1675.0M1691.0 1180.0H1712" stroke="#000000" stroke-width="3.6" opacity="0.2" fill="none"/>
<rect x="1679.2" y="1176.7" width="7.6" height="6.6" rx="1.2" fill="#000000" opacity="0.72"/>
<text x="1719.5" y="1189.0" font-size="26" fill="#222" textLength="55.5" lengthAdjust="spacingAndGlyphs">35<tspan font-size="16" dy="-8" font-weight="normal">°</tspan><tspan dy="8">C</tspan></text>
<path d="M1654 1215.2H1675.0M1691.0 1215.2H1712" stroke="#ff0000" stroke-width="3.6" opacity="0.2" fill="none"/>
<rect x="1679.2" y="1211.9" width="7.6" height="6.6" rx="1.2" fill="#ff0000" opacity="0.72"/>
<text x="1719.5" y="1224.2" font-size="26" fill="#222" textLength="55.5" lengthAdjust="spacingAndGlyphs">40<tspan font-size="16" dy="-8" font-weight="normal">°</tspan><tspan dy="8">C</tspan></text>
<path d="M1654 1250.4H1675.0M1691.0 1250.4H1712" stroke="#0000ff" stroke-width="3.6" opacity="0.2" fill="none"/>
<rect x="1679.2" y="1247.1" width="7.6" height="6.6" rx="1.2" fill="#0000ff" opacity="0.72"/>
<text x="1719.5" y="1259.4" font-size="26" fill="#222" textLength="55.5" lengthAdjust="spacingAndGlyphs">45<tspan font-size="16" dy="-8" font-weight="normal">°</tspan><tspan dy="8">C</tspan></text>
<path d="M1654 1285.6H1675.0M1691.0 1285.6H1712" stroke="#ff00ff" stroke-width="3.6" opacity="0.2" fill="none"/>
<rect x="1679.2" y="1282.3" width="7.6" height="6.6" rx="1.2" fill="#ff00ff" opacity="0.72"/>
<text x="1719.5" y="1294.6" font-size="26" fill="#222" textLength="55.5" lengthAdjust="spacingAndGlyphs">50<tspan font-size="16" dy="-8" font-weight="normal">°</tspan><tspan dy="8">C</tspan></text>
<path d="M1654 1320.8H1675.0M1691.0 1320.8H1712" stroke="#008000" stroke-width="3.6" opacity="0.2" fill="none"/>
<rect x="1679.2" y="1317.5" width="7.6" height="6.6" rx="1.2" fill="#008000" opacity="0.72"/>
<text x="1719.5" y="1329.8" font-size="26" fill="#222" textLength="55.5" lengthAdjust="spacingAndGlyphs">55<tspan font-size="16" dy="-8" font-weight="normal">°</tspan><tspan dy="8">C</tspan></text>
<path d="M1654 1356.0H1675.0M1691.0 1356.0H1712" stroke="#000080" stroke-width="3.6" opacity="0.2" fill="none"/>
<rect x="1679.2" y="1352.7" width="7.6" height="6.6" rx="1.2" fill="#000080" opacity="0.72"/>
<text x="1719.5" y="1365.0" font-size="26" fill="#222" textLength="55.5" lengthAdjust="spacingAndGlyphs">60<tspan font-size="16" dy="-8" font-weight="normal">°</tspan><tspan dy="8">C</tspan></text>
<path d="M1654 1391.2H1675.0M1691.0 1391.2H1712" stroke="#8000ff" stroke-width="3.6" opacity="0.2" fill="none"/>
<rect x="1679.2" y="1387.9" width="7.6" height="6.6" rx="1.2" fill="#8000ff" opacity="0.72"/>
<text x="1719.5" y="1400.2" font-size="26" fill="#222" textLength="55.5" lengthAdjust="spacingAndGlyphs">65<tspan font-size="16" dy="-8" font-weight="normal">°</tspan><tspan dy="8">C</tspan></text>
<path d="M1654 1426.4H1675.0M1691.0 1426.4H1712" stroke="#800080" stroke-width="3.6" opacity="0.2" fill="none"/>
<rect x="1679.2" y="1423.1" width="7.6" height="6.6" rx="1.2" fill="#800080" opacity="0.72"/>
<text x="1719.5" y="1435.4" font-size="26" fill="#222" textLength="55.5" lengthAdjust="spacingAndGlyphs">70<tspan font-size="16" dy="-8" font-weight="normal">°</tspan><tspan dy="8">C</tspan></text>
<path d="M1654 1461.6H1675.0M1691.0 1461.6H1712" stroke="#800000" stroke-width="3.6" opacity="0.2" fill="none"/>
<rect x="1679.2" y="1458.3" width="7.6" height="6.6" rx="1.2" fill="#800000" opacity="0.72"/>
<text x="1719.5" y="1470.6" font-size="26" fill="#222" textLength="55.5" lengthAdjust="spacingAndGlyphs">75<tspan font-size="16" dy="-8" font-weight="normal">°</tspan><tspan dy="8">C</tspan></text>
</g>
<g id="chartD">
<rect x="149" y="1911.5" width="743" height="628.0" fill="#fff" stroke="#4c4c4c" stroke-width="3.6"/>
<text x="222.7" y="2580.0" font-size="31" text-anchor="middle" fill="#1a1a1a" textLength="44.5" lengthAdjust="spacingAndGlyphs">200</text>
<text x="371.4" y="2580.0" font-size="31" text-anchor="middle" fill="#1a1a1a" textLength="44.5" lengthAdjust="spacingAndGlyphs">400</text>
<text x="520.1" y="2580.0" font-size="31" text-anchor="middle" fill="#1a1a1a" textLength="44.5" lengthAdjust="spacingAndGlyphs">600</text>
<text x="668.8" y="2580.0" font-size="31" text-anchor="middle" fill="#1a1a1a" textLength="44.5" lengthAdjust="spacingAndGlyphs">800</text>
<text x="817.5" y="2580.0" font-size="31" text-anchor="middle" fill="#1a1a1a" textLength="60.0" lengthAdjust="spacingAndGlyphs">1000</text>
<text x="130.0" y="2494.6" font-size="30.5" text-anchor="end" fill="#1a1a1a" textLength="54.0" lengthAdjust="spacingAndGlyphs">0.00</text>
<text x="130.0" y="2390.4" font-size="30.5" text-anchor="end" fill="#1a1a1a" textLength="54.0" lengthAdjust="spacingAndGlyphs">0.05</text>
<text x="130.0" y="2286.2" font-size="30.5" text-anchor="end" fill="#1a1a1a" textLength="54.0" lengthAdjust="spacingAndGlyphs">0.10</text>
<text x="130.0" y="2182.0" font-size="30.5" text-anchor="end" fill="#1a1a1a" textLength="54.0" lengthAdjust="spacingAndGlyphs">0.15</text>
<text x="130.0" y="2077.8" font-size="30.5" text-anchor="end" fill="#1a1a1a" textLength="54.0" lengthAdjust="spacingAndGlyphs">0.20</text>
<text x="130.0" y="1973.6" font-size="30.5" text-anchor="end" fill="#1a1a1a" textLength="54.0" lengthAdjust="spacingAndGlyphs">0.25</text>
<path d="M222.7 1911.5v11M222.7 2539.5v11M297.0 1911.5v6M297.0 2539.5v6M371.4 1911.5v11M371.4 2539.5v11M445.8 1911.5v6M445.8 2539.5v6M520.1 1911.5v11M520.1 2539.5v11M594.5 1911.5v6M594.5 2539.5v6M668.8 1911.5v11M668.8 2539.5v11M743.1 1911.5v6M743.1 2539.5v6M817.5 1911.5v11M817.5 2539.5v11M149 2485.0h-11M892 2485.0h-11M149 2432.9h-6M892 2432.9h-6M149 2380.8h-11M892 2380.8h-11M149 2328.7h-6M892 2328.7h-6M149 2276.6h-11M892 2276.6h-11M149 2224.5h-6M892 2224.5h-6M149 2172.4h-11M892 2172.4h-11M149 2120.3h-6M892 2120.3h-6M149 2068.2h-11M892 2068.2h-11M149 2016.1h-6M892 2016.1h-6M149 1964.0h-11M892 1964.0h-11M149 1911.9h-6M892 1911.9h-6" stroke="#4c4c4c" stroke-width="2.6" fill="none"/>
<text x="399.5" y="2635.0" font-size="32" fill="#1a1a1a" textLength="241.0" lengthAdjust="spacingAndGlyphs">Wavelength (nm)</text>
<text x="56" y="2448" font-size="34" fill="#1a1a1a" textLength="402.5" lengthAdjust="spacingAndGlyphs" transform="rotate(-90 56 2448)">Normalized Intensity (a. u.)</text>
<text x="43.0" y="1890.0" font-size="59" textLength="42.5" lengthAdjust="spacingAndGlyphs">D</text>
<clipPath id="cpD"><rect x="149" y="1911.5" width="743" height="628.0"/></clipPath>
<g clip-path="url(#cpD)" fill="none" stroke-width="4.8" stroke-linejoin="round" stroke-linecap="round">
<path d="M222.6 2482.3C226.5 2482.5 238.8 2484.6 245.5 2484.0C252.1 2483.3 257.9 2479.8 262.6 2478.3C267.4 2476.7 268.3 2475.4 274.0 2474.8C279.7 2474.3 289.3 2475.0 296.9 2474.8C304.5 2474.6 312.1 2474.4 319.7 2473.7C327.3 2473.0 334.9 2472.0 342.5 2470.8C350.1 2469.7 357.8 2468.7 365.4 2466.8C373.0 2464.9 380.6 2462.8 388.2 2459.4C395.8 2456.0 404.4 2451.5 411.0 2446.3C417.7 2441.1 423.3 2433.7 428.2 2428.0C433.0 2422.3 435.6 2419.6 440.0 2412.1C444.4 2404.7 449.6 2392.9 454.4 2383.3C459.2 2373.7 465.3 2362.6 468.9 2354.4C472.5 2346.2 473.7 2342.4 476.1 2334.2C478.5 2326.0 480.9 2315.9 483.3 2305.4C485.7 2294.8 488.1 2282.3 490.5 2270.7C492.9 2259.2 495.3 2247.6 497.7 2236.1C500.1 2224.6 502.5 2212.5 504.9 2201.5C507.3 2190.4 509.7 2178.9 512.1 2169.7C514.6 2160.6 517.0 2153.9 519.4 2146.6C521.8 2139.4 524.2 2133.4 526.6 2126.4C529.0 2119.5 531.4 2112.0 533.8 2104.8C536.2 2097.6 538.6 2090.1 541.0 2083.1C543.4 2076.2 545.8 2069.2 548.2 2062.9C550.6 2056.7 552.8 2050.9 555.4 2045.6C558.1 2040.3 561.2 2035.5 564.1 2031.2C567.0 2026.9 569.9 2023.7 572.7 2019.7C575.6 2015.6 579.0 2010.3 581.4 2006.7C583.8 2003.1 585.6 1999.9 587.2 1998.0C588.7 1996.1 589.4 1994.9 590.6 1995.1C591.8 1995.4 593.0 1995.4 594.4 1999.5C595.7 2003.5 597.0 2009.6 598.7 2019.7C600.4 2029.8 602.6 2045.6 604.5 2060.1C606.4 2074.5 608.3 2091.8 610.3 2106.2C612.2 2120.7 614.4 2137.0 616.0 2146.6C617.7 2156.3 619.3 2160.6 620.4 2164.0C621.4 2167.3 621.7 2166.8 622.4 2166.8C623.1 2166.8 623.6 2168.3 624.7 2164.0C625.8 2159.6 627.3 2152.4 629.0 2140.9C630.7 2129.3 632.9 2109.1 634.8 2094.7C636.7 2080.3 638.9 2063.7 640.6 2054.3C642.2 2044.9 643.8 2041.4 644.9 2038.4C646.0 2035.4 646.4 2036.4 647.2 2036.4C648.0 2036.4 648.5 2035.4 649.5 2038.4C650.6 2041.4 651.9 2045.9 653.6 2054.3C655.2 2062.7 657.4 2077.9 659.3 2088.9C661.2 2100.0 663.2 2111.5 665.1 2120.7C667.0 2129.8 668.9 2137.5 670.9 2143.8C672.8 2150.0 674.2 2153.9 676.6 2158.2C679.0 2162.5 682.6 2166.4 685.3 2169.7C687.9 2173.1 690.6 2175.0 692.5 2178.4C694.4 2181.7 695.4 2184.2 696.8 2189.9C698.3 2195.7 699.7 2203.4 701.2 2213.0C702.6 2222.6 704.1 2234.7 705.5 2247.6C706.9 2260.6 708.4 2276.0 709.8 2290.9C711.3 2305.8 712.8 2322.3 714.2 2337.1C715.5 2351.9 716.6 2368.1 717.9 2380.0C719.1 2391.9 720.2 2397.9 721.6 2408.2C723.0 2418.6 724.8 2432.4 726.3 2442.1C727.9 2451.8 729.5 2460.1 731.0 2466.6C732.6 2473.0 734.2 2477.4 735.7 2480.7C737.3 2484.0 739.2 2485.2 740.5 2486.3C741.7 2487.4 742.2 2487.4 743.3 2487.3C744.4 2487.1 745.6 2487.6 747.0 2485.4C748.5 2483.2 750.2 2479.1 751.7 2474.1C753.3 2469.1 754.9 2461.9 756.4 2455.3C758.0 2448.7 759.4 2441.8 761.2 2434.6C762.9 2427.4 765.1 2418.1 766.8 2412.0C768.5 2405.9 770.0 2401.0 771.5 2397.9C773.0 2394.7 774.4 2393.2 775.8 2393.2C777.2 2393.2 778.5 2394.7 780.0 2397.9C781.4 2401.0 783.1 2406.2 784.7 2412.0C786.2 2417.8 787.8 2426.1 789.4 2432.7C791.0 2439.3 792.5 2446.0 794.1 2451.5C795.7 2457.0 797.1 2461.6 798.8 2465.6C800.5 2469.7 802.6 2473.3 804.4 2476.0C806.3 2478.7 808.0 2480.4 810.1 2481.6C812.1 2482.9 814.5 2483.5 816.7 2483.5C818.9 2483.5 821.2 2482.7 823.3 2481.6C825.3 2480.5 826.9 2479.1 828.9 2476.9C830.9 2474.7 834.4 2469.9 835.5 2468.5" stroke="#000000"/>
<path d="M222.6 2482.3C226.5 2482.6 238.8 2484.6 245.5 2484.0C252.1 2483.3 257.9 2479.9 262.6 2478.4C267.4 2476.9 268.3 2475.5 274.0 2475.0C279.7 2474.4 289.3 2475.2 296.9 2475.0C304.5 2474.8 312.1 2474.5 319.7 2473.9C327.3 2473.2 334.9 2472.2 342.5 2471.0C350.1 2469.9 357.8 2469.0 365.4 2467.1C373.0 2465.2 380.6 2463.2 388.2 2459.8C395.8 2456.4 404.4 2452.0 411.0 2446.9C417.7 2441.7 423.3 2434.5 428.2 2428.9C433.0 2423.3 435.6 2420.6 440.0 2413.2C444.4 2405.9 449.6 2394.3 454.4 2384.8C459.2 2375.3 465.3 2364.4 468.9 2356.4C472.5 2348.3 473.7 2344.5 476.1 2336.5C478.5 2328.4 480.9 2318.5 483.3 2308.1C485.7 2297.6 488.1 2285.3 490.5 2273.9C492.9 2262.6 495.3 2251.2 497.7 2239.8C500.1 2228.5 502.5 2216.6 504.9 2205.7C507.3 2194.8 509.7 2183.5 512.1 2174.5C514.6 2165.5 517.0 2158.8 519.4 2151.7C521.8 2144.6 524.2 2138.7 526.6 2131.8C529.0 2124.9 531.4 2117.6 533.8 2110.5C536.2 2103.4 538.6 2096.0 541.0 2089.2C543.4 2082.3 545.8 2075.4 548.2 2069.3C550.6 2063.1 552.8 2057.4 555.4 2052.2C558.1 2047.0 561.2 2042.3 564.1 2038.0C567.0 2033.7 569.9 2030.7 572.7 2026.6C575.6 2022.6 579.0 2017.4 581.4 2013.8C583.8 2010.3 585.6 2007.2 587.2 2005.3C588.7 2003.4 589.4 2002.2 590.6 2002.5C591.8 2002.7 593.0 2002.7 594.4 2006.7C595.7 2010.8 597.0 2016.7 598.7 2026.6C600.4 2036.6 602.6 2052.2 604.5 2066.4C606.4 2080.6 608.3 2097.7 610.3 2111.9C612.2 2126.1 614.4 2142.2 616.0 2151.7C617.7 2161.2 619.3 2165.5 620.4 2168.8C621.4 2172.1 621.7 2171.6 622.4 2171.6C623.1 2171.6 623.6 2173.0 624.7 2168.8C625.8 2164.5 627.3 2157.4 629.0 2146.0C630.7 2134.7 632.9 2114.8 634.8 2100.5C636.7 2086.3 638.9 2070.0 640.6 2060.8C642.2 2051.5 643.8 2048.1 644.9 2045.1C646.0 2042.2 646.4 2043.1 647.2 2043.1C648.0 2043.1 648.5 2042.2 649.5 2045.1C650.6 2048.1 651.9 2052.5 653.6 2060.8C655.2 2069.0 657.4 2084.0 659.3 2094.9C661.2 2105.8 663.2 2117.1 665.1 2126.1C667.0 2135.1 668.9 2142.7 670.9 2148.9C672.8 2155.0 674.2 2158.8 676.6 2163.1C679.0 2167.3 682.6 2171.1 685.3 2174.5C687.9 2177.8 690.6 2179.7 692.5 2183.0C694.4 2186.3 695.4 2188.7 696.8 2194.4C698.3 2200.0 699.7 2207.6 701.2 2217.1C702.6 2226.6 704.1 2238.4 705.5 2251.2C706.9 2264.0 708.4 2279.2 709.8 2293.8C711.3 2308.5 712.8 2324.7 714.2 2339.3C715.5 2353.9 716.6 2369.9 717.9 2381.6C719.1 2393.3 720.2 2399.2 721.6 2409.4C723.0 2419.6 724.8 2433.2 726.3 2442.8C727.9 2452.3 729.5 2460.5 731.0 2466.9C732.6 2473.2 734.2 2477.5 735.7 2480.8C737.3 2484.0 739.2 2485.2 740.5 2486.3C741.7 2487.4 742.2 2487.4 743.3 2487.2C744.4 2487.1 745.6 2487.6 747.0 2485.4C748.5 2483.2 750.2 2479.2 751.7 2474.3C753.3 2469.3 754.9 2462.2 756.4 2455.7C758.0 2449.2 759.4 2442.4 761.2 2435.3C762.9 2428.2 765.1 2419.1 766.8 2413.1C768.5 2407.1 770.0 2402.3 771.5 2399.2C773.0 2396.1 774.4 2394.6 775.8 2394.6C777.2 2394.6 778.5 2396.1 780.0 2399.2C781.4 2402.3 783.1 2407.4 784.7 2413.1C786.2 2418.8 787.8 2427.0 789.4 2433.5C791.0 2440.0 792.5 2446.6 794.1 2452.0C795.7 2457.4 797.1 2461.9 798.8 2465.9C800.5 2469.9 802.6 2473.5 804.4 2476.1C806.3 2478.7 808.0 2480.4 810.1 2481.7C812.1 2482.9 814.5 2483.5 816.7 2483.5C818.9 2483.5 821.2 2482.8 823.3 2481.7C825.3 2480.6 826.9 2479.2 828.9 2477.0C830.9 2474.9 834.4 2470.1 835.5 2468.7" stroke="#ff0000"/>
<path d="M222.6 2482.3C226.5 2482.6 238.8 2484.6 245.5 2484.0C252.1 2483.4 257.9 2480.0 262.6 2478.5C267.4 2477.0 268.3 2475.7 274.0 2475.2C279.7 2474.6 289.3 2475.4 296.9 2475.2C304.5 2475.0 312.1 2474.7 319.7 2474.1C327.3 2473.4 334.9 2472.4 342.5 2471.3C350.1 2470.2 357.8 2469.3 365.4 2467.5C373.0 2465.6 380.6 2463.6 388.2 2460.3C395.8 2457.0 404.4 2452.7 411.0 2447.6C417.7 2442.6 423.3 2435.5 428.2 2430.0C433.0 2424.5 435.6 2421.9 440.0 2414.7C444.4 2407.5 449.6 2396.1 454.4 2386.8C459.2 2377.6 465.3 2366.9 468.9 2359.0C472.5 2351.1 473.7 2347.4 476.1 2339.5C478.5 2331.6 480.9 2321.9 483.3 2311.6C485.7 2301.4 488.1 2289.4 490.5 2278.2C492.9 2267.1 495.3 2255.9 497.7 2244.8C500.1 2233.7 502.5 2222.1 504.9 2211.4C507.3 2200.7 509.7 2189.6 512.1 2180.8C514.6 2171.9 517.0 2165.4 519.4 2158.5C521.8 2151.5 524.2 2145.7 526.6 2139.0C529.0 2132.3 531.4 2125.1 533.8 2118.1C536.2 2111.1 538.6 2103.9 541.0 2097.2C543.4 2090.5 545.8 2083.8 548.2 2077.7C550.6 2071.7 552.8 2066.1 555.4 2061.0C558.1 2055.9 561.2 2051.3 564.1 2047.1C567.0 2042.9 569.9 2039.9 572.7 2035.9C575.6 2032.0 579.0 2026.9 581.4 2023.4C583.8 2019.9 585.6 2016.9 587.2 2015.1C588.7 2013.2 589.4 2012.0 590.6 2012.3C591.8 2012.5 593.0 2012.5 594.4 2016.5C595.7 2020.4 597.0 2026.2 598.7 2035.9C600.4 2045.7 602.6 2061.0 604.5 2074.9C606.4 2088.9 608.3 2105.6 610.3 2119.5C612.2 2133.4 614.4 2149.2 616.0 2158.5C617.7 2167.8 619.3 2171.9 620.4 2175.2C621.4 2178.4 621.7 2178.0 622.4 2178.0C623.1 2178.0 623.6 2179.4 624.7 2175.2C625.8 2171.0 627.3 2164.0 629.0 2152.9C630.7 2141.8 632.9 2122.3 634.8 2108.4C636.7 2094.4 638.9 2078.4 640.6 2069.4C642.2 2060.3 643.8 2056.9 644.9 2054.0C646.0 2051.2 646.4 2052.1 647.2 2052.1C648.0 2052.1 648.5 2051.2 649.5 2054.0C650.6 2056.9 651.9 2061.2 653.6 2069.4C655.2 2077.5 657.4 2092.1 659.3 2102.8C661.2 2113.5 663.2 2124.6 665.1 2133.4C667.0 2142.2 668.9 2149.7 670.9 2155.7C672.8 2161.7 674.2 2165.4 676.6 2169.6C679.0 2173.8 682.6 2177.5 685.3 2180.8C687.9 2184.0 690.6 2185.9 692.5 2189.1C694.4 2192.4 695.4 2194.7 696.8 2200.3C698.3 2205.8 699.7 2213.2 701.2 2222.5C702.6 2231.8 704.1 2243.4 705.5 2255.9C706.9 2268.5 708.4 2283.3 709.8 2297.7C711.3 2312.1 712.8 2328.0 714.2 2342.3C715.5 2356.6 716.6 2372.2 717.9 2383.7C719.1 2395.1 720.2 2400.9 721.6 2410.9C723.0 2420.9 724.8 2434.2 726.3 2443.6C727.9 2453.0 729.5 2461.0 731.0 2467.2C732.6 2473.4 734.2 2477.7 735.7 2480.8C737.3 2484.0 739.2 2485.2 740.5 2486.3C741.7 2487.3 742.2 2487.3 743.3 2487.2C744.4 2487.0 745.6 2487.5 747.0 2485.4C748.5 2483.3 750.2 2479.3 751.7 2474.5C753.3 2469.6 754.9 2462.7 756.4 2456.3C758.0 2450.0 759.4 2443.3 761.2 2436.3C762.9 2429.4 765.1 2420.5 766.8 2414.6C768.5 2408.6 770.0 2404.0 771.5 2400.9C773.0 2397.9 774.4 2396.4 775.8 2396.4C777.2 2396.4 778.5 2397.9 780.0 2400.9C781.4 2404.0 783.1 2409.0 784.7 2414.6C786.2 2420.2 787.8 2428.2 789.4 2434.5C791.0 2440.9 792.5 2447.4 794.1 2452.7C795.7 2458.0 797.1 2462.4 798.8 2466.3C800.5 2470.2 802.6 2473.7 804.4 2476.3C806.3 2478.9 808.0 2480.5 810.1 2481.7C812.1 2483.0 814.5 2483.6 816.7 2483.6C818.9 2483.6 821.2 2482.8 823.3 2481.7C825.3 2480.7 826.9 2479.3 828.9 2477.2C830.9 2475.1 834.4 2470.4 835.5 2469.0" stroke="#0000ff"/>
<path d="M222.6 2482.4C226.5 2482.6 238.8 2484.6 245.5 2484.0C252.1 2483.4 257.9 2480.0 262.6 2478.6C267.4 2477.1 268.3 2475.8 274.0 2475.3C279.7 2474.7 289.3 2475.5 296.9 2475.3C304.5 2475.1 312.1 2474.8 319.7 2474.2C327.3 2473.6 334.9 2472.6 342.5 2471.5C350.1 2470.4 357.8 2469.5 365.4 2467.7C373.0 2465.8 380.6 2463.8 388.2 2460.6C395.8 2457.3 404.4 2453.0 411.0 2448.0C417.7 2443.0 423.3 2436.0 428.2 2430.6C433.0 2425.1 435.6 2422.5 440.0 2415.4C444.4 2408.3 449.6 2397.0 454.4 2387.9C459.2 2378.7 465.3 2368.1 468.9 2360.3C472.5 2352.5 473.7 2348.8 476.1 2341.0C478.5 2333.2 480.9 2323.5 483.3 2313.4C485.7 2303.3 488.1 2291.4 490.5 2280.4C492.9 2269.3 495.3 2258.3 497.7 2247.3C500.1 2236.3 502.5 2224.8 504.9 2214.2C507.3 2203.7 509.7 2192.6 512.1 2183.9C514.6 2175.2 517.0 2168.8 519.4 2161.9C521.8 2155.0 524.2 2149.2 526.6 2142.6C529.0 2135.9 531.4 2128.8 533.8 2121.9C536.2 2115.0 538.6 2107.9 541.0 2101.2C543.4 2094.6 545.8 2087.9 548.2 2081.9C550.6 2076.0 552.8 2070.5 555.4 2065.4C558.1 2060.4 561.2 2055.8 564.1 2051.6C567.0 2047.5 569.9 2044.5 572.7 2040.6C575.6 2036.7 579.0 2031.6 581.4 2028.2C583.8 2024.8 585.6 2021.8 587.2 2019.9C588.7 2018.1 589.4 2016.9 590.6 2017.2C591.8 2017.4 593.0 2017.4 594.4 2021.3C595.7 2025.2 597.0 2031.0 598.7 2040.6C600.4 2050.2 602.6 2065.4 604.5 2079.2C606.4 2093.0 608.3 2109.5 610.3 2123.3C612.2 2137.1 614.4 2152.7 616.0 2161.9C617.7 2171.1 619.3 2175.2 620.4 2178.4C621.4 2181.6 621.7 2181.2 622.4 2181.2C623.1 2181.2 623.6 2182.5 624.7 2178.4C625.8 2174.3 627.3 2167.4 629.0 2156.4C630.7 2145.3 632.9 2126.0 634.8 2112.3C636.7 2098.5 638.9 2082.6 640.6 2073.7C642.2 2064.7 643.8 2061.4 644.9 2058.5C646.0 2055.7 646.4 2056.6 647.2 2056.6C648.0 2056.6 648.5 2055.7 649.5 2058.5C650.6 2061.4 651.9 2065.6 653.6 2073.7C655.2 2081.7 657.4 2096.2 659.3 2106.7C661.2 2117.3 663.2 2128.3 665.1 2137.1C667.0 2145.8 668.9 2153.1 670.9 2159.1C672.8 2165.1 674.2 2168.8 676.6 2172.9C679.0 2177.0 682.6 2180.7 685.3 2183.9C687.9 2187.1 690.6 2189.0 692.5 2192.2C694.4 2195.4 695.4 2197.7 696.8 2203.2C698.3 2208.7 699.7 2216.1 701.2 2225.3C702.6 2234.4 704.1 2245.9 705.5 2258.3C706.9 2270.7 708.4 2285.4 709.8 2299.7C711.3 2313.9 712.8 2329.6 714.2 2343.8C715.5 2357.9 716.6 2373.4 717.9 2384.7C719.1 2396.0 720.2 2401.8 721.6 2411.7C723.0 2421.6 724.8 2434.8 726.3 2444.0C727.9 2453.3 729.5 2461.3 731.0 2467.4C732.6 2473.5 734.2 2477.7 735.7 2480.9C737.3 2484.0 739.2 2485.2 740.5 2486.3C741.7 2487.3 742.2 2487.3 743.3 2487.2C744.4 2487.0 745.6 2487.5 747.0 2485.4C748.5 2483.3 750.2 2479.4 751.7 2474.6C753.3 2469.8 754.9 2462.9 756.4 2456.6C758.0 2450.3 759.4 2443.7 761.2 2436.8C762.9 2430.0 765.1 2421.1 766.8 2415.3C768.5 2409.4 770.0 2404.8 771.5 2401.8C773.0 2398.8 774.4 2397.3 775.8 2397.3C777.2 2397.3 778.5 2398.8 780.0 2401.8C781.4 2404.8 783.1 2409.7 784.7 2415.3C786.2 2420.8 787.8 2428.8 789.4 2435.1C791.0 2441.3 792.5 2447.8 794.1 2453.0C795.7 2458.3 797.1 2462.6 798.8 2466.5C800.5 2470.4 802.6 2473.8 804.4 2476.4C806.3 2478.9 808.0 2480.6 810.1 2481.8C812.1 2483.0 814.5 2483.6 816.7 2483.6C818.9 2483.6 821.2 2482.8 823.3 2481.8C825.3 2480.7 826.9 2479.4 828.9 2477.3C830.9 2475.2 834.4 2470.5 835.5 2469.2" stroke="#ff00ff"/>
<path d="M222.6 2482.4C226.5 2482.6 238.8 2484.6 245.5 2484.0C252.1 2483.4 257.9 2480.0 262.6 2478.5C267.4 2477.0 268.3 2475.8 274.0 2475.2C279.7 2474.7 289.3 2475.4 296.9 2475.2C304.5 2475.0 312.1 2474.8 319.7 2474.1C327.3 2473.5 334.9 2472.5 342.5 2471.4C350.1 2470.3 357.8 2469.4 365.4 2467.5C373.0 2465.7 380.6 2463.7 388.2 2460.4C395.8 2457.1 404.4 2452.8 411.0 2447.8C417.7 2442.7 423.3 2435.7 428.2 2430.2C433.0 2424.7 435.6 2422.1 440.0 2414.9C444.4 2407.7 449.6 2396.4 454.4 2387.1C459.2 2377.9 465.3 2367.2 468.9 2359.4C472.5 2351.5 473.7 2347.8 476.1 2339.9C478.5 2332.1 480.9 2322.4 483.3 2312.2C485.7 2302.0 488.1 2290.0 490.5 2278.9C492.9 2267.8 495.3 2256.7 497.7 2245.6C500.1 2234.5 502.5 2222.9 504.9 2212.2C507.3 2201.6 509.7 2190.5 512.1 2181.7C514.6 2172.9 517.0 2166.4 519.4 2159.5C521.8 2152.6 524.2 2146.8 526.6 2140.1C529.0 2133.4 531.4 2126.2 533.8 2119.2C536.2 2112.3 538.6 2105.1 541.0 2098.4C543.4 2091.7 545.8 2085.0 548.2 2079.0C550.6 2073.0 552.8 2067.4 555.4 2062.3C558.1 2057.2 561.2 2052.6 564.1 2048.4C567.0 2044.3 569.9 2041.3 572.7 2037.3C575.6 2033.4 579.0 2028.3 581.4 2024.9C583.8 2021.4 585.6 2018.4 587.2 2016.5C588.7 2014.7 589.4 2013.5 590.6 2013.7C591.8 2014.0 593.0 2014.0 594.4 2017.9C595.7 2021.8 597.0 2027.6 598.7 2037.3C600.4 2047.1 602.6 2062.3 604.5 2076.2C606.4 2090.1 608.3 2106.7 610.3 2120.6C612.2 2134.5 614.4 2150.2 616.0 2159.5C617.7 2168.7 619.3 2172.9 620.4 2176.2C621.4 2179.4 621.7 2178.9 622.4 2178.9C623.1 2178.9 623.6 2180.3 624.7 2176.2C625.8 2172.0 627.3 2165.0 629.0 2153.9C630.7 2142.8 632.9 2123.4 634.8 2109.5C636.7 2095.6 638.9 2079.7 640.6 2070.7C642.2 2061.6 643.8 2058.3 644.9 2055.4C646.0 2052.5 646.4 2053.4 647.2 2053.4C648.0 2053.4 648.5 2052.5 649.5 2055.4C650.6 2058.3 651.9 2062.6 653.6 2070.7C655.2 2078.8 657.4 2093.3 659.3 2104.0C661.2 2114.6 663.2 2125.7 665.1 2134.5C667.0 2143.3 668.9 2150.7 670.9 2156.7C672.8 2162.7 674.2 2166.4 676.6 2170.6C679.0 2174.8 682.6 2178.5 685.3 2181.7C687.9 2184.9 690.6 2186.8 692.5 2190.0C694.4 2193.3 695.4 2195.6 696.8 2201.1C698.3 2206.7 699.7 2214.1 701.2 2223.3C702.6 2232.6 704.1 2244.2 705.5 2256.7C706.9 2269.2 708.4 2284.0 709.8 2298.3C711.3 2312.6 712.8 2328.4 714.2 2342.7C715.5 2357.0 716.6 2372.6 717.9 2384.0C719.1 2395.4 720.2 2401.2 721.6 2411.1C723.0 2421.1 724.8 2434.4 726.3 2443.7C727.9 2453.1 729.5 2461.1 731.0 2467.3C732.6 2473.5 734.2 2477.7 735.7 2480.9C737.3 2484.0 739.2 2485.2 740.5 2486.3C741.7 2487.3 742.2 2487.3 743.3 2487.2C744.4 2487.0 745.6 2487.5 747.0 2485.4C748.5 2483.3 750.2 2479.3 751.7 2474.5C753.3 2469.7 754.9 2462.7 756.4 2456.4C758.0 2450.1 759.4 2443.4 761.2 2436.5C762.9 2429.6 765.1 2420.7 766.8 2414.8C768.5 2408.9 770.0 2404.2 771.5 2401.2C773.0 2398.2 774.4 2396.7 775.8 2396.7C777.2 2396.7 778.5 2398.2 780.0 2401.2C781.4 2404.2 783.1 2409.2 784.7 2414.8C786.2 2420.4 787.8 2428.3 789.4 2434.7C791.0 2441.0 792.5 2447.5 794.1 2452.8C795.7 2458.1 797.1 2462.4 798.8 2466.4C800.5 2470.3 802.6 2473.8 804.4 2476.3C806.3 2478.9 808.0 2480.6 810.1 2481.8C812.1 2483.0 814.5 2483.6 816.7 2483.6C818.9 2483.6 821.2 2482.8 823.3 2481.8C825.3 2480.7 826.9 2479.3 828.9 2477.2C830.9 2475.1 834.4 2470.4 835.5 2469.1" stroke="#008000"/>
<path d="M222.6 2482.3C226.5 2482.6 238.8 2484.6 245.5 2484.0C252.1 2483.4 257.9 2479.9 262.6 2478.5C267.4 2477.0 268.3 2475.7 274.0 2475.2C279.7 2474.6 289.3 2475.3 296.9 2475.2C304.5 2475.0 312.1 2474.7 319.7 2474.1C327.3 2473.4 334.9 2472.4 342.5 2471.3C350.1 2470.2 357.8 2469.3 365.4 2467.4C373.0 2465.6 380.6 2463.6 388.2 2460.2C395.8 2456.9 404.4 2452.6 411.0 2447.5C417.7 2442.5 423.3 2435.4 428.2 2429.8C433.0 2424.3 435.6 2421.7 440.0 2414.5C444.4 2407.2 449.6 2395.8 454.4 2386.5C459.2 2377.2 465.3 2366.5 468.9 2358.6C472.5 2350.7 473.7 2347.0 476.1 2339.0C478.5 2331.1 480.9 2321.3 483.3 2311.1C485.7 2300.9 488.1 2288.8 490.5 2277.6C492.9 2266.4 495.3 2255.2 497.7 2244.1C500.1 2232.9 502.5 2221.2 504.9 2210.5C507.3 2199.8 509.7 2188.7 512.1 2179.8C514.6 2171.0 517.0 2164.4 519.4 2157.5C521.8 2150.5 524.2 2144.7 526.6 2137.9C529.0 2131.2 531.4 2123.9 533.8 2117.0C536.2 2110.0 538.6 2102.8 541.0 2096.0C543.4 2089.3 545.8 2082.5 548.2 2076.5C550.6 2070.4 552.8 2064.8 555.4 2059.7C558.1 2054.6 561.2 2049.9 564.1 2045.7C567.0 2041.5 569.9 2038.5 572.7 2034.6C575.6 2030.6 579.0 2025.5 581.4 2022.0C583.8 2018.5 585.6 2015.5 587.2 2013.6C588.7 2011.7 589.4 2010.6 590.6 2010.8C591.8 2011.0 593.0 2011.0 594.4 2015.0C595.7 2019.0 597.0 2024.8 598.7 2034.6C600.4 2044.3 602.6 2059.7 604.5 2073.7C606.4 2087.6 608.3 2104.4 610.3 2118.4C612.2 2132.3 614.4 2148.2 616.0 2157.5C617.7 2166.8 619.3 2171.0 620.4 2174.2C621.4 2177.5 621.7 2177.0 622.4 2177.0C623.1 2177.0 623.6 2178.4 624.7 2174.2C625.8 2170.0 627.3 2163.1 629.0 2151.9C630.7 2140.7 632.9 2121.1 634.8 2107.2C636.7 2093.2 638.9 2077.2 640.6 2068.1C642.2 2059.0 643.8 2055.6 644.9 2052.7C646.0 2049.8 646.4 2050.8 647.2 2050.8C648.0 2050.8 648.5 2049.8 649.5 2052.7C650.6 2055.6 651.9 2059.9 653.6 2068.1C655.2 2076.2 657.4 2090.9 659.3 2101.6C661.2 2112.3 663.2 2123.5 665.1 2132.3C667.0 2141.2 668.9 2148.6 670.9 2154.7C672.8 2160.7 674.2 2164.4 676.6 2168.6C679.0 2172.8 682.6 2176.6 685.3 2179.8C687.9 2183.1 690.6 2184.9 692.5 2188.2C694.4 2191.5 695.4 2193.8 696.8 2199.4C698.3 2205.0 699.7 2212.4 701.2 2221.7C702.6 2231.0 704.1 2242.7 705.5 2255.2C706.9 2267.8 708.4 2282.7 709.8 2297.1C711.3 2311.6 712.8 2327.5 714.2 2341.8C715.5 2356.2 716.6 2371.9 717.9 2383.4C719.1 2394.8 720.2 2400.7 721.6 2410.7C723.0 2420.7 724.8 2434.1 726.3 2443.5C727.9 2452.9 729.5 2460.9 731.0 2467.2C732.6 2473.4 734.2 2477.6 735.7 2480.8C737.3 2484.0 739.2 2485.2 740.5 2486.3C741.7 2487.4 742.2 2487.4 743.3 2487.2C744.4 2487.1 745.6 2487.5 747.0 2485.4C748.5 2483.3 750.2 2479.3 751.7 2474.5C753.3 2469.6 754.9 2462.6 756.4 2456.2C758.0 2449.9 759.4 2443.2 761.2 2436.2C762.9 2429.2 765.1 2420.3 766.8 2414.3C768.5 2408.4 770.0 2403.7 771.5 2400.7C773.0 2397.6 774.4 2396.1 775.8 2396.1C777.2 2396.1 778.5 2397.6 780.0 2400.7C781.4 2403.7 783.1 2408.7 784.7 2414.3C786.2 2419.9 787.8 2428.0 789.4 2434.4C791.0 2440.7 792.5 2447.3 794.1 2452.6C795.7 2457.9 797.1 2462.3 798.8 2466.3C800.5 2470.2 802.6 2473.7 804.4 2476.3C806.3 2478.9 808.0 2480.5 810.1 2481.7C812.1 2483.0 814.5 2483.6 816.7 2483.6C818.9 2483.6 821.2 2482.8 823.3 2481.7C825.3 2480.7 826.9 2479.3 828.9 2477.2C830.9 2475.1 834.4 2470.4 835.5 2469.0" stroke="#000080"/>
<path d="M222.6 2482.4C226.5 2482.6 238.8 2484.6 245.5 2484.0C252.1 2483.4 257.9 2480.0 262.6 2478.5C267.4 2477.1 268.3 2475.8 274.0 2475.3C279.7 2474.7 289.3 2475.4 296.9 2475.3C304.5 2475.1 312.1 2474.8 319.7 2474.2C327.3 2473.5 334.9 2472.5 342.5 2471.4C350.1 2470.3 357.8 2469.4 365.4 2467.6C373.0 2465.8 380.6 2463.8 388.2 2460.5C395.8 2457.2 404.4 2452.9 411.0 2447.9C417.7 2442.9 423.3 2435.9 428.2 2430.4C433.0 2425.0 435.6 2422.3 440.0 2415.2C444.4 2408.0 449.6 2396.8 454.4 2387.5C459.2 2378.3 465.3 2367.7 468.9 2359.9C472.5 2352.1 473.7 2348.4 476.1 2340.5C478.5 2332.7 480.9 2323.0 483.3 2312.9C485.7 2302.8 488.1 2290.8 490.5 2279.7C492.9 2268.7 495.3 2257.6 497.7 2246.6C500.1 2235.5 502.5 2224.0 504.9 2213.4C507.3 2202.8 509.7 2191.7 512.1 2183.0C514.6 2174.2 517.0 2167.8 519.4 2160.8C521.8 2153.9 524.2 2148.2 526.6 2141.5C529.0 2134.8 531.4 2127.7 533.8 2120.8C536.2 2113.9 538.6 2106.7 541.0 2100.0C543.4 2093.3 545.8 2086.7 548.2 2080.7C550.6 2074.7 552.8 2069.2 555.4 2064.1C558.1 2059.0 561.2 2054.4 564.1 2050.3C567.0 2046.1 569.9 2043.1 572.7 2039.2C575.6 2035.3 579.0 2030.2 581.4 2026.8C583.8 2023.3 585.6 2020.3 587.2 2018.5C588.7 2016.6 589.4 2015.5 590.6 2015.7C591.8 2015.9 593.0 2015.9 594.4 2019.9C595.7 2023.8 597.0 2029.5 598.7 2039.2C600.4 2048.9 602.6 2064.1 604.5 2077.9C606.4 2091.7 608.3 2108.3 610.3 2122.1C612.2 2136.0 614.4 2151.6 616.0 2160.8C617.7 2170.1 619.3 2174.2 620.4 2177.4C621.4 2180.7 621.7 2180.2 622.4 2180.2C623.1 2180.2 623.6 2181.6 624.7 2177.4C625.8 2173.3 627.3 2166.4 629.0 2155.3C630.7 2144.3 632.9 2124.9 634.8 2111.1C636.7 2097.3 638.9 2081.4 640.6 2072.4C642.2 2063.4 643.8 2060.0 644.9 2057.2C646.0 2054.3 646.4 2055.2 647.2 2055.2C648.0 2055.2 648.5 2054.3 649.5 2057.2C650.6 2060.0 651.9 2064.3 653.6 2072.4C655.2 2080.4 657.4 2095.0 659.3 2105.6C661.2 2116.2 663.2 2127.2 665.1 2136.0C667.0 2144.7 668.9 2152.1 670.9 2158.1C672.8 2164.1 674.2 2167.8 676.6 2171.9C679.0 2176.1 682.6 2179.7 685.3 2183.0C687.9 2186.2 690.6 2188.0 692.5 2191.3C694.4 2194.5 695.4 2196.8 696.8 2202.3C698.3 2207.8 699.7 2215.2 701.2 2224.4C702.6 2233.7 704.1 2245.2 705.5 2257.6C706.9 2270.1 708.4 2284.8 709.8 2299.1C711.3 2313.4 712.8 2329.1 714.2 2343.3C715.5 2357.5 716.6 2373.1 717.9 2384.4C719.1 2395.8 720.2 2401.5 721.6 2411.5C723.0 2421.4 724.8 2434.6 726.3 2443.9C727.9 2453.2 729.5 2461.2 731.0 2467.3C732.6 2473.5 734.2 2477.7 735.7 2480.9C737.3 2484.0 739.2 2485.2 740.5 2486.3C741.7 2487.3 742.2 2487.3 743.3 2487.2C744.4 2487.0 745.6 2487.5 747.0 2485.4C748.5 2483.3 750.2 2479.4 751.7 2474.6C753.3 2469.8 754.9 2462.8 756.4 2456.5C758.0 2450.2 759.4 2443.6 761.2 2436.7C762.9 2429.8 765.1 2420.9 766.8 2415.1C768.5 2409.2 770.0 2404.5 771.5 2401.5C773.0 2398.5 774.4 2397.0 775.8 2397.0C777.2 2397.0 778.5 2398.5 780.0 2401.5C781.4 2404.5 783.1 2409.5 784.7 2415.1C786.2 2420.6 787.8 2428.6 789.4 2434.9C791.0 2441.2 792.5 2447.7 794.1 2452.9C795.7 2458.2 797.1 2462.5 798.8 2466.4C800.5 2470.4 802.6 2473.8 804.4 2476.4C806.3 2478.9 808.0 2480.6 810.1 2481.8C812.1 2483.0 814.5 2483.6 816.7 2483.6C818.9 2483.6 821.2 2482.8 823.3 2481.8C825.3 2480.7 826.9 2479.4 828.9 2477.3C830.9 2475.2 834.4 2470.5 835.5 2469.2" stroke="#8000ff"/>
<path d="M222.6 2482.4C226.5 2482.6 238.8 2484.6 245.5 2484.0C252.1 2483.4 257.9 2480.0 262.6 2478.5C267.4 2477.1 268.3 2475.8 274.0 2475.2C279.7 2474.7 289.3 2475.4 296.9 2475.2C304.5 2475.1 312.1 2474.8 319.7 2474.1C327.3 2473.5 334.9 2472.5 342.5 2471.4C350.1 2470.3 357.8 2469.4 365.4 2467.6C373.0 2465.7 380.6 2463.7 388.2 2460.4C395.8 2457.2 404.4 2452.9 411.0 2447.8C417.7 2442.8 423.3 2435.8 428.2 2430.3C433.0 2424.8 435.6 2422.2 440.0 2415.0C444.4 2407.9 449.6 2396.6 454.4 2387.3C459.2 2378.1 465.3 2367.5 468.9 2359.6C472.5 2351.8 473.7 2348.1 476.1 2340.2C478.5 2332.4 480.9 2322.7 483.3 2312.5C485.7 2302.4 488.1 2290.4 490.5 2279.3C492.9 2268.2 495.3 2257.1 497.7 2246.1C500.1 2235.0 502.5 2223.4 504.9 2212.8C507.3 2202.2 509.7 2191.1 512.1 2182.3C514.6 2173.6 517.0 2167.1 519.4 2160.2C521.8 2153.2 524.2 2147.5 526.6 2140.8C529.0 2134.1 531.4 2126.9 533.8 2120.0C536.2 2113.1 538.6 2105.9 541.0 2099.2C543.4 2092.5 545.8 2085.8 548.2 2079.8C550.6 2073.8 552.8 2068.3 555.4 2063.2C558.1 2058.1 561.2 2053.5 564.1 2049.4C567.0 2045.2 569.9 2042.2 572.7 2038.3C575.6 2034.4 579.0 2029.3 581.4 2025.8C583.8 2022.3 585.6 2019.3 587.2 2017.5C588.7 2015.6 589.4 2014.5 590.6 2014.7C591.8 2015.0 593.0 2015.0 594.4 2018.9C595.7 2022.8 597.0 2028.6 598.7 2038.3C600.4 2048.0 602.6 2063.2 604.5 2077.1C606.4 2090.9 608.3 2107.5 610.3 2121.4C612.2 2135.2 614.4 2150.9 616.0 2160.2C617.7 2169.4 619.3 2173.6 620.4 2176.8C621.4 2180.0 621.7 2179.6 622.4 2179.6C623.1 2179.6 623.6 2180.9 624.7 2176.8C625.8 2172.6 627.3 2165.7 629.0 2154.6C630.7 2143.5 632.9 2124.2 634.8 2110.3C636.7 2096.5 638.9 2080.5 640.6 2071.5C642.2 2062.5 643.8 2059.1 644.9 2056.3C646.0 2053.4 646.4 2054.3 647.2 2054.3C648.0 2054.3 648.5 2053.4 649.5 2056.3C650.6 2059.1 651.9 2063.4 653.6 2071.5C655.2 2079.6 657.4 2094.1 659.3 2104.8C661.2 2115.4 663.2 2126.5 665.1 2135.2C667.0 2144.0 668.9 2151.4 670.9 2157.4C672.8 2163.4 674.2 2167.1 676.6 2171.3C679.0 2175.4 682.6 2179.1 685.3 2182.3C687.9 2185.6 690.6 2187.4 692.5 2190.6C694.4 2193.9 695.4 2196.2 696.8 2201.7C698.3 2207.3 699.7 2214.7 701.2 2223.9C702.6 2233.1 704.1 2244.7 705.5 2257.1C706.9 2269.6 708.4 2284.4 709.8 2298.7C711.3 2313.0 712.8 2328.8 714.2 2343.0C715.5 2357.3 716.6 2372.8 717.9 2384.2C719.1 2395.6 720.2 2401.4 721.6 2411.3C723.0 2421.2 724.8 2434.5 726.3 2443.8C727.9 2453.2 729.5 2461.1 731.0 2467.3C732.6 2473.5 734.2 2477.7 735.7 2480.9C737.3 2484.0 739.2 2485.2 740.5 2486.3C741.7 2487.3 742.2 2487.3 743.3 2487.2C744.4 2487.0 745.6 2487.5 747.0 2485.4C748.5 2483.3 750.2 2479.4 751.7 2474.5C753.3 2469.7 754.9 2462.8 756.4 2456.5C758.0 2450.1 759.4 2443.5 761.2 2436.6C762.9 2429.7 765.1 2420.8 766.8 2414.9C768.5 2409.0 770.0 2404.4 771.5 2401.4C773.0 2398.4 774.4 2396.8 775.8 2396.8C777.2 2396.8 778.5 2398.4 780.0 2401.4C781.4 2404.4 783.1 2409.3 784.7 2414.9C786.2 2420.5 787.8 2428.5 789.4 2434.8C791.0 2441.1 792.5 2447.6 794.1 2452.9C795.7 2458.1 797.1 2462.5 798.8 2466.4C800.5 2470.3 802.6 2473.8 804.4 2476.3C806.3 2478.9 808.0 2480.6 810.1 2481.8C812.1 2483.0 814.5 2483.6 816.7 2483.6C818.9 2483.6 821.2 2482.8 823.3 2481.8C825.3 2480.7 826.9 2479.4 828.9 2477.2C830.9 2475.1 834.4 2470.5 835.5 2469.1" stroke="#800080"/>
<path d="M222.6 2482.3C226.5 2482.6 238.8 2484.6 245.5 2484.0C252.1 2483.3 257.9 2479.9 262.6 2478.4C267.4 2476.9 268.3 2475.5 274.0 2475.0C279.7 2474.4 289.3 2475.2 296.9 2475.0C304.5 2474.8 312.1 2474.5 319.7 2473.9C327.3 2473.2 334.9 2472.2 342.5 2471.0C350.1 2469.9 357.8 2469.0 365.4 2467.1C373.0 2465.2 380.6 2463.2 388.2 2459.8C395.8 2456.4 404.4 2452.0 411.0 2446.9C417.7 2441.7 423.3 2434.5 428.2 2428.9C433.0 2423.3 435.6 2420.6 440.0 2413.2C444.4 2405.9 449.6 2394.3 454.4 2384.8C459.2 2375.3 465.3 2364.4 468.9 2356.4C472.5 2348.3 473.7 2344.5 476.1 2336.5C478.5 2328.4 480.9 2318.5 483.3 2308.1C485.7 2297.6 488.1 2285.3 490.5 2273.9C492.9 2262.6 495.3 2251.2 497.7 2239.8C500.1 2228.5 502.5 2216.6 504.9 2205.7C507.3 2194.8 509.7 2183.5 512.1 2174.5C514.6 2165.5 517.0 2158.8 519.4 2151.7C521.8 2144.6 524.2 2138.7 526.6 2131.8C529.0 2124.9 531.4 2117.6 533.8 2110.5C536.2 2103.4 538.6 2096.0 541.0 2089.2C543.4 2082.3 545.8 2075.4 548.2 2069.3C550.6 2063.1 552.8 2057.4 555.4 2052.2C558.1 2047.0 561.2 2042.3 564.1 2038.0C567.0 2033.7 569.9 2030.7 572.7 2026.6C575.6 2022.6 579.0 2017.4 581.4 2013.8C583.8 2010.3 585.6 2007.2 587.2 2005.3C588.7 2003.4 589.4 2002.2 590.6 2002.5C591.8 2002.7 593.0 2002.7 594.4 2006.7C595.7 2010.8 597.0 2016.7 598.7 2026.6C600.4 2036.6 602.6 2052.2 604.5 2066.4C606.4 2080.6 608.3 2097.7 610.3 2111.9C612.2 2126.1 614.4 2142.2 616.0 2151.7C617.7 2161.2 619.3 2165.5 620.4 2168.8C621.4 2172.1 621.7 2171.6 622.4 2171.6C623.1 2171.6 623.6 2173.0 624.7 2168.8C625.8 2164.5 627.3 2157.4 629.0 2146.0C630.7 2134.7 632.9 2114.8 634.8 2100.5C636.7 2086.3 638.9 2070.0 640.6 2060.8C642.2 2051.5 643.8 2048.1 644.9 2045.1C646.0 2042.2 646.4 2043.1 647.2 2043.1C648.0 2043.1 648.5 2042.2 649.5 2045.1C650.6 2048.1 651.9 2052.5 653.6 2060.8C655.2 2069.0 657.4 2084.0 659.3 2094.9C661.2 2105.8 663.2 2117.1 665.1 2126.1C667.0 2135.1 668.9 2142.7 670.9 2148.9C672.8 2155.0 674.2 2158.8 676.6 2163.1C679.0 2167.3 682.6 2171.1 685.3 2174.5C687.9 2177.8 690.6 2179.7 692.5 2183.0C694.4 2186.3 695.4 2188.7 696.8 2194.4C698.3 2200.0 699.7 2207.6 701.2 2217.1C702.6 2226.6 704.1 2238.4 705.5 2251.2C706.9 2264.0 708.4 2279.2 709.8 2293.8C711.3 2308.5 712.8 2324.7 714.2 2339.3C715.5 2353.9 716.6 2369.9 717.9 2381.6C719.1 2393.3 720.2 2399.2 721.6 2409.4C723.0 2419.6 724.8 2433.2 726.3 2442.8C727.9 2452.3 729.5 2460.5 731.0 2466.9C732.6 2473.2 734.2 2477.5 735.7 2480.8C737.3 2484.0 739.2 2485.2 740.5 2486.3C741.7 2487.4 742.2 2487.4 743.3 2487.2C744.4 2487.1 745.6 2487.6 747.0 2485.4C748.5 2483.2 750.2 2479.2 751.7 2474.3C753.3 2469.3 754.9 2462.2 756.4 2455.7C758.0 2449.2 759.4 2442.4 761.2 2435.3C762.9 2428.2 765.1 2419.1 766.8 2413.1C768.5 2407.1 770.0 2402.3 771.5 2399.2C773.0 2396.1 774.4 2394.6 775.8 2394.6C777.2 2394.6 778.5 2396.1 780.0 2399.2C781.4 2402.3 783.1 2407.4 784.7 2413.1C786.2 2418.8 787.8 2427.0 789.4 2433.5C791.0 2440.0 792.5 2446.6 794.1 2452.0C795.7 2457.4 797.1 2461.9 798.8 2465.9C800.5 2469.9 802.6 2473.5 804.4 2476.1C806.3 2478.7 808.0 2480.4 810.1 2481.7C812.1 2482.9 814.5 2483.5 816.7 2483.5C818.9 2483.5 821.2 2482.8 823.3 2481.7C825.3 2480.6 826.9 2479.2 828.9 2477.0C830.9 2474.9 834.4 2470.1 835.5 2468.7" stroke="#800000"/>
</g>
<rect x="555" y="1979" width="66" height="69.5" fill="none" stroke="#262626" stroke-width="3.2" rx="1.5"/>
<line x1="551" y1="2002.5" x2="497.5" y2="2055" stroke="#111" stroke-width="2.6" marker-end="url(#ah)"/>
<rect x="183" y="1940" width="312.5" height="250" fill="#fff" stroke="#c4c4c4" stroke-width="3.2" rx="1.5"/>
<clipPath id="ciD"><rect x="184.7" y="1941.7" width="309.1" height="246.6"/></clipPath>
<g clip-path="url(#ciD)" fill="none" stroke-width="5.2" stroke-linejoin="round">
<path d="M191.2 2190.0C193.6 2184.9 200.3 2170.5 205.5 2159.7C210.8 2148.9 216.9 2136.9 222.6 2125.4C228.4 2114.0 234.1 2101.2 239.8 2091.2C245.5 2081.2 251.2 2072.6 256.9 2065.5C262.6 2058.4 268.3 2053.1 274.0 2048.4C279.7 2043.6 285.4 2040.5 291.2 2037.0C296.9 2033.4 302.6 2030.8 308.3 2027.3C314.0 2023.7 319.7 2020.4 325.4 2015.8C331.1 2011.3 336.8 2005.4 342.5 1999.8C348.2 1994.3 354.4 1987.0 359.7 1982.7C364.9 1978.4 369.7 1975.8 373.9 1974.2C378.2 1972.5 381.5 1972.1 385.4 1973.0C389.2 1974.0 393.0 1974.9 396.8 1979.9C400.6 1984.8 404.4 1992.7 408.2 2002.7C412.0 2012.7 415.8 2026.0 419.6 2039.8C423.4 2053.6 427.2 2069.3 431.0 2085.5C434.8 2101.7 438.6 2119.0 442.4 2136.9C446.2 2154.8 452.0 2183.5 453.9 2192.8" stroke="#000000"/>
<path d="M191.2 2205.0C193.6 2199.9 200.3 2185.5 205.5 2174.7C210.8 2163.9 216.9 2151.9 222.6 2140.4C228.4 2129.0 234.1 2116.2 239.8 2106.2C245.5 2096.2 251.2 2087.6 256.9 2080.5C262.6 2073.4 268.3 2068.1 274.0 2063.4C279.7 2058.6 285.4 2055.5 291.2 2052.0C296.9 2048.4 302.6 2045.8 308.3 2042.3C314.0 2038.7 319.7 2035.4 325.4 2030.8C331.1 2026.3 336.8 2020.4 342.5 2014.8C348.2 2009.3 354.4 2002.0 359.7 1997.7C364.9 1993.4 369.7 1990.8 373.9 1989.2C378.2 1987.5 381.5 1987.1 385.4 1988.0C389.2 1989.0 393.0 1989.9 396.8 1994.9C400.6 1999.8 404.4 2007.7 408.2 2017.7C412.0 2027.7 415.8 2041.0 419.6 2054.8C423.4 2068.6 427.2 2084.3 431.0 2100.5C434.8 2116.7 438.6 2134.0 442.4 2151.9C446.2 2169.8 452.0 2198.5 453.9 2207.8" stroke="#ff0000"/>
<path d="M191.2 2228.0C193.6 2222.9 200.3 2208.5 205.5 2197.7C210.8 2186.9 216.9 2174.9 222.6 2163.4C228.4 2152.0 234.1 2139.2 239.8 2129.2C245.5 2119.2 251.2 2110.6 256.9 2103.5C262.6 2096.4 268.3 2091.1 274.0 2086.4C279.7 2081.6 285.4 2078.5 291.2 2075.0C296.9 2071.4 302.6 2068.8 308.3 2065.3C314.0 2061.7 319.7 2058.4 325.4 2053.8C331.1 2049.3 336.8 2043.4 342.5 2037.8C348.2 2032.3 354.4 2025.0 359.7 2020.7C364.9 2016.4 369.7 2013.8 373.9 2012.2C378.2 2010.5 381.5 2010.1 385.4 2011.0C389.2 2012.0 393.0 2012.9 396.8 2017.9C400.6 2022.8 404.4 2030.7 408.2 2040.7C412.0 2050.7 415.8 2064.0 419.6 2077.8C423.4 2091.6 427.2 2107.3 431.0 2123.5C434.8 2139.7 438.6 2157.0 442.4 2174.9C446.2 2192.8 452.0 2221.5 453.9 2230.8" stroke="#0000ff"/>
<path d="M191.2 2233.0C193.6 2227.9 200.3 2213.5 205.5 2202.7C210.8 2191.9 216.9 2179.9 222.6 2168.4C228.4 2157.0 234.1 2144.2 239.8 2134.2C245.5 2124.2 251.2 2115.6 256.9 2108.5C262.6 2101.4 268.3 2096.1 274.0 2091.4C279.7 2086.6 285.4 2083.5 291.2 2080.0C296.9 2076.4 302.6 2073.8 308.3 2070.3C314.0 2066.7 319.7 2063.4 325.4 2058.8C331.1 2054.3 336.8 2048.4 342.5 2042.8C348.2 2037.3 354.4 2030.0 359.7 2025.7C364.9 2021.4 369.7 2018.8 373.9 2017.2C378.2 2015.5 381.5 2015.1 385.4 2016.0C389.2 2017.0 393.0 2017.9 396.8 2022.9C400.6 2027.8 404.4 2035.7 408.2 2045.7C412.0 2055.7 415.8 2069.0 419.6 2082.8C423.4 2096.6 427.2 2112.3 431.0 2128.5C434.8 2144.7 438.6 2162.0 442.4 2179.9C446.2 2197.8 452.0 2226.5 453.9 2235.8" stroke="#ff00ff"/>
<path d="M191.2 2226.0C193.6 2220.9 200.3 2206.5 205.5 2195.7C210.8 2184.9 216.9 2172.9 222.6 2161.4C228.4 2150.0 234.1 2137.2 239.8 2127.2C245.5 2117.2 251.2 2108.6 256.9 2101.5C262.6 2094.4 268.3 2089.1 274.0 2084.4C279.7 2079.6 285.4 2076.5 291.2 2073.0C296.9 2069.4 302.6 2066.8 308.3 2063.3C314.0 2059.7 319.7 2056.4 325.4 2051.8C331.1 2047.3 336.8 2041.4 342.5 2035.8C348.2 2030.3 354.4 2023.0 359.7 2018.7C364.9 2014.4 369.7 2011.8 373.9 2010.2C378.2 2008.5 381.5 2008.1 385.4 2009.0C389.2 2010.0 393.0 2010.9 396.8 2015.9C400.6 2020.8 404.4 2028.7 408.2 2038.7C412.0 2048.7 415.8 2062.0 419.6 2075.8C423.4 2089.6 427.2 2105.3 431.0 2121.5C434.8 2137.7 438.6 2155.0 442.4 2172.9C446.2 2190.8 452.0 2219.5 453.9 2228.8" stroke="#008000"/>
<path d="M191.2 2220.0C193.6 2214.9 200.3 2200.5 205.5 2189.7C210.8 2178.9 216.9 2166.9 222.6 2155.4C228.4 2144.0 234.1 2131.2 239.8 2121.2C245.5 2111.2 251.2 2102.6 256.9 2095.5C262.6 2088.4 268.3 2083.1 274.0 2078.4C279.7 2073.6 285.4 2070.5 291.2 2067.0C296.9 2063.4 302.6 2060.8 308.3 2057.3C314.0 2053.7 319.7 2050.4 325.4 2045.8C331.1 2041.3 336.8 2035.4 342.5 2029.8C348.2 2024.3 354.4 2017.0 359.7 2012.7C364.9 2008.4 369.7 2005.8 373.9 2004.2C378.2 2002.5 381.5 2002.1 385.4 2003.0C389.2 2004.0 393.0 2004.9 396.8 2009.9C400.6 2014.8 404.4 2022.7 408.2 2032.7C412.0 2042.7 415.8 2056.0 419.6 2069.8C423.4 2083.6 427.2 2099.3 431.0 2115.5C434.8 2131.7 438.6 2149.0 442.4 2166.9C446.2 2184.8 452.0 2213.5 453.9 2222.8" stroke="#000080"/>
<path d="M191.2 2204.0C193.6 2198.9 200.3 2184.5 205.5 2173.7C210.8 2162.9 216.9 2150.9 222.6 2139.4C228.4 2128.0 234.1 2115.2 239.8 2105.2C245.5 2095.2 251.2 2086.6 256.9 2079.5C262.6 2072.4 268.3 2067.1 274.0 2062.4C279.7 2057.6 285.4 2054.5 291.2 2051.0C296.9 2047.4 302.6 2044.8 308.3 2041.3C314.0 2037.7 319.7 2034.4 325.4 2029.8C331.1 2025.3 336.8 2019.4 342.5 2013.8C348.2 2008.3 354.4 2001.0 359.7 1996.7C364.9 1992.4 369.7 1989.8 373.9 1988.2C378.2 1986.5 381.5 1986.1 385.4 1987.0C389.2 1988.0 393.0 1988.9 396.8 1993.9C400.6 1998.8 404.4 2006.7 408.2 2016.7C412.0 2026.7 415.8 2040.0 419.6 2053.8C423.4 2067.6 427.2 2083.3 431.0 2099.5C434.8 2115.7 438.6 2133.0 442.4 2150.9C446.2 2168.8 452.0 2197.5 453.9 2206.8" stroke="#8000ff"/>
<path d="M191.2 2204.0C193.6 2198.9 200.3 2184.5 205.5 2173.7C210.8 2162.9 216.9 2150.9 222.6 2139.4C228.4 2128.0 234.1 2115.2 239.8 2105.2C245.5 2095.2 251.2 2086.6 256.9 2079.5C262.6 2072.4 268.3 2067.1 274.0 2062.4C279.7 2057.6 285.4 2054.5 291.2 2051.0C296.9 2047.4 302.6 2044.8 308.3 2041.3C314.0 2037.7 319.7 2034.4 325.4 2029.8C331.1 2025.3 336.8 2019.4 342.5 2013.8C348.2 2008.3 354.4 2001.0 359.7 1996.7C364.9 1992.4 369.7 1989.8 373.9 1988.2C378.2 1986.5 381.5 1986.1 385.4 1987.0C389.2 1988.0 393.0 1988.9 396.8 1993.9C400.6 1998.8 404.4 2006.7 408.2 2016.7C412.0 2026.7 415.8 2040.0 419.6 2053.8C423.4 2067.6 427.2 2083.3 431.0 2099.5C434.8 2115.7 438.6 2133.0 442.4 2150.9C446.2 2168.8 452.0 2197.5 453.9 2206.8" stroke="#800080"/>
<path d="M191.2 2204.0C193.6 2198.9 200.3 2184.5 205.5 2173.7C210.8 2162.9 216.9 2150.9 222.6 2139.4C228.4 2128.0 234.1 2115.2 239.8 2105.2C245.5 2095.2 251.2 2086.6 256.9 2079.5C262.6 2072.4 268.3 2067.1 274.0 2062.4C279.7 2057.6 285.4 2054.5 291.2 2051.0C296.9 2047.4 302.6 2044.8 308.3 2041.3C314.0 2037.7 319.7 2034.4 325.4 2029.8C331.1 2025.3 336.8 2019.4 342.5 2013.8C348.2 2008.3 354.4 2001.0 359.7 1996.7C364.9 1992.4 369.7 1989.8 373.9 1988.2C378.2 1986.5 381.5 1986.1 385.4 1987.0C389.2 1988.0 393.0 1988.9 396.8 1993.9C400.6 1998.8 404.4 2006.7 408.2 2016.7C412.0 2026.7 415.8 2040.0 419.6 2053.8C423.4 2067.6 427.2 2083.3 431.0 2099.5C434.8 2115.7 438.6 2133.0 442.4 2150.9C446.2 2168.8 452.0 2197.5 453.9 2206.8" stroke="#800000"/>
</g>
<rect x="722" y="1929.5" width="141" height="320.5" fill="#fff" stroke="#c2c2c2" stroke-width="3.2" rx="1.5"/>
<path d="M735 1958.2H756.0M772.0 1958.2H793" stroke="#000000" stroke-width="3.6" opacity="0.2" fill="none"/>
<rect x="760.2" y="1954.9" width="7.6" height="6.6" rx="1.2" fill="#000000" opacity="0.72"/>
<text x="801.0" y="1967.2" font-size="26" fill="#222" textLength="54.0" lengthAdjust="spacingAndGlyphs">35<tspan font-size="16" dy="-8" font-weight="normal">°</tspan><tspan dy="8">C</tspan></text>
<path d="M735 1992.5H756.0M772.0 1992.5H793" stroke="#ff0000" stroke-width="3.6" opacity="0.2" fill="none"/>
<rect x="760.2" y="1989.2" width="7.6" height="6.6" rx="1.2" fill="#ff0000" opacity="0.72"/>
<text x="801.0" y="2001.5" font-size="26" fill="#222" textLength="54.0" lengthAdjust="spacingAndGlyphs">40<tspan font-size="16" dy="-8" font-weight="normal">°</tspan><tspan dy="8">C</tspan></text>
<path d="M735 2026.8H756.0M772.0 2026.8H793" stroke="#0000ff" stroke-width="3.6" opacity="0.2" fill="none"/>
<rect x="760.2" y="2023.5" width="7.6" height="6.6" rx="1.2" fill="#0000ff" opacity="0.72"/>
<text x="801.0" y="2035.8" font-size="26" fill="#222" textLength="54.0" lengthAdjust="spacingAndGlyphs">45<tspan font-size="16" dy="-8" font-weight="normal">°</tspan><tspan dy="8">C</tspan></text>
<path d="M735 2061.1H756.0M772.0 2061.1H793" stroke="#ff00ff" stroke-width="3.6" opacity="0.2" fill="none"/>
<rect x="760.2" y="2057.8" width="7.6" height="6.6" rx="1.2" fill="#ff00ff" opacity="0.72"/>
<text x="801.0" y="2070.1" font-size="26" fill="#222" textLength="54.0" lengthAdjust="spacingAndGlyphs">50<tspan font-size="16" dy="-8" font-weight="normal">°</tspan><tspan dy="8">C</tspan></text>
<path d="M735 2095.4H756.0M772.0 2095.4H793" stroke="#008000" stroke-width="3.6" opacity="0.2" fill="none"/>
<rect x="760.2" y="2092.1" width="7.6" height="6.6" rx="1.2" fill="#008000" opacity="0.72"/>
<text x="801.0" y="2104.4" font-size="26" fill="#222" textLength="54.0" lengthAdjust="spacingAndGlyphs">55<tspan font-size="16" dy="-8" font-weight="normal">°</tspan><tspan dy="8">C</tspan></text>
<path d="M735 2129.7H756.0M772.0 2129.7H793" stroke="#000080" stroke-width="3.6" opacity="0.2" fill="none"/>
<rect x="760.2" y="2126.4" width="7.6" height="6.6" rx="1.2" fill="#000080" opacity="0.72"/>
<text x="801.0" y="2138.7" font-size="26" fill="#222" textLength="54.0" lengthAdjust="spacingAndGlyphs">60<tspan font-size="16" dy="-8" font-weight="normal">°</tspan><tspan dy="8">C</tspan></text>
<path d="M735 2164.0H756.0M772.0 2164.0H793" stroke="#8000ff" stroke-width="3.6" opacity="0.2" fill="none"/>
<rect x="760.2" y="2160.7" width="7.6" height="6.6" rx="1.2" fill="#8000ff" opacity="0.72"/>
<text x="801.0" y="2173.0" font-size="26" fill="#222" textLength="54.0" lengthAdjust="spacingAndGlyphs">65<tspan font-size="16" dy="-8" font-weight="normal">°</tspan><tspan dy="8">C</tspan></text>
<path d="M735 2198.3H756.0M772.0 2198.3H793" stroke="#800080" stroke-width="3.6" opacity="0.2" fill="none"/>
<rect x="760.2" y="2195.0" width="7.6" height="6.6" rx="1.2" fill="#800080" opacity="0.72"/>
<text x="801.0" y="2207.3" font-size="26" fill="#222" textLength="54.0" lengthAdjust="spacingAndGlyphs">70<tspan font-size="16" dy="-8" font-weight="normal">°</tspan><tspan dy="8">C</tspan></text>
<path d="M735 2232.6H756.0M772.0 2232.6H793" stroke="#800000" stroke-width="3.6" opacity="0.2" fill="none"/>
<rect x="760.2" y="2229.3" width="7.6" height="6.6" rx="1.2" fill="#800000" opacity="0.72"/>
<text x="801.0" y="2241.6" font-size="26" fill="#222" textLength="54.0" lengthAdjust="spacingAndGlyphs">75<tspan font-size="16" dy="-8" font-weight="normal">°</tspan><tspan dy="8">C</tspan></text>
</g>
<g id="chartE">
<rect x="1065" y="1901" width="745" height="631" fill="#fff" stroke="#4c4c4c" stroke-width="3.6"/>
<text x="1138.4" y="2578.5" font-size="31" text-anchor="middle" fill="#1a1a1a" textLength="44.5" lengthAdjust="spacingAndGlyphs">200</text>
<text x="1287.2" y="2578.5" font-size="31" text-anchor="middle" fill="#1a1a1a" textLength="44.5" lengthAdjust="spacingAndGlyphs">400</text>
<text x="1436.1" y="2578.5" font-size="31" text-anchor="middle" fill="#1a1a1a" textLength="44.5" lengthAdjust="spacingAndGlyphs">600</text>
<text x="1585.0" y="2578.5" font-size="31" text-anchor="middle" fill="#1a1a1a" textLength="44.5" lengthAdjust="spacingAndGlyphs">800</text>
<text x="1733.8" y="2578.5" font-size="31" text-anchor="middle" fill="#1a1a1a" textLength="60.0" lengthAdjust="spacingAndGlyphs">1000</text>
<text x="1042.0" y="2505.0" font-size="30.5" text-anchor="end" fill="#1a1a1a" textLength="57.0" lengthAdjust="spacingAndGlyphs">0.00</text>
<text x="1042.0" y="2356.2" font-size="30.5" text-anchor="end" fill="#1a1a1a" textLength="57.0" lengthAdjust="spacingAndGlyphs">0.04</text>
<text x="1042.0" y="2207.3" font-size="30.5" text-anchor="end" fill="#1a1a1a" textLength="57.0" lengthAdjust="spacingAndGlyphs">0.08</text>
<text x="1042.0" y="2058.5" font-size="30.5" text-anchor="end" fill="#1a1a1a" textLength="57.0" lengthAdjust="spacingAndGlyphs">0.12</text>
<text x="1042.0" y="1909.6" font-size="30.5" text-anchor="end" fill="#1a1a1a" textLength="57.0" lengthAdjust="spacingAndGlyphs">0.16</text>
<path d="M1138.4 1901v11M1138.4 2532v11M1212.8 1901v6M1212.8 2532v6M1287.2 1901v11M1287.2 2532v11M1361.7 1901v6M1361.7 2532v6M1436.1 1901v11M1436.1 2532v11M1510.5 1901v6M1510.5 2532v6M1585.0 1901v11M1585.0 2532v11M1659.4 1901v6M1659.4 2532v6M1733.8 1901v11M1733.8 2532v11M1065 2495.4h-11M1810 2495.4h-11M1065 2421.0h-6M1810 2421.0h-6M1065 2346.6h-11M1810 2346.6h-11M1065 2272.1h-6M1810 2272.1h-6M1065 2197.7h-11M1810 2197.7h-11M1065 2123.3h-6M1810 2123.3h-6M1065 2048.9h-11M1810 2048.9h-11M1065 1974.4h-6M1810 1974.4h-6M1065 1900.0h-11M1810 1900.0h-11" stroke="#4c4c4c" stroke-width="2.6" fill="none"/>
<text x="1305.5" y="2637.0" font-size="32" fill="#1a1a1a" textLength="262.0" lengthAdjust="spacingAndGlyphs">Wavelength (nm)</text>
<text x="959.5" y="2456.5" font-size="34" fill="#1a1a1a" textLength="434.0" lengthAdjust="spacingAndGlyphs" transform="rotate(-90 959.5 2456.5)">Normalized Intensity (a. u.)</text>
<text x="941.5" y="1867.5" font-size="59" textLength="37.0" lengthAdjust="spacingAndGlyphs">E</text>
<clipPath id="cpE"><rect x="1065" y="1901" width="745" height="631"/></clipPath>
<g clip-path="url(#cpE)" fill="none" stroke-width="4.6" stroke-linejoin="round" stroke-linecap="round">
<path d="M1138.4 2482.3C1139.8 2483.2 1143.9 2486.5 1146.9 2488.0C1150.0 2489.4 1153.1 2491.3 1156.6 2490.8C1160.1 2490.3 1164.4 2488.9 1168.0 2485.1C1171.7 2481.3 1175.0 2472.7 1178.3 2468.0C1181.6 2463.2 1184.7 2458.7 1188.0 2456.6C1191.4 2454.5 1194.2 2455.9 1198.3 2455.4C1202.4 2454.9 1207.3 2454.7 1212.6 2453.7C1217.8 2452.8 1223.0 2451.6 1229.7 2449.7C1236.4 2447.8 1244.9 2445.9 1252.5 2442.3C1260.1 2438.7 1267.8 2432.8 1275.4 2428.0C1283.0 2423.3 1290.6 2418.5 1298.2 2413.7C1305.8 2409.0 1314.4 2404.2 1321.0 2399.5C1327.7 2394.7 1333.4 2390.4 1338.2 2385.2C1342.9 2380.0 1346.3 2373.8 1349.6 2368.1C1352.9 2362.4 1355.3 2354.3 1358.1 2350.9C1361.0 2347.6 1363.2 2349.4 1366.7 2348.1C1370.2 2346.8 1375.3 2346.5 1378.9 2343.2C1382.5 2339.8 1385.2 2336.8 1388.4 2328.0C1391.5 2319.2 1394.7 2305.9 1397.9 2290.2C1401.0 2274.4 1404.2 2250.7 1407.3 2233.4C1410.5 2216.0 1413.6 2199.3 1416.8 2186.1C1419.9 2172.8 1423.1 2164.0 1426.2 2153.9C1429.4 2143.8 1432.6 2134.6 1435.7 2125.5C1438.9 2116.3 1442.0 2109.4 1445.2 2099.0C1448.3 2088.6 1451.5 2074.7 1454.6 2063.0C1457.8 2051.4 1461.6 2036.8 1464.1 2029.0C1466.6 2021.1 1467.9 2019.2 1469.8 2015.7C1471.7 2012.2 1473.2 2010.3 1475.5 2008.1C1477.7 2005.9 1480.2 2004.7 1483.0 2002.5C1485.9 2000.3 1489.7 1998.7 1492.5 1994.9C1495.3 1991.1 1497.5 1983.8 1500.1 1979.7C1502.6 1975.6 1505.4 1970.9 1507.6 1970.3C1509.8 1969.7 1511.7 1972.5 1513.3 1976.0C1514.9 1979.4 1515.8 1984.5 1517.1 1991.1C1518.4 1997.7 1519.6 2006.6 1520.9 2015.7C1522.1 2024.9 1523.4 2035.3 1524.7 2046.0C1525.9 2056.7 1527.2 2068.7 1528.5 2080.1C1529.7 2091.4 1531.0 2104.0 1532.2 2114.1C1533.5 2124.2 1534.8 2134.6 1536.0 2140.6C1537.3 2146.6 1538.4 2149.5 1539.8 2150.1C1541.2 2150.7 1543.0 2151.0 1544.5 2144.4C1546.1 2137.8 1547.5 2123.9 1549.3 2110.3C1551.0 2096.8 1553.1 2077.2 1555.0 2063.0C1556.8 2048.8 1558.9 2032.7 1560.6 2025.2C1562.4 2017.6 1563.8 2017.9 1565.4 2017.6C1566.9 2017.3 1568.4 2017.3 1570.1 2023.3C1571.8 2029.3 1573.9 2042.8 1575.8 2053.6C1577.7 2064.3 1579.6 2077.5 1581.5 2087.6C1583.3 2097.7 1585.2 2106.2 1587.1 2114.1C1589.0 2122.0 1590.9 2129.6 1592.8 2135.0C1594.7 2140.3 1596.3 2143.2 1598.5 2146.3C1600.7 2149.5 1603.5 2150.4 1606.1 2153.9C1608.6 2157.4 1611.4 2161.1 1613.6 2167.1C1615.8 2173.1 1617.4 2180.4 1619.3 2189.8C1621.2 2199.3 1623.1 2210.3 1625.0 2223.9C1626.9 2237.5 1629.0 2245.2 1630.7 2271.2C1632.3 2297.2 1633.5 2357.2 1634.8 2380.0C1636.1 2402.8 1637.2 2398.2 1638.6 2408.2C1640.0 2418.3 1641.5 2430.5 1643.3 2440.2C1645.0 2449.9 1647.0 2459.7 1648.9 2466.6C1650.8 2473.5 1652.7 2478.2 1654.6 2481.6C1656.4 2485.1 1658.8 2486.3 1660.2 2487.3C1661.6 2488.3 1661.9 2488.0 1663.0 2487.7C1664.1 2487.3 1665.4 2487.7 1666.8 2485.4C1668.2 2483.1 1669.8 2479.7 1671.5 2474.1C1673.2 2468.5 1675.3 2460.0 1677.2 2451.5C1679.0 2443.0 1680.9 2431.8 1682.8 2423.3C1684.7 2414.8 1686.7 2406.2 1688.4 2400.7C1690.2 2395.2 1691.9 2392.4 1693.1 2390.4C1694.4 2388.3 1695.0 2388.5 1696.0 2388.5C1696.9 2388.5 1697.5 2388.0 1698.8 2390.4C1700.1 2392.7 1701.9 2397.1 1703.5 2402.6C1705.1 2408.1 1706.5 2416.1 1708.2 2423.3C1709.9 2430.5 1712.0 2439.3 1713.9 2445.9C1715.7 2452.5 1717.6 2458.3 1719.5 2462.8C1721.4 2467.4 1723.1 2470.8 1725.1 2473.2C1727.2 2475.5 1729.5 2476.8 1731.7 2476.9C1733.9 2477.1 1736.1 2476.1 1738.3 2474.1C1740.5 2472.1 1742.9 2468.1 1744.9 2464.7C1746.9 2461.2 1749.1 2456.2 1750.6 2453.4C1752.0 2450.6 1752.9 2448.7 1753.4 2447.8" stroke="#000000"/>
<path d="M1138.4 2483.0C1139.8 2483.9 1143.9 2487.0 1146.9 2488.4C1150.0 2489.7 1153.1 2491.5 1156.6 2491.1C1160.1 2490.6 1164.4 2489.3 1168.0 2485.7C1171.7 2482.1 1175.0 2474.0 1178.3 2469.6C1181.6 2465.1 1184.7 2460.8 1188.0 2458.8C1191.4 2456.8 1194.2 2458.2 1198.3 2457.7C1202.4 2457.3 1207.3 2457.0 1212.6 2456.1C1217.8 2455.2 1223.0 2454.1 1229.7 2452.3C1236.4 2450.6 1244.9 2448.8 1252.5 2445.4C1260.1 2442.0 1267.8 2436.4 1275.4 2431.9C1283.0 2427.4 1290.6 2422.9 1298.2 2418.5C1305.8 2414.0 1314.4 2409.5 1321.0 2405.2C1327.7 2400.8 1333.4 2397.2 1338.2 2392.5C1342.9 2387.8 1346.3 2382.2 1349.6 2377.1C1352.9 2371.9 1355.3 2364.6 1358.1 2361.7C1361.0 2358.8 1363.2 2360.6 1366.7 2359.7C1370.2 2358.8 1375.3 2359.1 1378.9 2356.4C1382.5 2353.7 1385.2 2351.2 1388.4 2343.6C1391.5 2336.0 1394.7 2324.4 1397.9 2310.6C1401.0 2296.8 1404.2 2276.2 1407.3 2260.9C1410.5 2245.6 1413.6 2230.4 1416.8 2218.5C1419.9 2206.7 1423.1 2198.8 1426.2 2189.7C1429.4 2180.7 1432.6 2172.5 1435.7 2164.3C1438.9 2156.1 1442.0 2149.9 1445.2 2140.6C1448.3 2131.3 1451.5 2118.9 1454.6 2108.4C1457.8 2098.0 1461.6 2085.0 1464.1 2077.9C1466.6 2070.9 1467.9 2069.2 1469.8 2066.1C1471.7 2063.0 1473.2 2061.3 1475.5 2059.3C1477.7 2057.3 1480.2 2056.2 1483.0 2054.2C1485.9 2052.2 1489.7 2050.8 1492.5 2047.4C1495.3 2044.1 1497.5 2037.6 1500.1 2033.9C1502.6 2030.2 1505.4 2026.0 1507.6 2025.4C1509.8 2024.9 1511.7 2027.4 1513.3 2030.5C1514.9 2033.6 1515.8 2038.1 1517.1 2044.1C1518.4 2050.0 1519.6 2057.9 1520.9 2066.1C1522.1 2074.3 1523.4 2083.6 1524.7 2093.2C1525.9 2102.8 1527.2 2113.5 1528.5 2123.7C1529.7 2133.8 1531.0 2145.1 1532.2 2154.2C1533.5 2163.2 1534.8 2172.5 1536.0 2177.9C1537.3 2183.2 1538.4 2185.8 1539.8 2186.4C1541.2 2186.9 1543.0 2187.2 1544.5 2181.3C1546.1 2175.3 1547.5 2162.9 1549.3 2150.8C1551.0 2138.6 1553.1 2121.1 1555.0 2108.4C1556.8 2095.7 1558.9 2081.3 1560.6 2074.5C1562.4 2067.8 1563.8 2068.1 1565.4 2067.8C1566.9 2067.5 1568.4 2067.5 1570.1 2072.9C1571.8 2078.2 1573.9 2090.4 1575.8 2100.0C1577.7 2109.6 1579.6 2121.4 1581.5 2130.4C1583.3 2139.5 1585.2 2147.1 1587.1 2154.2C1589.0 2161.2 1590.9 2168.0 1592.8 2172.8C1594.7 2177.6 1596.3 2180.1 1598.5 2183.0C1600.7 2185.8 1603.5 2186.6 1606.1 2189.7C1608.6 2192.8 1611.4 2196.2 1613.6 2201.6C1615.8 2207.0 1617.4 2213.5 1619.3 2221.9C1621.2 2230.4 1623.1 2240.3 1625.0 2252.4C1626.9 2264.6 1629.0 2271.5 1630.7 2294.8C1632.3 2318.1 1633.5 2371.7 1634.8 2392.1C1636.1 2412.6 1637.2 2408.4 1638.6 2417.4C1640.0 2426.4 1641.5 2437.3 1643.3 2446.0C1645.0 2454.7 1647.0 2463.4 1648.9 2469.6C1650.8 2475.8 1652.7 2480.0 1654.6 2483.1C1656.4 2486.2 1658.8 2487.2 1660.2 2488.1C1661.6 2489.0 1661.9 2488.7 1663.0 2488.5C1664.1 2488.2 1665.4 2488.5 1666.8 2486.4C1668.2 2484.4 1669.8 2481.4 1671.5 2476.3C1673.2 2471.3 1675.3 2463.7 1677.2 2456.1C1679.0 2448.5 1680.9 2438.4 1682.8 2430.9C1684.7 2423.3 1686.7 2415.6 1688.4 2410.6C1690.2 2405.7 1691.9 2403.2 1693.1 2401.4C1694.4 2399.6 1695.0 2399.7 1696.0 2399.7C1696.9 2399.7 1697.5 2399.3 1698.8 2401.4C1700.1 2403.5 1701.9 2407.4 1703.5 2412.3C1705.1 2417.2 1706.5 2424.4 1708.2 2430.9C1709.9 2437.3 1712.0 2445.2 1713.9 2451.1C1715.7 2457.0 1717.6 2462.2 1719.5 2466.2C1721.4 2470.3 1723.1 2473.4 1725.1 2475.5C1727.2 2477.6 1729.5 2478.7 1731.7 2478.9C1733.9 2479.0 1736.1 2478.2 1738.3 2476.3C1740.5 2474.5 1742.9 2471.0 1744.9 2467.9C1746.9 2464.8 1749.1 2460.3 1750.6 2457.8C1752.0 2455.3 1752.9 2453.6 1753.4 2452.8" stroke="#ff0000"/>
<path d="M1138.4 2483.1C1139.8 2484.0 1143.9 2487.1 1146.9 2488.5C1150.0 2489.8 1153.1 2491.6 1156.6 2491.1C1160.1 2490.7 1164.4 2489.3 1168.0 2485.8C1171.7 2482.2 1175.0 2474.2 1178.3 2469.8C1181.6 2465.3 1184.7 2461.1 1188.0 2459.1C1191.4 2457.2 1194.2 2458.5 1198.3 2458.1C1202.4 2457.6 1207.3 2457.3 1212.6 2456.5C1217.8 2455.6 1223.0 2454.5 1229.7 2452.7C1236.4 2450.9 1244.9 2449.2 1252.5 2445.8C1260.1 2442.4 1267.8 2436.9 1275.4 2432.5C1283.0 2428.0 1290.6 2423.5 1298.2 2419.1C1305.8 2414.7 1314.4 2410.2 1321.0 2406.0C1327.7 2401.7 1333.4 2398.1 1338.2 2393.5C1342.9 2388.9 1346.3 2383.4 1349.6 2378.4C1352.9 2373.3 1355.3 2366.0 1358.1 2363.2C1361.0 2360.4 1363.2 2362.2 1366.7 2361.4C1370.2 2360.6 1375.3 2360.9 1378.9 2358.3C1382.5 2355.7 1385.2 2353.3 1388.4 2345.8C1391.5 2338.4 1394.7 2327.0 1397.9 2313.5C1401.0 2300.0 1404.2 2279.9 1407.3 2264.8C1410.5 2249.8 1413.6 2234.8 1416.8 2223.2C1419.9 2211.5 1423.1 2203.7 1426.2 2194.9C1429.4 2186.0 1432.6 2177.9 1435.7 2169.9C1438.9 2161.8 1442.0 2155.7 1445.2 2146.6C1448.3 2137.4 1451.5 2125.2 1454.6 2114.9C1457.8 2104.6 1461.6 2091.9 1464.1 2084.9C1466.6 2078.0 1467.9 2076.3 1469.8 2073.3C1471.7 2070.2 1473.2 2068.6 1475.5 2066.6C1477.7 2064.7 1480.2 2063.6 1483.0 2061.6C1485.9 2059.7 1489.7 2058.3 1492.5 2055.0C1495.3 2051.6 1497.5 2045.2 1500.1 2041.6C1502.6 2038.0 1505.4 2033.9 1507.6 2033.3C1509.8 2032.7 1511.7 2035.2 1513.3 2038.3C1514.9 2041.3 1515.8 2045.8 1517.1 2051.6C1518.4 2057.4 1519.6 2065.2 1520.9 2073.3C1522.1 2081.3 1523.4 2090.5 1524.7 2099.9C1525.9 2109.4 1527.2 2119.9 1528.5 2129.9C1529.7 2139.9 1531.0 2151.0 1532.2 2159.9C1533.5 2168.8 1534.8 2177.9 1536.0 2183.2C1537.3 2188.5 1538.4 2191.0 1539.8 2191.5C1541.2 2192.1 1543.0 2192.4 1544.5 2186.5C1546.1 2180.7 1547.5 2168.5 1549.3 2156.6C1551.0 2144.6 1553.1 2127.4 1555.0 2114.9C1556.8 2102.4 1558.9 2088.3 1560.6 2081.6C1562.4 2074.9 1563.8 2075.2 1565.4 2074.9C1566.9 2074.7 1568.4 2074.7 1570.1 2079.9C1571.8 2085.2 1573.9 2097.1 1575.8 2106.6C1577.7 2116.0 1579.6 2127.7 1581.5 2136.6C1583.3 2145.4 1585.2 2152.9 1587.1 2159.9C1589.0 2166.8 1590.9 2173.5 1592.8 2178.2C1594.7 2182.9 1596.3 2185.4 1598.5 2188.2C1600.7 2191.0 1603.5 2191.8 1606.1 2194.9C1608.6 2197.9 1611.4 2201.2 1613.6 2206.5C1615.8 2211.8 1617.4 2218.2 1619.3 2226.5C1621.2 2234.8 1623.1 2244.6 1625.0 2256.5C1626.9 2268.4 1629.0 2275.2 1630.7 2298.1C1632.3 2321.0 1633.5 2373.8 1634.8 2393.8C1636.1 2413.9 1637.2 2409.9 1638.6 2418.7C1640.0 2427.5 1641.5 2438.3 1643.3 2446.8C1645.0 2455.4 1647.0 2464.0 1648.9 2470.0C1650.8 2476.1 1652.7 2480.2 1654.6 2483.3C1656.4 2486.3 1658.8 2487.4 1660.2 2488.3C1661.6 2489.1 1661.9 2488.9 1663.0 2488.6C1664.1 2488.3 1665.4 2488.6 1666.8 2486.6C1668.2 2484.6 1669.8 2481.6 1671.5 2476.7C1673.2 2471.7 1675.3 2464.2 1677.2 2456.8C1679.0 2449.3 1680.9 2439.4 1682.8 2431.9C1684.7 2424.5 1686.7 2416.9 1688.4 2412.1C1690.2 2407.2 1691.9 2404.8 1693.1 2403.0C1694.4 2401.2 1695.0 2401.3 1696.0 2401.3C1696.9 2401.3 1697.5 2400.9 1698.8 2403.0C1700.1 2405.0 1701.9 2408.9 1703.5 2413.7C1705.1 2418.6 1706.5 2425.6 1708.2 2431.9C1709.9 2438.3 1712.0 2446.0 1713.9 2451.8C1715.7 2457.6 1717.6 2462.7 1719.5 2466.7C1721.4 2470.7 1723.1 2473.8 1725.1 2475.8C1727.2 2477.9 1729.5 2479.0 1731.7 2479.1C1733.9 2479.3 1736.1 2478.5 1738.3 2476.7C1740.5 2474.9 1742.9 2471.4 1744.9 2468.4C1746.9 2465.3 1749.1 2460.9 1750.6 2458.4C1752.0 2456.0 1752.9 2454.3 1753.4 2453.5" stroke="#0000ff"/>
<path d="M1138.4 2483.3C1139.8 2484.1 1143.9 2487.2 1146.9 2488.5C1150.0 2489.8 1153.1 2491.6 1156.6 2491.2C1160.1 2490.7 1164.4 2489.4 1168.0 2485.9C1171.7 2482.4 1175.0 2474.5 1178.3 2470.1C1181.6 2465.7 1184.7 2461.4 1188.0 2459.5C1191.4 2457.6 1194.2 2458.9 1198.3 2458.5C1202.4 2458.0 1207.3 2457.8 1212.6 2456.9C1217.8 2456.0 1223.0 2454.9 1229.7 2453.2C1236.4 2451.4 1244.9 2449.7 1252.5 2446.3C1260.1 2443.0 1267.8 2437.5 1275.4 2433.1C1283.0 2428.7 1290.6 2424.3 1298.2 2419.9C1305.8 2415.6 1314.4 2411.1 1321.0 2407.0C1327.7 2402.8 1333.4 2399.3 1338.2 2394.8C1342.9 2390.3 1346.3 2384.9 1349.6 2379.9C1352.9 2375.0 1355.3 2367.8 1358.1 2365.0C1361.0 2362.3 1363.2 2364.1 1366.7 2363.4C1370.2 2362.6 1375.3 2363.0 1378.9 2360.6C1382.5 2358.1 1385.2 2355.8 1388.4 2348.5C1391.5 2341.3 1394.7 2330.1 1397.9 2317.0C1401.0 2303.8 1404.2 2284.2 1407.3 2269.5C1410.5 2254.8 1413.6 2240.2 1416.8 2228.7C1419.9 2217.3 1423.1 2209.7 1426.2 2201.0C1429.4 2192.3 1432.6 2184.4 1435.7 2176.5C1438.9 2168.7 1442.0 2162.7 1445.2 2153.7C1448.3 2144.7 1451.5 2132.8 1454.6 2122.7C1457.8 2112.6 1461.6 2100.1 1464.1 2093.3C1466.6 2086.5 1467.9 2084.9 1469.8 2081.9C1471.7 2078.9 1473.2 2077.3 1475.5 2075.4C1477.7 2073.5 1480.2 2072.4 1483.0 2070.5C1485.9 2068.6 1489.7 2067.2 1492.5 2064.0C1495.3 2060.7 1497.5 2054.4 1500.1 2050.9C1502.6 2047.4 1505.4 2043.3 1507.6 2042.7C1509.8 2042.2 1511.7 2044.7 1513.3 2047.6C1514.9 2050.6 1515.8 2055.0 1517.1 2060.7C1518.4 2066.4 1519.6 2074.0 1520.9 2081.9C1522.1 2089.8 1523.4 2098.8 1524.7 2108.0C1525.9 2117.3 1527.2 2127.6 1528.5 2137.4C1529.7 2147.2 1531.0 2158.0 1532.2 2166.7C1533.5 2175.4 1534.8 2184.4 1536.0 2189.6C1537.3 2194.8 1538.4 2197.2 1539.8 2197.7C1541.2 2198.3 1543.0 2198.6 1544.5 2192.9C1546.1 2187.1 1547.5 2175.2 1549.3 2163.5C1551.0 2151.8 1553.1 2134.9 1555.0 2122.7C1556.8 2110.5 1558.9 2096.6 1560.6 2090.1C1562.4 2083.5 1563.8 2083.8 1565.4 2083.5C1566.9 2083.3 1568.4 2083.3 1570.1 2088.4C1571.8 2093.6 1573.9 2105.3 1575.8 2114.5C1577.7 2123.8 1579.6 2135.2 1581.5 2143.9C1583.3 2152.6 1585.2 2159.9 1587.1 2166.7C1589.0 2173.5 1590.9 2180.1 1592.8 2184.7C1594.7 2189.3 1596.3 2191.8 1598.5 2194.5C1600.7 2197.2 1603.5 2198.0 1606.1 2201.0C1608.6 2204.0 1611.4 2207.3 1613.6 2212.4C1615.8 2217.6 1617.4 2223.9 1619.3 2232.0C1621.2 2240.2 1623.1 2249.7 1625.0 2261.4C1626.9 2273.1 1629.0 2279.7 1630.7 2302.2C1632.3 2324.6 1633.5 2376.2 1634.8 2395.9C1636.1 2415.6 1637.2 2411.6 1638.6 2420.3C1640.0 2428.9 1641.5 2439.5 1643.3 2447.8C1645.0 2456.2 1647.0 2464.6 1648.9 2470.6C1650.8 2476.5 1652.7 2480.6 1654.6 2483.5C1656.4 2486.5 1658.8 2487.5 1660.2 2488.4C1661.6 2489.3 1661.9 2489.0 1663.0 2488.7C1664.1 2488.5 1665.4 2488.7 1666.8 2486.8C1668.2 2484.8 1669.8 2481.9 1671.5 2477.0C1673.2 2472.2 1675.3 2464.9 1677.2 2457.6C1679.0 2450.3 1680.9 2440.5 1682.8 2433.2C1684.7 2425.9 1686.7 2418.5 1688.4 2413.8C1690.2 2409.0 1691.9 2406.6 1693.1 2404.8C1694.4 2403.1 1695.0 2403.2 1696.0 2403.2C1696.9 2403.2 1697.5 2402.8 1698.8 2404.8C1700.1 2406.9 1701.9 2410.7 1703.5 2415.4C1705.1 2420.1 1706.5 2427.0 1708.2 2433.2C1709.9 2439.5 1712.0 2447.0 1713.9 2452.7C1715.7 2458.4 1717.6 2463.4 1719.5 2467.3C1721.4 2471.2 1723.1 2474.2 1725.1 2476.2C1727.2 2478.3 1729.5 2479.3 1731.7 2479.5C1733.9 2479.6 1736.1 2478.8 1738.3 2477.0C1740.5 2475.3 1742.9 2471.9 1744.9 2468.9C1746.9 2466.0 1749.1 2461.6 1750.6 2459.2C1752.0 2456.8 1752.9 2455.1 1753.4 2454.3" stroke="#ff00ff"/>
<path d="M1138.4 2483.3C1139.8 2484.2 1143.9 2487.2 1146.9 2488.5C1150.0 2489.9 1153.1 2491.6 1156.6 2491.2C1160.1 2490.7 1164.4 2489.4 1168.0 2485.9C1171.7 2482.4 1175.0 2474.5 1178.3 2470.1C1181.6 2465.7 1184.7 2461.5 1188.0 2459.6C1191.4 2457.7 1194.2 2459.0 1198.3 2458.5C1202.4 2458.1 1207.3 2457.8 1212.6 2457.0C1217.8 2456.1 1223.0 2455.0 1229.7 2453.3C1236.4 2451.5 1244.9 2449.8 1252.5 2446.4C1260.1 2443.1 1267.8 2437.7 1275.4 2433.3C1283.0 2428.9 1290.6 2424.5 1298.2 2420.1C1305.8 2415.8 1314.4 2411.3 1321.0 2407.2C1327.7 2403.0 1333.4 2399.6 1338.2 2395.1C1342.9 2390.6 1346.3 2385.2 1349.6 2380.3C1352.9 2375.3 1355.3 2368.2 1358.1 2365.4C1361.0 2362.7 1363.2 2364.5 1366.7 2363.8C1370.2 2363.1 1375.3 2363.5 1378.9 2361.1C1382.5 2358.6 1385.2 2356.3 1388.4 2349.1C1391.5 2341.9 1394.7 2330.8 1397.9 2317.8C1401.0 2304.7 1404.2 2285.2 1407.3 2270.6C1410.5 2256.0 1413.6 2241.4 1416.8 2230.0C1419.9 2218.6 1423.1 2211.0 1426.2 2202.4C1429.4 2193.7 1432.6 2185.9 1435.7 2178.0C1438.9 2170.2 1442.0 2164.2 1445.2 2155.3C1448.3 2146.3 1451.5 2134.4 1454.6 2124.4C1457.8 2114.4 1461.6 2102.0 1464.1 2095.2C1466.6 2088.4 1467.9 2086.8 1469.8 2083.8C1471.7 2080.8 1473.2 2079.2 1475.5 2077.3C1477.7 2075.4 1480.2 2074.4 1483.0 2072.5C1485.9 2070.6 1489.7 2069.2 1492.5 2066.0C1495.3 2062.7 1497.5 2056.5 1500.1 2053.0C1502.6 2049.5 1505.4 2045.4 1507.6 2044.9C1509.8 2044.3 1511.7 2046.7 1513.3 2049.7C1514.9 2052.7 1515.8 2057.0 1517.1 2062.7C1518.4 2068.4 1519.6 2076.0 1520.9 2083.8C1522.1 2091.7 1523.4 2100.6 1524.7 2109.8C1525.9 2119.0 1527.2 2129.3 1528.5 2139.0C1529.7 2148.8 1531.0 2159.6 1532.2 2168.3C1533.5 2176.9 1534.8 2185.9 1536.0 2191.0C1537.3 2196.2 1538.4 2198.6 1539.8 2199.1C1541.2 2199.7 1543.0 2199.9 1544.5 2194.3C1546.1 2188.6 1547.5 2176.7 1549.3 2165.0C1551.0 2153.4 1553.1 2136.6 1555.0 2124.4C1556.8 2112.2 1558.9 2098.4 1560.6 2091.9C1562.4 2085.4 1563.8 2085.7 1565.4 2085.4C1566.9 2085.2 1568.4 2085.2 1570.1 2090.3C1571.8 2095.5 1573.9 2107.1 1575.8 2116.3C1577.7 2125.5 1579.6 2136.9 1581.5 2145.5C1583.3 2154.2 1585.2 2161.5 1587.1 2168.3C1589.0 2175.0 1590.9 2181.5 1592.8 2186.1C1594.7 2190.7 1596.3 2193.2 1598.5 2195.9C1600.7 2198.6 1603.5 2199.4 1606.1 2202.4C1608.6 2205.4 1611.4 2208.6 1613.6 2213.7C1615.8 2218.9 1617.4 2225.1 1619.3 2233.2C1621.2 2241.4 1623.1 2250.8 1625.0 2262.5C1626.9 2274.1 1629.0 2280.7 1630.7 2303.1C1632.3 2325.4 1633.5 2376.8 1634.8 2396.4C1636.1 2416.0 1637.2 2412.0 1638.6 2420.6C1640.0 2429.2 1641.5 2439.7 1643.3 2448.1C1645.0 2456.4 1647.0 2464.7 1648.9 2470.7C1650.8 2476.6 1652.7 2480.6 1654.6 2483.6C1656.4 2486.5 1658.8 2487.6 1660.2 2488.4C1661.6 2489.3 1661.9 2489.0 1663.0 2488.8C1664.1 2488.5 1665.4 2488.8 1666.8 2486.8C1668.2 2484.9 1669.8 2482.0 1671.5 2477.1C1673.2 2472.3 1675.3 2465.0 1677.2 2457.7C1679.0 2450.5 1680.9 2440.8 1682.8 2433.5C1684.7 2426.3 1686.7 2418.9 1688.4 2414.1C1690.2 2409.4 1691.9 2407.0 1693.1 2405.3C1694.4 2403.5 1695.0 2403.7 1696.0 2403.7C1696.9 2403.7 1697.5 2403.2 1698.8 2405.3C1700.1 2407.3 1701.9 2411.1 1703.5 2415.8C1705.1 2420.5 1706.5 2427.3 1708.2 2433.5C1709.9 2439.7 1712.0 2447.3 1713.9 2452.9C1715.7 2458.6 1717.6 2463.5 1719.5 2467.4C1721.4 2471.3 1723.1 2474.3 1725.1 2476.3C1727.2 2478.3 1729.5 2479.4 1731.7 2479.5C1733.9 2479.7 1736.1 2478.9 1738.3 2477.1C1740.5 2475.4 1742.9 2472.0 1744.9 2469.1C1746.9 2466.1 1749.1 2461.8 1750.6 2459.4C1752.0 2456.9 1752.9 2455.3 1753.4 2454.5" stroke="#008000"/>
<path d="M1138.4 2483.4C1139.8 2484.2 1143.9 2487.3 1146.9 2488.6C1150.0 2489.9 1153.1 2491.6 1156.6 2491.2C1160.1 2490.8 1164.4 2489.5 1168.0 2486.0C1171.7 2482.5 1175.0 2474.7 1178.3 2470.3C1181.6 2466.0 1184.7 2461.8 1188.0 2459.9C1191.4 2458.0 1194.2 2459.3 1198.3 2458.8C1202.4 2458.4 1207.3 2458.1 1212.6 2457.3C1217.8 2456.4 1223.0 2455.3 1229.7 2453.6C1236.4 2451.9 1244.9 2450.1 1252.5 2446.8C1260.1 2443.5 1267.8 2438.1 1275.4 2433.8C1283.0 2429.4 1290.6 2425.0 1298.2 2420.7C1305.8 2416.4 1314.4 2412.0 1321.0 2407.9C1327.7 2403.8 1333.4 2400.4 1338.2 2396.0C1342.9 2391.6 1346.3 2386.2 1349.6 2381.4C1352.9 2376.5 1355.3 2369.5 1358.1 2366.8C1361.0 2364.1 1363.2 2365.9 1366.7 2365.3C1370.2 2364.6 1375.3 2365.1 1378.9 2362.7C1382.5 2360.3 1385.2 2358.1 1388.4 2351.0C1391.5 2344.0 1394.7 2333.1 1397.9 2320.3C1401.0 2307.4 1404.2 2288.4 1407.3 2274.0C1410.5 2259.6 1413.6 2245.2 1416.8 2234.0C1419.9 2222.8 1423.1 2215.3 1426.2 2206.8C1429.4 2198.3 1432.6 2190.6 1435.7 2182.8C1438.9 2175.1 1442.0 2169.2 1445.2 2160.4C1448.3 2151.6 1451.5 2139.9 1454.6 2130.0C1457.8 2120.2 1461.6 2107.9 1464.1 2101.3C1466.6 2094.6 1467.9 2093.0 1469.8 2090.1C1471.7 2087.1 1473.2 2085.5 1475.5 2083.7C1477.7 2081.8 1480.2 2080.7 1483.0 2078.9C1485.9 2077.0 1489.7 2075.7 1492.5 2072.5C1495.3 2069.3 1497.5 2063.1 1500.1 2059.7C1502.6 2056.2 1505.4 2052.2 1507.6 2051.7C1509.8 2051.1 1511.7 2053.5 1513.3 2056.5C1514.9 2059.4 1515.8 2063.7 1517.1 2069.3C1518.4 2074.9 1519.6 2082.3 1520.9 2090.1C1522.1 2097.8 1523.4 2106.6 1524.7 2115.7C1525.9 2124.7 1527.2 2134.8 1528.5 2144.4C1529.7 2154.0 1531.0 2164.7 1532.2 2173.2C1533.5 2181.8 1534.8 2190.6 1536.0 2195.6C1537.3 2200.7 1538.4 2203.1 1539.8 2203.6C1541.2 2204.2 1543.0 2204.4 1544.5 2198.8C1546.1 2193.2 1547.5 2181.5 1549.3 2170.0C1551.0 2158.6 1553.1 2142.0 1555.0 2130.0C1556.8 2118.1 1558.9 2104.5 1560.6 2098.1C1562.4 2091.7 1563.8 2091.9 1565.4 2091.7C1566.9 2091.4 1568.4 2091.4 1570.1 2096.5C1571.8 2101.5 1573.9 2113.0 1575.8 2122.0C1577.7 2131.1 1579.6 2142.3 1581.5 2150.8C1583.3 2159.4 1585.2 2166.6 1587.1 2173.2C1589.0 2179.9 1590.9 2186.3 1592.8 2190.8C1594.7 2195.4 1596.3 2197.8 1598.5 2200.4C1600.7 2203.1 1603.5 2203.9 1606.1 2206.8C1608.6 2209.7 1611.4 2212.9 1613.6 2218.0C1615.8 2223.1 1617.4 2229.2 1619.3 2237.2C1621.2 2245.2 1623.1 2254.5 1625.0 2266.0C1626.9 2277.5 1629.0 2284.0 1630.7 2306.0C1632.3 2328.0 1633.5 2378.6 1634.8 2397.9C1636.1 2417.2 1637.2 2413.3 1638.6 2421.7C1640.0 2430.2 1641.5 2440.6 1643.3 2448.8C1645.0 2457.0 1647.0 2465.2 1648.9 2471.0C1650.8 2476.9 1652.7 2480.8 1654.6 2483.8C1656.4 2486.7 1658.8 2487.7 1660.2 2488.5C1661.6 2489.4 1661.9 2489.1 1663.0 2488.9C1664.1 2488.6 1665.4 2488.9 1666.8 2486.9C1668.2 2485.0 1669.8 2482.2 1671.5 2477.4C1673.2 2472.6 1675.3 2465.5 1677.2 2458.3C1679.0 2451.2 1680.9 2441.6 1682.8 2434.5C1684.7 2427.3 1686.7 2420.0 1688.4 2415.4C1690.2 2410.7 1691.9 2408.4 1693.1 2406.6C1694.4 2404.9 1695.0 2405.0 1696.0 2405.0C1696.9 2405.0 1697.5 2404.6 1698.8 2406.6C1700.1 2408.6 1701.9 2412.3 1703.5 2417.0C1705.1 2421.6 1706.5 2428.4 1708.2 2434.5C1709.9 2440.6 1712.0 2448.0 1713.9 2453.5C1715.7 2459.1 1717.6 2464.0 1719.5 2467.9C1721.4 2471.7 1723.1 2474.6 1725.1 2476.6C1727.2 2478.6 1729.5 2479.7 1731.7 2479.8C1733.9 2479.9 1736.1 2479.1 1738.3 2477.4C1740.5 2475.7 1742.9 2472.4 1744.9 2469.5C1746.9 2466.5 1749.1 2462.3 1750.6 2459.9C1752.0 2457.5 1752.9 2455.9 1753.4 2455.1" stroke="#000080"/>
<path d="M1138.4 2483.5C1139.8 2484.3 1143.9 2487.4 1146.9 2488.7C1150.0 2490.0 1153.1 2491.7 1156.6 2491.2C1160.1 2490.8 1164.4 2489.5 1168.0 2486.1C1171.7 2482.6 1175.0 2474.9 1178.3 2470.5C1181.6 2466.2 1184.7 2462.1 1188.0 2460.2C1191.4 2458.3 1194.2 2459.6 1198.3 2459.2C1202.4 2458.7 1207.3 2458.5 1212.6 2457.6C1217.8 2456.7 1223.0 2455.7 1229.7 2454.0C1236.4 2452.3 1244.9 2450.5 1252.5 2447.3C1260.1 2444.0 1267.8 2438.6 1275.4 2434.3C1283.0 2430.0 1290.6 2425.7 1298.2 2421.4C1305.8 2417.1 1314.4 2412.8 1321.0 2408.7C1327.7 2404.6 1333.4 2401.4 1338.2 2397.0C1342.9 2392.7 1346.3 2387.4 1349.6 2382.7C1352.9 2377.9 1355.3 2370.9 1358.1 2368.3C1361.0 2365.7 1363.2 2367.5 1366.7 2366.9C1370.2 2366.3 1375.3 2366.9 1378.9 2364.6C1382.5 2362.3 1385.2 2360.2 1388.4 2353.3C1391.5 2346.4 1394.7 2335.8 1397.9 2323.2C1401.0 2310.6 1404.2 2292.0 1407.3 2277.9C1410.5 2263.8 1413.6 2249.6 1416.8 2238.6C1419.9 2227.6 1423.1 2220.3 1426.2 2211.9C1429.4 2203.6 1432.6 2196.0 1435.7 2188.4C1438.9 2180.8 1442.0 2175.0 1445.2 2166.4C1448.3 2157.7 1451.5 2146.2 1454.6 2136.5C1457.8 2126.8 1461.6 2114.8 1464.1 2108.3C1466.6 2101.7 1467.9 2100.1 1469.8 2097.3C1471.7 2094.4 1473.2 2092.8 1475.5 2091.0C1477.7 2089.1 1480.2 2088.1 1483.0 2086.3C1485.9 2084.4 1489.7 2083.1 1492.5 2080.0C1495.3 2076.8 1497.5 2070.8 1500.1 2067.4C1502.6 2064.0 1505.4 2060.1 1507.6 2059.6C1509.8 2059.0 1511.7 2061.4 1513.3 2064.3C1514.9 2067.1 1515.8 2071.3 1517.1 2076.8C1518.4 2082.3 1519.6 2089.7 1520.9 2097.3C1522.1 2104.9 1523.4 2113.5 1524.7 2122.4C1525.9 2131.3 1527.2 2141.2 1528.5 2150.7C1529.7 2160.1 1531.0 2170.6 1532.2 2178.9C1533.5 2187.3 1534.8 2196.0 1536.0 2200.9C1537.3 2205.9 1538.4 2208.3 1539.8 2208.8C1541.2 2209.3 1543.0 2209.6 1544.5 2204.1C1546.1 2198.6 1547.5 2187.1 1549.3 2175.8C1551.0 2164.5 1553.1 2148.3 1555.0 2136.5C1556.8 2124.7 1558.9 2111.4 1560.6 2105.1C1562.4 2098.8 1563.8 2099.1 1565.4 2098.8C1566.9 2098.6 1568.4 2098.6 1570.1 2103.5C1571.8 2108.5 1573.9 2119.8 1575.8 2128.7C1577.7 2137.6 1579.6 2148.6 1581.5 2157.0C1583.3 2165.3 1585.2 2172.4 1587.1 2178.9C1589.0 2185.5 1590.9 2191.8 1592.8 2196.2C1594.7 2200.7 1596.3 2203.0 1598.5 2205.7C1600.7 2208.3 1603.5 2209.1 1606.1 2211.9C1608.6 2214.8 1611.4 2218.0 1613.6 2222.9C1615.8 2227.9 1617.4 2233.9 1619.3 2241.8C1621.2 2249.6 1623.1 2258.8 1625.0 2270.1C1626.9 2281.3 1629.0 2287.7 1630.7 2309.3C1632.3 2330.9 1633.5 2380.7 1634.8 2399.6C1636.1 2418.6 1637.2 2414.7 1638.6 2423.0C1640.0 2431.4 1641.5 2441.5 1643.3 2449.6C1645.0 2457.7 1647.0 2465.7 1648.9 2471.5C1650.8 2477.2 1652.7 2481.1 1654.6 2484.0C1656.4 2486.8 1658.8 2487.8 1660.2 2488.7C1661.6 2489.5 1661.9 2489.2 1663.0 2489.0C1664.1 2488.7 1665.4 2489.0 1666.8 2487.1C1668.2 2485.2 1669.8 2482.4 1671.5 2477.7C1673.2 2473.0 1675.3 2466.0 1677.2 2459.0C1679.0 2451.9 1680.9 2442.6 1682.8 2435.5C1684.7 2428.5 1686.7 2421.4 1688.4 2416.8C1690.2 2412.2 1691.9 2409.9 1693.1 2408.2C1694.4 2406.5 1695.0 2406.6 1696.0 2406.6C1696.9 2406.6 1697.5 2406.3 1698.8 2408.2C1700.1 2410.2 1701.9 2413.8 1703.5 2418.4C1705.1 2422.9 1706.5 2429.6 1708.2 2435.5C1709.9 2441.5 1712.0 2448.8 1713.9 2454.3C1715.7 2459.8 1717.6 2464.6 1719.5 2468.4C1721.4 2472.1 1723.1 2475.0 1725.1 2476.9C1727.2 2478.9 1729.5 2479.9 1731.7 2480.1C1733.9 2480.2 1736.1 2479.4 1738.3 2477.7C1740.5 2476.0 1742.9 2472.8 1744.9 2469.9C1746.9 2467.0 1749.1 2462.9 1750.6 2460.5C1752.0 2458.2 1752.9 2456.6 1753.4 2455.9" stroke="#8000ff"/>
<path d="M1138.4 2483.8C1139.8 2484.6 1143.9 2487.6 1146.9 2488.8C1150.0 2490.1 1153.1 2491.8 1156.6 2491.3C1160.1 2490.9 1164.4 2489.7 1168.0 2486.3C1171.7 2482.9 1175.0 2475.4 1178.3 2471.1C1181.6 2466.9 1184.7 2462.9 1188.0 2461.0C1191.4 2459.2 1194.2 2460.5 1198.3 2460.0C1202.4 2459.6 1207.3 2459.4 1212.6 2458.5C1217.8 2457.7 1223.0 2456.7 1229.7 2455.0C1236.4 2453.3 1244.9 2451.6 1252.5 2448.4C1260.1 2445.2 1267.8 2440.0 1275.4 2435.8C1283.0 2431.6 1290.6 2427.3 1298.2 2423.2C1305.8 2419.0 1314.4 2414.8 1321.0 2410.9C1327.7 2407.0 1333.4 2403.9 1338.2 2399.8C1342.9 2395.7 1346.3 2390.7 1349.6 2386.1C1352.9 2381.5 1355.3 2374.8 1358.1 2372.4C1361.0 2369.9 1363.2 2371.8 1366.7 2371.3C1370.2 2370.9 1375.3 2371.7 1378.9 2369.6C1382.5 2367.6 1385.2 2365.7 1388.4 2359.2C1391.5 2352.8 1394.7 2342.8 1397.9 2331.0C1401.0 2319.2 1404.2 2301.7 1407.3 2288.4C1410.5 2275.1 1413.6 2261.5 1416.8 2251.0C1419.9 2240.6 1423.1 2233.6 1426.2 2225.6C1429.4 2217.6 1432.6 2210.4 1435.7 2203.2C1438.9 2195.9 1442.0 2190.5 1445.2 2182.2C1448.3 2174.0 1451.5 2163.0 1454.6 2153.8C1457.8 2144.6 1461.6 2133.1 1464.1 2126.9C1466.6 2120.7 1467.9 2119.2 1469.8 2116.4C1471.7 2113.7 1473.2 2112.2 1475.5 2110.5C1477.7 2108.7 1480.2 2107.7 1483.0 2106.0C1485.9 2104.2 1489.7 2103.0 1492.5 2100.0C1495.3 2097.0 1497.5 2091.3 1500.1 2088.0C1502.6 2084.8 1505.4 2081.1 1507.6 2080.6C1509.8 2080.1 1511.7 2082.3 1513.3 2085.0C1514.9 2087.8 1515.8 2091.8 1517.1 2097.0C1518.4 2102.2 1519.6 2109.2 1520.9 2116.4C1522.1 2123.7 1523.4 2131.9 1524.7 2140.4C1525.9 2148.8 1527.2 2158.3 1528.5 2167.3C1529.7 2176.3 1531.0 2186.2 1532.2 2194.2C1533.5 2202.2 1534.8 2210.4 1536.0 2215.1C1537.3 2219.9 1538.4 2222.1 1539.8 2222.6C1541.2 2223.1 1543.0 2223.4 1544.5 2218.1C1546.1 2212.9 1547.5 2201.9 1549.3 2191.2C1551.0 2180.5 1553.1 2165.0 1555.0 2153.8C1556.8 2142.6 1558.9 2129.9 1560.6 2123.9C1562.4 2117.9 1563.8 2118.2 1565.4 2117.9C1566.9 2117.7 1568.4 2117.7 1570.1 2122.4C1571.8 2127.2 1573.9 2137.9 1575.8 2146.4C1577.7 2154.8 1579.6 2165.3 1581.5 2173.3C1583.3 2181.2 1585.2 2188.0 1587.1 2194.2C1589.0 2200.4 1590.9 2206.4 1592.8 2210.6C1594.7 2214.9 1596.3 2217.1 1598.5 2219.6C1600.7 2222.1 1603.5 2222.9 1606.1 2225.6C1608.6 2228.3 1611.4 2231.3 1613.6 2236.1C1615.8 2240.8 1617.4 2246.5 1619.3 2254.0C1621.2 2261.5 1623.1 2270.2 1625.0 2280.9C1626.9 2291.6 1629.0 2297.8 1630.7 2318.3C1632.3 2338.9 1633.5 2386.2 1634.8 2404.2C1636.1 2422.3 1637.2 2418.6 1638.6 2426.5C1640.0 2434.5 1641.5 2444.1 1643.3 2451.8C1645.0 2459.5 1647.0 2467.2 1648.9 2472.6C1650.8 2478.1 1652.7 2481.8 1654.6 2484.5C1656.4 2487.2 1658.8 2488.2 1660.2 2489.0C1661.6 2489.8 1661.9 2489.5 1663.0 2489.3C1664.1 2489.0 1665.4 2489.3 1666.8 2487.5C1668.2 2485.7 1669.8 2483.0 1671.5 2478.6C1673.2 2474.1 1675.3 2467.4 1677.2 2460.7C1679.0 2454.0 1680.9 2445.1 1682.8 2438.4C1684.7 2431.7 1686.7 2424.9 1688.4 2420.6C1690.2 2416.3 1691.9 2414.0 1693.1 2412.4C1694.4 2410.8 1695.0 2410.9 1696.0 2410.9C1696.9 2410.9 1697.5 2410.6 1698.8 2412.4C1700.1 2414.3 1701.9 2417.7 1703.5 2422.1C1705.1 2426.4 1706.5 2432.7 1708.2 2438.4C1709.9 2444.1 1712.0 2451.1 1713.9 2456.3C1715.7 2461.5 1717.6 2466.1 1719.5 2469.7C1721.4 2473.2 1723.1 2476.0 1725.1 2477.8C1727.2 2479.7 1729.5 2480.7 1731.7 2480.8C1733.9 2480.9 1736.1 2480.2 1738.3 2478.6C1740.5 2477.0 1742.9 2473.9 1744.9 2471.1C1746.9 2468.4 1749.1 2464.5 1750.6 2462.2C1752.0 2460.0 1752.9 2458.5 1753.4 2457.8" stroke="#800080"/>
<path d="M1138.4 2484.2C1139.8 2485.0 1143.9 2487.8 1146.9 2489.0C1150.0 2490.3 1153.1 2491.9 1156.6 2491.5C1160.1 2491.1 1164.4 2489.9 1168.0 2486.6C1171.7 2483.4 1175.0 2476.0 1178.3 2472.0C1181.6 2467.9 1184.7 2464.0 1188.0 2462.2C1191.4 2460.4 1194.2 2461.7 1198.3 2461.2C1202.4 2460.8 1207.3 2460.6 1212.6 2459.8C1217.8 2459.0 1223.0 2458.0 1229.7 2456.4C1236.4 2454.7 1244.9 2453.1 1252.5 2450.0C1260.1 2446.9 1267.8 2441.9 1275.4 2437.8C1283.0 2433.8 1290.6 2429.6 1298.2 2425.6C1305.8 2421.6 1314.4 2417.5 1321.0 2413.8C1327.7 2410.2 1333.4 2407.5 1338.2 2403.6C1342.9 2399.8 1346.3 2395.1 1349.6 2390.8C1352.9 2386.5 1355.3 2380.2 1358.1 2378.0C1361.0 2375.8 1363.2 2377.7 1366.7 2377.4C1370.2 2377.2 1375.3 2378.2 1378.9 2376.6C1382.5 2374.9 1385.2 2373.2 1388.4 2367.4C1391.5 2361.6 1394.7 2352.4 1397.9 2341.7C1401.0 2330.9 1404.2 2315.1 1407.3 2302.8C1410.5 2290.5 1413.6 2277.8 1416.8 2268.0C1419.9 2258.3 1423.1 2251.8 1426.2 2244.4C1429.4 2237.0 1432.6 2230.2 1435.7 2223.5C1438.9 2216.8 1442.0 2211.7 1445.2 2204.0C1448.3 2196.4 1451.5 2186.2 1454.6 2177.6C1457.8 2169.0 1461.6 2158.4 1464.1 2152.6C1466.6 2146.8 1467.9 2145.4 1469.8 2142.8C1471.7 2140.3 1473.2 2138.9 1475.5 2137.3C1477.7 2135.6 1480.2 2134.7 1483.0 2133.1C1485.9 2131.5 1489.7 2130.3 1492.5 2127.5C1495.3 2124.7 1497.5 2119.4 1500.1 2116.4C1502.6 2113.4 1505.4 2109.9 1507.6 2109.4C1509.8 2109.0 1511.7 2111.1 1513.3 2113.6C1514.9 2116.2 1515.8 2119.9 1517.1 2124.7C1518.4 2129.6 1519.6 2136.1 1520.9 2142.8C1522.1 2149.6 1523.4 2157.2 1524.7 2165.1C1525.9 2173.0 1527.2 2181.8 1528.5 2190.1C1529.7 2198.5 1531.0 2207.7 1532.2 2215.2C1533.5 2222.6 1534.8 2230.2 1536.0 2234.6C1537.3 2239.1 1538.4 2241.1 1539.8 2241.6C1541.2 2242.1 1543.0 2242.3 1544.5 2237.4C1546.1 2232.6 1547.5 2222.4 1549.3 2212.4C1551.0 2202.4 1553.1 2188.0 1555.0 2177.6C1556.8 2167.2 1558.9 2155.3 1560.6 2149.8C1562.4 2144.2 1563.8 2144.5 1565.4 2144.2C1566.9 2144.0 1568.4 2144.0 1570.1 2148.4C1571.8 2152.8 1573.9 2162.8 1575.8 2170.7C1577.7 2178.5 1579.6 2188.3 1581.5 2195.7C1583.3 2203.1 1585.2 2209.4 1587.1 2215.2C1589.0 2221.0 1590.9 2226.5 1592.8 2230.5C1594.7 2234.4 1596.3 2236.5 1598.5 2238.8C1600.7 2241.1 1603.5 2241.8 1606.1 2244.4C1608.6 2246.9 1611.4 2249.7 1613.6 2254.1C1615.8 2258.5 1617.4 2263.9 1619.3 2270.8C1621.2 2277.8 1623.1 2285.9 1625.0 2295.9C1626.9 2305.8 1629.0 2311.5 1630.7 2330.6C1632.3 2349.8 1633.5 2393.8 1634.8 2410.6C1636.1 2427.4 1637.2 2424.0 1638.6 2431.3C1640.0 2438.7 1641.5 2447.7 1643.3 2454.8C1645.0 2462.0 1647.0 2469.1 1648.9 2474.2C1650.8 2479.3 1652.7 2482.7 1654.6 2485.3C1656.4 2487.8 1658.8 2488.7 1660.2 2489.4C1661.6 2490.2 1661.9 2489.9 1663.0 2489.7C1664.1 2489.5 1665.4 2489.7 1666.8 2488.0C1668.2 2486.4 1669.8 2483.9 1671.5 2479.7C1673.2 2475.6 1675.3 2469.4 1677.2 2463.1C1679.0 2456.9 1680.9 2448.6 1682.8 2442.4C1684.7 2436.2 1686.7 2429.8 1688.4 2425.8C1690.2 2421.8 1691.9 2419.7 1693.1 2418.2C1694.4 2416.7 1695.0 2416.8 1696.0 2416.8C1696.9 2416.8 1697.5 2416.5 1698.8 2418.2C1700.1 2419.9 1701.9 2423.1 1703.5 2427.2C1705.1 2431.2 1706.5 2437.1 1708.2 2442.4C1709.9 2447.7 1712.0 2454.2 1713.9 2459.0C1715.7 2463.8 1717.6 2468.1 1719.5 2471.4C1721.4 2474.8 1723.1 2477.3 1725.1 2479.1C1727.2 2480.8 1729.5 2481.7 1731.7 2481.8C1733.9 2481.9 1736.1 2481.2 1738.3 2479.7C1740.5 2478.2 1742.9 2475.4 1744.9 2472.8C1746.9 2470.3 1749.1 2466.6 1750.6 2464.5C1752.0 2462.5 1752.9 2461.1 1753.4 2460.4" stroke="#800000"/>
</g>
<rect x="1427" y="1964.5" width="121" height="208.0" fill="none" stroke="#262626" stroke-width="3.2" rx="1.5"/>
<line x1="1426" y1="2037" x2="1404.5" y2="2059" stroke="#111" stroke-width="2.6" marker-end="url(#ah)"/>
<rect x="1087" y="1924.5" width="315.5" height="249.5" fill="#fff" stroke="#c4c4c4" stroke-width="3.2" rx="1.5"/>
<clipPath id="ciE"><rect x="1088.7" y="1926.2" width="312.1" height="246.1"/></clipPath>
<g clip-path="url(#ciE)" fill="none" stroke-width="5.4" stroke-linejoin="round">
<path d="M1087.0 2154.0C1089.4 2151.1 1096.5 2142.6 1101.2 2136.9C1106.0 2131.2 1110.3 2125.9 1115.5 2119.7C1120.8 2113.6 1126.9 2108.3 1132.6 2099.8C1138.4 2091.2 1144.1 2079.3 1149.8 2068.4C1155.5 2057.4 1161.2 2044.1 1166.9 2034.1C1172.6 2024.1 1178.3 2014.9 1184.0 2008.4C1189.7 2001.9 1195.4 1998.4 1201.2 1995.3C1206.9 1992.1 1212.6 1991.5 1218.3 1989.6C1224.0 1987.7 1229.7 1986.4 1235.4 1983.9C1241.1 1981.3 1246.8 1978.2 1252.5 1974.2C1258.2 1970.2 1264.0 1964.2 1269.7 1959.9C1275.4 1955.6 1281.6 1950.8 1286.8 1948.5C1292.0 1946.1 1296.8 1945.1 1301.1 1945.6C1305.3 1946.1 1308.7 1947.0 1312.5 1951.3C1316.3 1955.6 1320.1 1962.3 1323.9 1971.3C1327.7 1980.3 1331.5 1992.2 1335.3 2005.6C1339.1 2018.9 1342.9 2035.1 1346.7 2051.2C1350.5 2067.4 1354.3 2087.4 1358.1 2102.6C1362.0 2117.8 1365.8 2132.1 1369.6 2142.6C1373.4 2153.0 1377.2 2160.8 1381.0 2165.4C1384.8 2170.0 1388.8 2170.5 1392.4 2170.0C1396.0 2169.5 1401.0 2163.8 1402.7 2162.6" stroke="#000000"/>
<path d="M1087.0 2194.9C1089.4 2192.3 1096.5 2184.7 1101.2 2179.6C1106.0 2174.5 1110.3 2169.9 1115.5 2164.4C1120.8 2158.9 1126.9 2154.2 1132.6 2146.6C1138.4 2139.0 1144.1 2128.4 1149.8 2118.7C1155.5 2108.9 1161.2 2097.1 1166.9 2088.2C1172.6 2079.3 1178.3 2071.1 1184.0 2065.3C1189.7 2059.6 1195.4 2056.4 1201.2 2053.7C1206.9 2050.9 1212.6 2050.3 1218.3 2048.6C1224.0 2046.9 1229.7 2045.8 1235.4 2043.5C1241.1 2041.2 1246.8 2038.4 1252.5 2034.9C1258.2 2031.3 1264.0 2026.0 1269.7 2022.2C1275.4 2018.4 1281.6 2014.1 1286.8 2012.0C1292.0 2009.9 1296.8 2009.0 1301.1 2009.5C1305.3 2009.9 1308.7 2010.7 1312.5 2014.5C1316.3 2018.4 1320.1 2024.3 1323.9 2032.3C1327.7 2040.4 1331.5 2050.9 1335.3 2062.8C1339.1 2074.6 1342.9 2089.0 1346.7 2103.4C1350.5 2117.8 1354.3 2135.6 1358.1 2149.1C1362.0 2162.7 1365.8 2175.4 1369.6 2184.7C1373.4 2194.0 1377.2 2201.0 1381.0 2205.0C1384.8 2209.1 1388.8 2209.5 1392.4 2209.1C1396.0 2208.7 1401.0 2203.6 1402.7 2202.5" stroke="#ff0000"/>
<path d="M1087.0 2199.9C1089.4 2197.4 1096.5 2189.9 1101.2 2184.9C1106.0 2179.9 1110.3 2175.3 1115.5 2169.9C1120.8 2164.5 1126.9 2159.9 1132.6 2152.4C1138.4 2144.9 1144.1 2134.5 1149.8 2124.9C1155.5 2115.3 1161.2 2103.7 1166.9 2094.9C1172.6 2086.2 1178.3 2078.1 1184.0 2072.4C1189.7 2066.7 1195.4 2063.7 1201.2 2060.9C1206.9 2058.2 1212.6 2057.6 1218.3 2055.9C1224.0 2054.2 1229.7 2053.2 1235.4 2050.9C1241.1 2048.7 1246.8 2045.9 1252.5 2042.4C1258.2 2038.9 1264.0 2033.6 1269.7 2029.9C1275.4 2026.1 1281.6 2022.0 1286.8 2019.9C1292.0 2017.8 1296.8 2017.0 1301.1 2017.4C1305.3 2017.8 1308.7 2018.6 1312.5 2022.4C1316.3 2026.1 1320.1 2032.0 1323.9 2039.9C1327.7 2047.8 1331.5 2058.2 1335.3 2069.9C1339.1 2081.6 1342.9 2095.7 1346.7 2109.9C1350.5 2124.1 1354.3 2141.6 1358.1 2154.9C1362.0 2168.3 1365.8 2180.8 1369.6 2189.9C1373.4 2199.1 1377.2 2205.9 1381.0 2209.9C1384.8 2213.9 1388.8 2214.4 1392.4 2213.9C1396.0 2213.5 1401.0 2208.5 1402.7 2207.4" stroke="#0000ff"/>
<path d="M1087.0 2204.9C1089.4 2202.4 1096.5 2195.0 1101.2 2190.1C1106.0 2185.2 1110.3 2180.7 1115.5 2175.4C1120.8 2170.0 1126.9 2165.5 1132.6 2158.1C1138.4 2150.7 1144.1 2140.5 1149.8 2131.0C1155.5 2121.6 1161.2 2110.1 1166.9 2101.5C1172.6 2092.9 1178.3 2084.9 1184.0 2079.3C1189.7 2073.7 1195.4 2070.7 1201.2 2068.0C1206.9 2065.3 1212.6 2064.7 1218.3 2063.1C1224.0 2061.4 1229.7 2060.4 1235.4 2058.1C1241.1 2055.9 1246.8 2053.2 1252.5 2049.8C1258.2 2046.3 1264.0 2041.2 1269.7 2037.5C1275.4 2033.8 1281.6 2029.7 1286.8 2027.6C1292.0 2025.6 1296.8 2024.7 1301.1 2025.2C1305.3 2025.6 1308.7 2026.4 1312.5 2030.1C1316.3 2033.8 1320.1 2039.5 1323.9 2047.3C1327.7 2055.1 1331.5 2065.4 1335.3 2076.9C1339.1 2088.4 1342.9 2102.3 1346.7 2116.3C1350.5 2130.2 1354.3 2147.4 1358.1 2160.6C1362.0 2173.7 1365.8 2186.0 1369.6 2195.0C1373.4 2204.1 1377.2 2210.8 1381.0 2214.7C1384.8 2218.7 1388.8 2219.1 1392.4 2218.7C1396.0 2218.3 1401.0 2213.4 1402.7 2212.3" stroke="#ff00ff"/>
<path d="M1087.0 2211.9C1089.4 2209.5 1096.5 2202.3 1101.2 2197.5C1106.0 2192.6 1110.3 2188.2 1115.5 2183.0C1120.8 2177.8 1126.9 2173.4 1132.6 2166.1C1138.4 2158.9 1144.1 2148.9 1149.8 2139.7C1155.5 2130.4 1161.2 2119.2 1166.9 2110.8C1172.6 2102.3 1178.3 2094.5 1184.0 2089.1C1189.7 2083.6 1195.4 2080.6 1201.2 2078.0C1206.9 2075.3 1212.6 2074.8 1218.3 2073.2C1224.0 2071.6 1229.7 2070.5 1235.4 2068.4C1241.1 2066.2 1246.8 2063.5 1252.5 2060.2C1258.2 2056.8 1264.0 2051.7 1269.7 2048.1C1275.4 2044.5 1281.6 2040.5 1286.8 2038.5C1292.0 2036.5 1296.8 2035.7 1301.1 2036.1C1305.3 2036.5 1308.7 2037.3 1312.5 2040.9C1316.3 2044.5 1320.1 2050.1 1323.9 2057.8C1327.7 2065.4 1331.5 2075.4 1335.3 2086.7C1339.1 2097.9 1342.9 2111.6 1346.7 2125.2C1350.5 2138.8 1354.3 2155.7 1358.1 2168.6C1362.0 2181.4 1365.8 2193.4 1369.6 2202.3C1373.4 2211.1 1377.2 2217.7 1381.0 2221.5C1384.8 2225.4 1388.8 2225.8 1392.4 2225.4C1396.0 2225.0 1401.0 2220.2 1402.7 2219.1" stroke="#008000"/>
<path d="M1087.0 2215.9C1089.4 2213.5 1096.5 2206.4 1101.2 2201.6C1106.0 2196.9 1110.3 2192.5 1115.5 2187.4C1120.8 2182.2 1126.9 2177.9 1132.6 2170.7C1138.4 2163.6 1144.1 2153.7 1149.8 2144.6C1155.5 2135.5 1161.2 2124.4 1166.9 2116.0C1172.6 2107.7 1178.3 2100.0 1184.0 2094.7C1189.7 2089.3 1195.4 2086.3 1201.2 2083.7C1206.9 2081.1 1212.6 2080.5 1218.3 2079.0C1224.0 2077.4 1229.7 2076.3 1235.4 2074.2C1241.1 2072.1 1246.8 2069.4 1252.5 2066.1C1258.2 2062.8 1264.0 2057.8 1269.7 2054.2C1275.4 2050.7 1281.6 2046.7 1286.8 2044.7C1292.0 2042.7 1296.8 2042.0 1301.1 2042.3C1305.3 2042.7 1308.7 2043.5 1312.5 2047.1C1316.3 2050.7 1320.1 2056.2 1323.9 2063.7C1327.7 2071.3 1331.5 2081.2 1335.3 2092.3C1339.1 2103.4 1342.9 2116.8 1346.7 2130.3C1350.5 2143.8 1354.3 2160.4 1358.1 2173.1C1362.0 2185.8 1365.8 2197.7 1369.6 2206.4C1373.4 2215.1 1377.2 2221.6 1381.0 2225.4C1384.8 2229.2 1388.8 2229.6 1392.4 2229.2C1396.0 2228.8 1401.0 2224.1 1402.7 2223.0" stroke="#000080"/>
<path d="M1087.0 2219.9C1089.4 2217.6 1096.5 2210.6 1101.2 2205.9C1106.0 2201.2 1110.3 2196.9 1115.5 2191.8C1120.8 2186.7 1126.9 2182.4 1132.6 2175.4C1138.4 2168.3 1144.1 2158.5 1149.8 2149.5C1155.5 2140.6 1161.2 2129.6 1166.9 2121.4C1172.6 2113.2 1178.3 2105.6 1184.0 2100.3C1189.7 2095.0 1195.4 2092.1 1201.2 2089.5C1206.9 2086.9 1212.6 2086.4 1218.3 2084.8C1224.0 2083.2 1229.7 2082.2 1235.4 2080.1C1241.1 2078.0 1246.8 2075.4 1252.5 2072.1C1258.2 2068.8 1264.0 2063.9 1269.7 2060.4C1275.4 2056.9 1281.6 2053.0 1286.8 2051.0C1292.0 2049.0 1296.8 2048.3 1301.1 2048.7C1305.3 2049.0 1308.7 2049.8 1312.5 2053.3C1316.3 2056.9 1320.1 2062.3 1323.9 2069.8C1327.7 2077.2 1331.5 2087.0 1335.3 2097.9C1339.1 2108.9 1342.9 2122.2 1346.7 2135.5C1350.5 2148.8 1354.3 2165.2 1358.1 2177.7C1362.0 2190.2 1365.8 2202.0 1369.6 2210.6C1373.4 2219.2 1377.2 2225.6 1381.0 2229.3C1384.8 2233.1 1388.8 2233.5 1392.4 2233.1C1396.0 2232.7 1401.0 2228.0 1402.7 2227.0" stroke="#8000ff"/>
<path d="M1087.0 2236.0C1089.4 2233.8 1096.5 2227.1 1101.2 2222.6C1106.0 2218.2 1110.3 2214.1 1115.5 2209.3C1120.8 2204.5 1126.9 2200.4 1132.6 2193.8C1138.4 2187.1 1144.1 2177.8 1149.8 2169.3C1155.5 2160.8 1161.2 2150.4 1166.9 2142.6C1172.6 2134.8 1178.3 2127.7 1184.0 2122.6C1189.7 2117.6 1195.4 2114.8 1201.2 2112.4C1206.9 2110.0 1212.6 2109.4 1218.3 2108.0C1224.0 2106.5 1229.7 2105.5 1235.4 2103.5C1241.1 2101.5 1246.8 2099.1 1252.5 2095.9C1258.2 2092.8 1264.0 2088.2 1269.7 2084.8C1275.4 2081.5 1281.6 2077.8 1286.8 2075.9C1292.0 2074.1 1296.8 2073.4 1301.1 2073.7C1305.3 2074.1 1308.7 2074.8 1312.5 2078.2C1316.3 2081.5 1320.1 2086.7 1323.9 2093.7C1327.7 2100.8 1331.5 2110.0 1335.3 2120.4C1339.1 2130.8 1342.9 2143.4 1346.7 2156.0C1350.5 2168.6 1354.3 2184.1 1358.1 2196.0C1362.0 2207.8 1365.8 2218.9 1369.6 2227.1C1373.4 2235.2 1377.2 2241.3 1381.0 2244.9C1384.8 2248.4 1388.8 2248.8 1392.4 2248.4C1396.0 2248.1 1401.0 2243.6 1402.7 2242.7" stroke="#800080"/>
<path d="M1087.0 2263.1C1089.4 2261.1 1096.5 2255.1 1101.2 2251.1C1106.0 2247.0 1110.3 2243.3 1115.5 2239.0C1120.8 2234.6 1126.9 2230.9 1132.6 2224.9C1138.4 2218.8 1144.1 2210.5 1149.8 2202.7C1155.5 2195.0 1161.2 2185.6 1166.9 2178.6C1172.6 2171.5 1178.3 2165.0 1184.0 2160.5C1189.7 2155.9 1195.4 2153.4 1201.2 2151.2C1206.9 2149.0 1212.6 2148.5 1218.3 2147.2C1224.0 2145.8 1229.7 2144.9 1235.4 2143.1C1241.1 2141.3 1246.8 2139.1 1252.5 2136.3C1258.2 2133.5 1264.0 2129.2 1269.7 2126.2C1275.4 2123.2 1281.6 2119.8 1286.8 2118.2C1292.0 2116.5 1296.8 2115.8 1301.1 2116.2C1305.3 2116.5 1308.7 2117.2 1312.5 2120.2C1316.3 2123.2 1320.1 2127.9 1323.9 2134.3C1327.7 2140.7 1331.5 2149.0 1335.3 2158.4C1339.1 2167.8 1342.9 2179.2 1346.7 2190.7C1350.5 2202.1 1354.3 2216.2 1358.1 2226.9C1362.0 2237.6 1365.8 2247.7 1369.6 2255.1C1373.4 2262.5 1377.2 2268.0 1381.0 2271.2C1384.8 2274.4 1388.8 2274.8 1392.4 2274.4C1396.0 2274.1 1401.0 2270.1 1402.7 2269.2" stroke="#800000"/>
</g>
<rect x="1645" y="1923" width="137" height="332.5" fill="#fff" stroke="#c2c2c2" stroke-width="3.2" rx="1.5"/>
<path d="M1658 1951.3H1679.0M1695.0 1951.3H1716" stroke="#000000" stroke-width="3.6" opacity="0.2" fill="none"/>
<rect x="1683.2" y="1948.0" width="7.6" height="6.6" rx="1.2" fill="#000000" opacity="0.72"/>
<text x="1722.0" y="1960.3" font-size="26" fill="#222" textLength="52.0" lengthAdjust="spacingAndGlyphs">35<tspan font-size="16" dy="-8" font-weight="normal">°</tspan><tspan dy="8">C</tspan></text>
<path d="M1658 1987.0H1679.0M1695.0 1987.0H1716" stroke="#ff0000" stroke-width="3.6" opacity="0.2" fill="none"/>
<rect x="1683.2" y="1983.7" width="7.6" height="6.6" rx="1.2" fill="#ff0000" opacity="0.72"/>
<text x="1722.0" y="1996.0" font-size="26" fill="#222" textLength="52.0" lengthAdjust="spacingAndGlyphs">40<tspan font-size="16" dy="-8" font-weight="normal">°</tspan><tspan dy="8">C</tspan></text>
<path d="M1658 2022.7H1679.0M1695.0 2022.7H1716" stroke="#0000ff" stroke-width="3.6" opacity="0.2" fill="none"/>
<rect x="1683.2" y="2019.4" width="7.6" height="6.6" rx="1.2" fill="#0000ff" opacity="0.72"/>
<text x="1722.0" y="2031.7" font-size="26" fill="#222" textLength="52.0" lengthAdjust="spacingAndGlyphs">45<tspan font-size="16" dy="-8" font-weight="normal">°</tspan><tspan dy="8">C</tspan></text>
<path d="M1658 2058.4H1679.0M1695.0 2058.4H1716" stroke="#ff00ff" stroke-width="3.6" opacity="0.2" fill="none"/>
<rect x="1683.2" y="2055.1" width="7.6" height="6.6" rx="1.2" fill="#ff00ff" opacity="0.72"/>
<text x="1722.0" y="2067.4" font-size="26" fill="#222" textLength="52.0" lengthAdjust="spacingAndGlyphs">50<tspan font-size="16" dy="-8" font-weight="normal">°</tspan><tspan dy="8">C</tspan></text>
<path d="M1658 2094.1H1679.0M1695.0 2094.1H1716" stroke="#008000" stroke-width="3.6" opacity="0.2" fill="none"/>
<rect x="1683.2" y="2090.8" width="7.6" height="6.6" rx="1.2" fill="#008000" opacity="0.72"/>
<text x="1722.0" y="2103.1" font-size="26" fill="#222" textLength="52.0" lengthAdjust="spacingAndGlyphs">55<tspan font-size="16" dy="-8" font-weight="normal">°</tspan><tspan dy="8">C</tspan></text>
<path d="M1658 2129.8H1679.0M1695.0 2129.8H1716" stroke="#000080" stroke-width="3.6" opacity="0.2" fill="none"/>
<rect x="1683.2" y="2126.5" width="7.6" height="6.6" rx="1.2" fill="#000080" opacity="0.72"/>
<text x="1722.0" y="2138.8" font-size="26" fill="#222" textLength="52.0" lengthAdjust="spacingAndGlyphs">60<tspan font-size="16" dy="-8" font-weight="normal">°</tspan><tspan dy="8">C</tspan></text>
<path d="M1658 2165.5H1679.0M1695.0 2165.5H1716" stroke="#8000ff" stroke-width="3.6" opacity="0.2" fill="none"/>
<rect x="1683.2" y="2162.2" width="7.6" height="6.6" rx="1.2" fill="#8000ff" opacity="0.72"/>
<text x="1722.0" y="2174.5" font-size="26" fill="#222" textLength="52.0" lengthAdjust="spacingAndGlyphs">65<tspan font-size="16" dy="-8" font-weight="normal">°</tspan><tspan dy="8">C</tspan></text>
<path d="M1658 2201.2H1679.0M1695.0 2201.2H1716" stroke="#800080" stroke-width="3.6" opacity="0.2" fill="none"/>
<rect x="1683.2" y="2197.9" width="7.6" height="6.6" rx="1.2" fill="#800080" opacity="0.72"/>
<text x="1722.0" y="2210.2" font-size="26" fill="#222" textLength="52.0" lengthAdjust="spacingAndGlyphs">70<tspan font-size="16" dy="-8" font-weight="normal">°</tspan><tspan dy="8">C</tspan></text>
<path d="M1658 2236.9H1679.0M1695.0 2236.9H1716" stroke="#800000" stroke-width="3.6" opacity="0.2" fill="none"/>
<rect x="1683.2" y="2233.6" width="7.6" height="6.6" rx="1.2" fill="#800000" opacity="0.72"/>
<text x="1722.0" y="2245.9" font-size="26" fill="#222" textLength="52.0" lengthAdjust="spacingAndGlyphs">75<tspan font-size="16" dy="-8" font-weight="normal">°</tspan><tspan dy="8">C</tspan></text>
</g>
</svg></body></html>
